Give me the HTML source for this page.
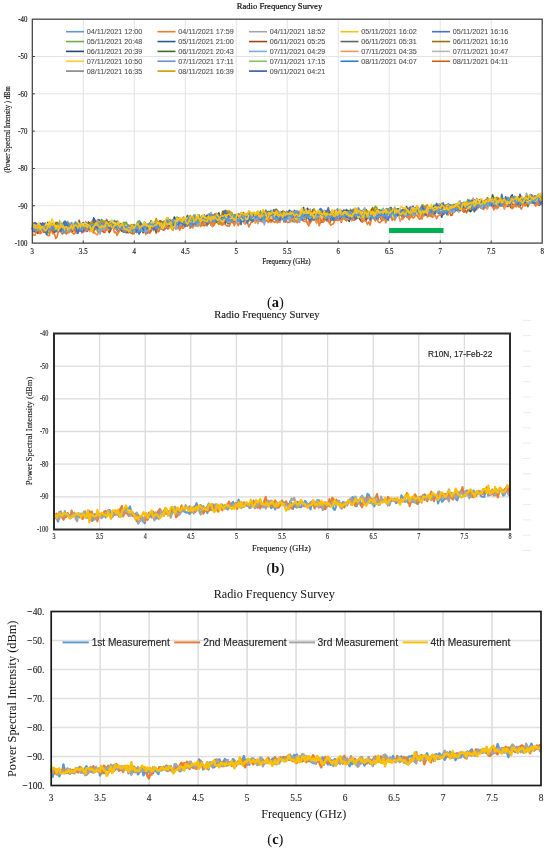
<!DOCTYPE html>
<html><head><meta charset="utf-8"><title>Radio Frequency Survey</title>
<style>html,body{margin:0;padding:0;background:#fff;}body{width:550px;height:852px;overflow:hidden;}</style>
</head><body>
<svg width="550" height="852" viewBox="0 0 550 852" style="display:block">
<rect width="550" height="852" fill="#fff"/>
<path d="M83.29 19.20V243.10M134.28 19.20V243.10M185.27 19.20V243.10M236.26 19.20V243.10M287.25 19.20V243.10M338.24 19.20V243.10M389.23 19.20V243.10M440.22 19.20V243.10M491.21 19.20V243.10M32.30 56.52H542.20M32.30 93.83H542.20M32.30 131.15H542.20M32.30 168.47H542.20M32.30 205.78H542.20" stroke="#E3E3E3" stroke-width="1" fill="none"/>

<polyline points="32.3,226.1 33.6,228.2 34.9,231.7 36.2,228.3 37.5,227.8 38.8,228.0 40.1,227.6 41.4,225.4 42.7,227.3 44.0,227.2 45.3,231.6 46.6,230.1 47.9,227.9 49.3,229.0 50.6,227.4 51.9,227.1 53.2,226.9 54.5,227.5 55.8,226.7 57.1,229.8 58.4,227.7 59.7,224.0 61.0,226.5 62.3,223.7 63.6,225.6 64.9,227.3 66.2,226.3 67.5,223.7 68.8,227.8 70.1,229.7 71.4,226.5 72.7,225.2 74.0,225.8 75.3,229.9 76.6,226.9 77.9,226.7 79.2,227.7 80.6,228.1 81.9,226.3 83.2,227.1 84.5,226.3 85.8,222.6 87.1,226.3 88.4,229.7 89.7,229.7 91.0,229.6 92.3,230.3 93.6,224.5 94.9,222.7 96.2,227.0 97.5,225.4 98.8,227.9 100.1,229.1 101.4,230.2 102.7,226.3 104.0,222.5 105.3,222.2 106.6,224.1 107.9,225.4 109.2,222.5 110.5,222.1 111.8,227.1 113.2,226.3 114.5,227.0 115.8,228.7 117.1,230.2 118.4,229.4 119.7,227.5 121.0,226.9 122.3,226.7 123.6,225.4 124.9,229.4 126.2,231.8 127.5,231.4 128.8,228.7 130.1,230.9 131.4,232.9 132.7,227.7 134.0,226.4 135.3,228.4 136.6,228.5 137.9,232.3 139.2,232.3 140.5,228.8 141.8,227.7 143.1,228.1 144.5,228.1 145.8,227.5 147.1,224.2 148.4,227.7 149.7,226.2 151.0,224.1 152.3,227.1 153.6,225.5 154.9,224.9 156.2,224.7 157.5,229.9 158.8,226.6 160.1,225.5 161.4,222.0 162.7,223.6 164.0,224.3 165.3,221.4 166.6,220.8 167.9,220.0 169.2,219.7 170.5,220.7 171.8,223.1 173.1,221.5 174.4,221.1 175.8,221.1 177.1,221.2 178.4,222.0 179.7,222.8 181.0,222.7 182.3,224.5 183.6,223.8 184.9,220.5 186.2,221.6 187.5,221.7 188.8,223.2 190.1,225.2 191.4,222.0 192.7,218.0 194.0,221.0 195.3,222.2 196.6,220.1 197.9,221.9 199.2,223.2 200.5,225.1 201.8,225.0 203.1,220.7 204.4,220.4 205.7,220.6 207.0,219.7 208.4,221.3 209.7,221.0 211.0,222.6 212.3,223.0 213.6,221.8 214.9,218.1 216.2,218.6 217.5,221.9 218.8,220.7 220.1,219.6 221.4,220.5 222.7,218.4 224.0,220.6 225.3,220.0 226.6,220.4 227.9,223.7 229.2,223.5 230.5,220.6 231.8,215.8 233.1,216.2 234.4,217.1 235.7,219.2 237.0,218.9 238.3,217.3 239.7,217.3 241.0,220.6 242.3,220.0 243.6,218.8 244.9,215.0 246.2,217.9 247.5,218.4 248.8,215.7 250.1,217.2 251.4,215.8 252.7,217.9 254.0,213.7 255.3,216.3 256.6,216.7 257.9,217.4 259.2,216.7 260.5,216.6 261.8,216.7 263.1,214.9 264.4,221.2 265.7,220.1 267.0,217.5 268.3,215.9 269.6,212.8 270.9,214.2 272.3,215.9 273.6,216.7 274.9,211.4 276.2,211.6 277.5,210.3 278.8,216.8 280.1,212.6 281.4,215.3 282.7,217.1 284.0,215.2 285.3,214.8 286.6,216.3 287.9,218.4 289.2,217.0 290.5,217.9 291.8,216.3 293.1,218.0 294.4,215.4 295.7,215.7 297.0,214.0 298.3,217.4 299.6,219.3 300.9,218.9 302.2,213.7 303.6,207.5 304.9,217.1 306.2,216.9 307.5,212.2 308.8,212.8 310.1,212.3 311.4,214.0 312.7,214.2 314.0,215.5 315.3,217.8 316.6,216.2 317.9,217.5 319.2,216.1 320.5,222.4 321.8,221.7 323.1,217.0 324.4,214.9 325.7,212.1 327.0,216.4 328.3,215.6 329.6,218.2 330.9,212.6 332.2,219.7 333.5,214.1 334.8,216.7 336.2,220.2 337.5,217.5 338.8,214.3 340.1,216.2 341.4,217.8 342.7,216.2 344.0,215.5 345.3,214.0 346.6,214.4 347.9,216.9 349.2,217.5 350.5,215.9 351.8,215.6 353.1,215.5 354.4,217.5 355.7,216.1 357.0,217.0 358.3,214.6 359.6,214.9 360.9,216.6 362.2,218.6 363.5,214.3 364.8,217.0 366.1,216.9 367.5,215.5 368.8,214.6 370.1,216.3 371.4,216.8 372.7,217.5 374.0,213.0 375.3,214.9 376.6,216.5 377.9,219.2 379.2,215.9 380.5,212.2 381.8,212.0 383.1,215.9 384.4,214.2 385.7,213.2 387.0,216.6 388.3,214.8 389.6,211.5 390.9,211.3 392.2,216.4 393.5,215.7 394.8,211.0 396.1,212.8 397.4,212.6 398.7,214.5 400.1,210.5 401.4,210.6 402.7,209.9 404.0,214.4 405.3,214.9 406.6,216.2 407.9,216.7 409.2,216.0 410.5,213.2 411.8,214.6 413.1,213.4 414.4,214.0 415.7,211.8 417.0,210.4 418.3,210.0 419.6,210.3 420.9,211.8 422.2,210.8 423.5,212.6 424.8,214.2 426.1,214.7 427.4,212.3 428.7,210.3 430.0,208.1 431.4,210.8 432.7,209.0 434.0,213.7 435.3,210.6 436.6,205.8 437.9,210.7 439.2,213.0 440.5,211.8 441.8,205.1 443.1,206.3 444.4,210.3 445.7,211.8 447.0,214.7 448.3,209.6 449.6,206.3 450.9,211.7 452.2,207.0 453.5,206.3 454.8,205.3 456.1,208.8 457.4,207.4 458.7,204.8 460.0,205.7 461.3,205.9 462.7,207.7 464.0,208.0 465.3,208.3 466.6,206.8 467.9,206.6 469.2,208.1 470.5,211.7 471.8,210.2 473.1,206.1 474.4,203.5 475.7,207.1 477.0,206.8 478.3,204.8 479.6,202.0 480.9,200.6 482.2,203.2 483.5,204.6 484.8,205.5 486.1,203.1 487.4,203.6 488.7,203.2 490.0,204.2 491.3,200.8 492.6,203.5 493.9,205.9 495.3,203.6 496.6,204.3 497.9,200.8 499.2,198.6 500.5,200.2 501.8,202.2 503.1,203.9 504.4,202.1 505.7,196.8 507.0,198.9 508.3,203.6 509.6,203.6 510.9,200.7 512.2,200.7 513.5,200.4 514.8,200.0 516.1,203.1 517.4,202.4 518.7,198.7 520.0,199.6 521.3,201.2 522.6,200.6 523.9,199.3 525.2,200.1 526.6,202.5 527.9,203.1 529.2,199.9 530.5,201.7 531.8,197.1 533.1,202.0 534.4,201.4 535.7,197.1 537.0,196.1 538.3,200.2 539.6,205.3 540.9,202.1 542.2,204.1" fill="none" stroke="#255E91" stroke-width="1.6" stroke-linejoin="round"/>
<polyline points="32.3,229.7 33.6,230.1 34.9,228.9 36.2,229.9 37.5,233.2 38.8,228.5 40.1,231.0 41.4,226.9 42.7,227.7 44.0,232.4 45.3,229.0 46.6,225.4 47.9,225.4 49.3,228.4 50.6,230.1 51.9,227.5 53.2,232.4 54.5,232.5 55.8,228.5 57.1,231.1 58.4,228.9 59.7,231.3 61.0,230.1 62.3,226.4 63.6,227.8 64.9,227.2 66.2,228.7 67.5,229.5 68.8,230.2 70.1,230.1 71.4,227.6 72.7,226.3 74.0,224.2 75.3,226.8 76.6,228.2 77.9,226.3 79.2,225.1 80.6,229.4 81.9,225.3 83.2,229.3 84.5,228.7 85.8,222.1 87.1,224.6 88.4,228.1 89.7,225.4 91.0,224.0 92.3,225.0 93.6,224.7 94.9,225.9 96.2,226.7 97.5,229.8 98.8,229.9 100.1,227.7 101.4,229.4 102.7,226.0 104.0,225.7 105.3,223.3 106.6,223.7 107.9,227.5 109.2,232.6 110.5,230.5 111.8,226.1 113.2,222.1 114.5,225.4 115.8,225.5 117.1,227.9 118.4,232.6 119.7,227.2 121.0,228.4 122.3,230.6 123.6,227.0 124.9,226.3 126.2,222.9 127.5,232.4 128.8,231.6 130.1,229.6 131.4,229.8 132.7,228.1 134.0,227.5 135.3,228.5 136.6,230.0 137.9,231.2 139.2,229.1 140.5,227.4 141.8,229.4 143.1,232.8 144.5,226.5 145.8,228.5 147.1,227.1 148.4,228.5 149.7,226.1 151.0,227.2 152.3,223.7 153.6,223.7 154.9,228.8 156.2,233.0 157.5,227.5 158.8,227.7 160.1,224.4 161.4,224.9 162.7,226.9 164.0,228.3 165.3,226.9 166.6,221.9 167.9,222.1 169.2,224.2 170.5,223.1 171.8,221.9 173.1,224.7 174.4,226.8 175.8,220.8 177.1,223.4 178.4,224.5 179.7,223.5 181.0,225.0 182.3,224.8 183.6,222.3 184.9,223.2 186.2,221.2 187.5,220.0 188.8,217.4 190.1,221.3 191.4,221.8 192.7,221.9 194.0,218.6 195.3,219.4 196.6,219.2 197.9,216.8 199.2,219.5 200.5,220.9 201.8,224.5 203.1,225.5 204.4,222.7 205.7,221.2 207.0,223.5 208.4,222.8 209.7,219.7 211.0,221.7 212.3,222.1 213.6,222.1 214.9,222.9 216.2,218.8 217.5,216.7 218.8,217.0 220.1,217.7 221.4,223.5 222.7,219.3 224.0,219.5 225.3,217.5 226.6,220.5 227.9,217.7 229.2,215.2 230.5,217.4 231.8,218.9 233.1,219.4 234.4,218.4 235.7,220.0 237.0,221.5 238.3,217.6 239.7,215.0 241.0,216.9 242.3,215.7 243.6,215.4 244.9,217.8 246.2,218.9 247.5,219.8 248.8,217.6 250.1,216.9 251.4,219.6 252.7,218.2 254.0,215.8 255.3,218.2 256.6,216.2 257.9,216.6 259.2,217.6 260.5,215.4 261.8,215.8 263.1,217.2 264.4,217.0 265.7,216.3 267.0,215.8 268.3,215.8 269.6,215.9 270.9,217.3 272.3,214.4 273.6,216.9 274.9,217.2 276.2,214.3 277.5,215.8 278.8,221.0 280.1,218.0 281.4,215.4 282.7,216.8 284.0,221.0 285.3,220.0 286.6,219.0 287.9,215.9 289.2,214.8 290.5,216.1 291.8,217.5 293.1,218.7 294.4,216.4 295.7,221.5 297.0,217.1 298.3,215.9 299.6,216.5 300.9,217.1 302.2,216.4 303.6,215.9 304.9,217.9 306.2,215.9 307.5,216.6 308.8,217.8 310.1,222.9 311.4,220.9 312.7,218.1 314.0,217.8 315.3,215.7 316.6,218.9 317.9,214.3 319.2,214.1 320.5,215.7 321.8,217.8 323.1,219.4 324.4,219.5 325.7,218.0 327.0,215.7 328.3,213.7 329.6,212.9 330.9,212.1 332.2,213.0 333.5,216.7 334.8,216.6 336.2,213.9 337.5,216.3 338.8,213.5 340.1,215.5 341.4,218.2 342.7,215.1 344.0,215.1 345.3,218.1 346.6,220.7 347.9,215.5 349.2,213.8 350.5,212.9 351.8,214.1 353.1,217.2 354.4,219.2 355.7,215.7 357.0,213.3 358.3,215.6 359.6,218.7 360.9,220.8 362.2,222.0 363.5,216.2 364.8,215.6 366.1,220.4 367.5,217.3 368.8,213.6 370.1,218.7 371.4,212.7 372.7,211.8 374.0,212.7 375.3,213.5 376.6,213.6 377.9,212.7 379.2,211.9 380.5,217.6 381.8,220.5 383.1,220.3 384.4,215.1 385.7,213.1 387.0,215.7 388.3,214.2 389.6,213.4 390.9,211.5 392.2,212.2 393.5,213.5 394.8,215.7 396.1,214.9 397.4,212.0 398.7,212.4 400.1,211.1 401.4,214.0 402.7,212.0 404.0,213.3 405.3,213.4 406.6,216.4 407.9,212.8 409.2,214.0 410.5,210.4 411.8,210.5 413.1,212.9 414.4,208.8 415.7,207.5 417.0,207.3 418.3,209.0 419.6,211.8 420.9,209.7 422.2,214.0 423.5,212.8 424.8,211.6 426.1,213.9 427.4,208.8 428.7,208.9 430.0,211.6 431.4,215.4 432.7,212.3 434.0,208.5 435.3,208.5 436.6,211.9 437.9,212.7 439.2,210.6 440.5,212.7 441.8,213.0 443.1,207.2 444.4,208.8 445.7,208.6 447.0,209.0 448.3,206.5 449.6,206.2 450.9,208.6 452.2,209.6 453.5,208.8 454.8,206.2 456.1,207.8 457.4,209.7 458.7,205.3 460.0,206.6 461.3,205.3 462.7,203.6 464.0,205.0 465.3,204.9 466.6,206.1 467.9,204.7 469.2,203.9 470.5,205.0 471.8,205.9 473.1,206.0 474.4,205.5 475.7,204.5 477.0,205.0 478.3,203.5 479.6,204.5 480.9,202.1 482.2,203.7 483.5,204.9 484.8,203.3 486.1,204.1 487.4,197.7 488.7,203.4 490.0,202.9 491.3,200.4 492.6,204.1 493.9,206.0 495.3,205.2 496.6,201.6 497.9,204.2 499.2,199.7 500.5,200.9 501.8,202.5 503.1,200.8 504.4,202.6 505.7,204.2 507.0,206.4 508.3,206.4 509.6,204.1 510.9,207.7 512.2,207.7 513.5,206.7 514.8,204.0 516.1,205.7 517.4,202.6 518.7,197.4 520.0,200.7 521.3,198.6 522.6,201.8 523.9,204.6 525.2,204.0 526.6,203.3 527.9,200.7 529.2,199.9 530.5,200.9 531.8,202.5 533.1,203.3 534.4,202.7 535.7,203.2 537.0,201.8 538.3,195.5 539.6,198.2 540.9,202.5 542.2,200.9" fill="none" stroke="#9E480E" stroke-width="1.6" stroke-linejoin="round"/>
<polyline points="32.3,230.2 33.6,231.6 34.9,229.2 36.2,231.6 37.5,231.1 38.8,228.3 40.1,227.6 41.4,229.3 42.7,227.2 44.0,224.4 45.3,223.5 46.6,225.0 47.9,227.0 49.3,224.9 50.6,227.5 51.9,227.8 53.2,225.3 54.5,225.8 55.8,226.4 57.1,228.7 58.4,227.6 59.7,226.0 61.0,225.1 62.3,226.2 63.6,229.2 64.9,222.5 66.2,224.4 67.5,227.7 68.8,224.5 70.1,226.7 71.4,226.8 72.7,224.0 74.0,229.0 75.3,230.0 76.6,229.3 77.9,226.8 79.2,220.2 80.6,226.8 81.9,229.1 83.2,226.5 84.5,224.2 85.8,223.8 87.1,226.5 88.4,221.9 89.7,224.9 91.0,227.9 92.3,227.5 93.6,225.0 94.9,225.5 96.2,226.3 97.5,224.0 98.8,219.5 100.1,221.3 101.4,226.0 102.7,226.3 104.0,223.7 105.3,227.5 106.6,229.4 107.9,228.0 109.2,228.5 110.5,228.8 111.8,226.6 113.2,227.1 114.5,226.4 115.8,225.4 117.1,227.7 118.4,230.1 119.7,228.9 121.0,226.1 122.3,229.7 123.6,230.2 124.9,227.8 126.2,230.3 127.5,230.5 128.8,228.4 130.1,229.2 131.4,230.4 132.7,229.7 134.0,227.1 135.3,228.5 136.6,230.5 137.9,229.1 139.2,225.5 140.5,227.9 141.8,227.5 143.1,227.5 144.5,228.7 145.8,228.1 147.1,229.4 148.4,227.7 149.7,224.8 151.0,225.9 152.3,223.3 153.6,224.8 154.9,224.5 156.2,225.5 157.5,226.6 158.8,222.5 160.1,221.3 161.4,223.5 162.7,224.5 164.0,224.7 165.3,222.8 166.6,220.9 167.9,221.0 169.2,222.6 170.5,223.2 171.8,223.0 173.1,223.9 174.4,224.4 175.8,219.3 177.1,223.7 178.4,224.2 179.7,219.8 181.0,220.3 182.3,220.9 183.6,222.8 184.9,221.8 186.2,218.9 187.5,215.3 188.8,219.3 190.1,220.9 191.4,220.2 192.7,221.5 194.0,224.0 195.3,225.5 196.6,221.9 197.9,223.6 199.2,219.6 200.5,222.0 201.8,222.8 203.1,224.2 204.4,224.0 205.7,222.6 207.0,220.5 208.4,221.6 209.7,221.5 211.0,221.5 212.3,219.2 213.6,218.7 214.9,219.2 216.2,222.3 217.5,222.6 218.8,222.7 220.1,220.0 221.4,224.4 222.7,217.7 224.0,219.8 225.3,220.9 226.6,219.4 227.9,219.8 229.2,219.7 230.5,218.1 231.8,217.7 233.1,219.1 234.4,216.3 235.7,220.5 237.0,217.3 238.3,217.9 239.7,220.1 241.0,216.3 242.3,215.6 243.6,220.6 244.9,217.3 246.2,217.6 247.5,218.1 248.8,220.9 250.1,216.5 251.4,214.6 252.7,216.7 254.0,219.0 255.3,218.4 256.6,216.9 257.9,218.3 259.2,220.9 260.5,221.1 261.8,220.9 263.1,216.9 264.4,212.3 265.7,213.2 267.0,216.8 268.3,216.7 269.6,214.5 270.9,214.3 272.3,213.4 273.6,215.2 274.9,216.8 276.2,214.4 277.5,212.3 278.8,214.1 280.1,212.0 281.4,217.2 282.7,217.0 284.0,215.6 285.3,215.7 286.6,213.8 287.9,214.4 289.2,213.7 290.5,213.0 291.8,217.9 293.1,216.3 294.4,212.4 295.7,216.5 297.0,219.2 298.3,219.1 299.6,219.3 300.9,217.1 302.2,215.5 303.6,214.9 304.9,214.3 306.2,215.7 307.5,213.9 308.8,214.1 310.1,218.9 311.4,218.5 312.7,216.1 314.0,217.9 315.3,214.7 316.6,217.3 317.9,217.7 319.2,215.1 320.5,211.5 321.8,217.1 323.1,216.5 324.4,216.9 325.7,214.7 327.0,215.4 328.3,215.6 329.6,214.7 330.9,215.8 332.2,215.0 333.5,214.1 334.8,215.2 336.2,216.3 337.5,217.3 338.8,214.9 340.1,215.0 341.4,216.0 342.7,217.1 344.0,217.3 345.3,216.8 346.6,211.7 347.9,211.9 349.2,211.2 350.5,218.4 351.8,218.7 353.1,214.8 354.4,215.2 355.7,216.3 357.0,216.5 358.3,216.7 359.6,219.0 360.9,210.5 362.2,214.0 363.5,214.5 364.8,212.6 366.1,214.4 367.5,213.7 368.8,212.5 370.1,212.2 371.4,212.4 372.7,211.2 374.0,211.1 375.3,212.8 376.6,212.9 377.9,214.3 379.2,212.9 380.5,217.1 381.8,217.9 383.1,215.7 384.4,213.4 385.7,215.0 387.0,214.2 388.3,210.4 389.6,208.5 390.9,207.5 392.2,209.8 393.5,211.2 394.8,212.3 396.1,215.0 397.4,213.2 398.7,212.5 400.1,210.2 401.4,211.2 402.7,214.2 404.0,213.2 405.3,211.3 406.6,212.1 407.9,213.3 409.2,211.5 410.5,215.6 411.8,212.0 413.1,214.0 414.4,215.5 415.7,212.8 417.0,210.2 418.3,214.7 419.6,212.7 420.9,211.9 422.2,212.8 423.5,212.7 424.8,211.6 426.1,210.0 427.4,208.8 428.7,215.9 430.0,210.9 431.4,209.2 432.7,213.3 434.0,209.3 435.3,207.9 436.6,210.0 437.9,209.4 439.2,211.1 440.5,212.3 441.8,211.4 443.1,210.4 444.4,207.6 445.7,209.5 447.0,207.2 448.3,205.7 449.6,205.2 450.9,207.2 452.2,207.2 453.5,209.6 454.8,209.3 456.1,203.8 457.4,204.6 458.7,209.1 460.0,208.5 461.3,203.4 462.7,204.6 464.0,203.0 465.3,202.5 466.6,205.2 467.9,204.5 469.2,207.9 470.5,206.0 471.8,203.2 473.1,202.1 474.4,204.0 475.7,203.8 477.0,205.5 478.3,203.2 479.6,206.5 480.9,205.3 482.2,204.6 483.5,205.8 484.8,205.1 486.1,203.6 487.4,200.6 488.7,200.7 490.0,201.4 491.3,201.4 492.6,201.8 493.9,204.3 495.3,203.4 496.6,202.2 497.9,200.3 499.2,200.6 500.5,200.9 501.8,203.1 503.1,199.1 504.4,202.6 505.7,203.7 507.0,201.7 508.3,201.1 509.6,201.2 510.9,198.7 512.2,202.2 513.5,203.4 514.8,203.9 516.1,199.2 517.4,201.5 518.7,203.0 520.0,205.5 521.3,203.7 522.6,202.1 523.9,199.4 525.2,197.7 526.6,197.7 527.9,201.2 529.2,199.5 530.5,196.5 531.8,197.6 533.1,197.4 534.4,196.5 535.7,197.8 537.0,197.9 538.3,194.7 539.6,201.0 540.9,198.9 542.2,197.4" fill="none" stroke="#636363" stroke-width="1.6" stroke-linejoin="round"/>
<polyline points="32.3,229.1 33.6,226.1 34.9,223.2 36.2,223.6 37.5,224.6 38.8,228.3 40.1,228.8 41.4,227.5 42.7,223.6 44.0,226.8 45.3,224.6 46.6,225.4 47.9,228.5 49.3,226.0 50.6,223.8 51.9,224.9 53.2,225.8 54.5,225.4 55.8,230.0 57.1,228.9 58.4,226.9 59.7,225.0 61.0,224.4 62.3,227.9 63.6,226.9 64.9,224.1 66.2,224.5 67.5,228.4 68.8,229.6 70.1,228.1 71.4,227.5 72.7,231.4 74.0,225.1 75.3,226.2 76.6,224.2 77.9,223.4 79.2,227.7 80.6,230.9 81.9,230.3 83.2,224.2 84.5,227.3 85.8,227.6 87.1,229.7 88.4,228.1 89.7,225.7 91.0,225.1 92.3,226.3 93.6,228.4 94.9,227.0 96.2,225.8 97.5,223.4 98.8,226.8 100.1,228.2 101.4,225.3 102.7,226.4 104.0,222.1 105.3,221.6 106.6,225.0 107.9,225.1 109.2,223.9 110.5,227.3 111.8,222.8 113.2,221.6 114.5,224.1 115.8,225.5 117.1,227.6 118.4,228.1 119.7,225.6 121.0,225.9 122.3,227.6 123.6,225.4 124.9,227.2 126.2,226.0 127.5,229.4 128.8,227.6 130.1,226.3 131.4,226.3 132.7,228.9 134.0,229.2 135.3,228.4 136.6,226.9 137.9,230.3 139.2,230.4 140.5,231.7 141.8,225.4 143.1,226.9 144.5,228.3 145.8,227.6 147.1,225.8 148.4,227.2 149.7,227.0 151.0,229.9 152.3,229.0 153.6,223.9 154.9,225.6 156.2,228.8 157.5,225.5 158.8,222.8 160.1,221.6 161.4,225.6 162.7,225.0 164.0,226.8 165.3,228.7 166.6,226.7 167.9,224.3 169.2,224.5 170.5,224.0 171.8,223.9 173.1,221.2 174.4,217.1 175.8,219.5 177.1,218.8 178.4,217.9 179.7,224.5 181.0,225.4 182.3,224.4 183.6,224.1 184.9,220.1 186.2,223.5 187.5,222.7 188.8,219.5 190.1,222.1 191.4,220.0 192.7,218.8 194.0,220.8 195.3,217.7 196.6,218.1 197.9,219.1 199.2,220.7 200.5,221.4 201.8,216.7 203.1,220.3 204.4,220.8 205.7,220.3 207.0,219.9 208.4,218.9 209.7,220.9 211.0,219.3 212.3,217.7 213.6,221.1 214.9,220.4 216.2,221.9 217.5,219.7 218.8,218.8 220.1,219.7 221.4,215.7 222.7,220.4 224.0,216.8 225.3,218.2 226.6,218.5 227.9,220.1 229.2,217.3 230.5,218.1 231.8,222.0 233.1,219.7 234.4,218.4 235.7,217.3 237.0,220.0 238.3,217.0 239.7,216.3 241.0,215.1 242.3,219.6 243.6,217.6 244.9,223.7 246.2,221.9 247.5,219.1 248.8,219.7 250.1,216.7 251.4,218.2 252.7,217.5 254.0,217.3 255.3,216.1 256.6,217.8 257.9,215.3 259.2,216.7 260.5,215.9 261.8,214.9 263.1,215.4 264.4,218.1 265.7,218.0 267.0,217.6 268.3,215.6 269.6,216.5 270.9,221.4 272.3,220.9 273.6,215.4 274.9,217.3 276.2,215.2 277.5,216.6 278.8,214.7 280.1,215.3 281.4,217.1 282.7,212.7 284.0,211.7 285.3,214.1 286.6,218.8 287.9,217.0 289.2,214.0 290.5,213.2 291.8,217.6 293.1,221.6 294.4,218.5 295.7,214.8 297.0,216.1 298.3,212.7 299.6,214.6 300.9,212.6 302.2,217.3 303.6,215.7 304.9,214.4 306.2,215.7 307.5,208.2 308.8,211.8 310.1,215.7 311.4,214.7 312.7,215.9 314.0,215.3 315.3,212.4 316.6,213.5 317.9,211.4 319.2,214.2 320.5,213.1 321.8,212.8 323.1,212.4 324.4,215.1 325.7,214.0 327.0,214.7 328.3,217.6 329.6,213.8 330.9,214.5 332.2,216.3 333.5,213.5 334.8,212.7 336.2,215.4 337.5,213.7 338.8,211.8 340.1,213.7 341.4,214.8 342.7,215.8 344.0,216.6 345.3,213.0 346.6,214.9 347.9,218.1 349.2,221.3 350.5,216.2 351.8,216.3 353.1,215.4 354.4,214.8 355.7,214.9 357.0,213.2 358.3,212.3 359.6,214.7 360.9,214.1 362.2,215.0 363.5,212.7 364.8,214.5 366.1,214.7 367.5,213.7 368.8,214.2 370.1,215.1 371.4,213.4 372.7,212.4 374.0,214.2 375.3,215.0 376.6,212.0 377.9,214.0 379.2,216.6 380.5,216.7 381.8,214.6 383.1,211.5 384.4,210.7 385.7,212.6 387.0,216.6 388.3,214.7 389.6,210.8 390.9,211.2 392.2,212.3 393.5,211.6 394.8,213.1 396.1,212.1 397.4,211.9 398.7,213.5 400.1,210.7 401.4,212.2 402.7,211.5 404.0,213.3 405.3,208.4 406.6,206.6 407.9,211.4 409.2,210.7 410.5,212.3 411.8,208.2 413.1,213.3 414.4,212.6 415.7,211.2 417.0,207.6 418.3,211.8 419.6,209.6 420.9,207.6 422.2,209.2 423.5,210.7 424.8,209.5 426.1,210.4 427.4,208.5 428.7,208.4 430.0,208.7 431.4,207.7 432.7,210.0 434.0,209.9 435.3,208.3 436.6,207.7 437.9,209.3 439.2,207.4 440.5,207.1 441.8,208.0 443.1,208.8 444.4,208.7 445.7,205.8 447.0,208.0 448.3,204.7 449.6,208.3 450.9,210.6 452.2,206.5 453.5,206.7 454.8,207.9 456.1,207.3 457.4,206.7 458.7,205.3 460.0,208.4 461.3,207.6 462.7,202.9 464.0,203.8 465.3,204.7 466.6,202.1 467.9,204.2 469.2,200.6 470.5,204.7 471.8,203.7 473.1,202.5 474.4,200.0 475.7,201.0 477.0,201.5 478.3,200.7 479.6,199.7 480.9,200.1 482.2,203.3 483.5,203.1 484.8,202.1 486.1,205.7 487.4,205.8 488.7,201.5 490.0,200.7 491.3,202.4 492.6,203.7 493.9,203.5 495.3,200.5 496.6,197.5 497.9,200.8 499.2,200.4 500.5,201.2 501.8,201.3 503.1,200.0 504.4,204.0 505.7,202.6 507.0,200.3 508.3,201.2 509.6,203.3 510.9,196.6 512.2,194.9 513.5,200.2 514.8,198.4 516.1,199.0 517.4,200.7 518.7,202.9 520.0,199.1 521.3,199.4 522.6,201.2 523.9,198.6 525.2,200.1 526.6,197.6 527.9,199.1 529.2,199.6 530.5,194.7 531.8,195.2 533.1,197.6 534.4,201.1 535.7,200.3 537.0,198.4 538.3,200.2 539.6,200.4 540.9,198.0 542.2,197.8" fill="none" stroke="#264478" stroke-width="1.6" stroke-linejoin="round"/>
<polyline points="32.3,226.9 33.6,227.4 34.9,228.5 36.2,230.1 37.5,228.0 38.8,227.3 40.1,226.2 41.4,227.4 42.7,228.6 44.0,223.8 45.3,223.3 46.6,228.0 47.9,229.5 49.3,222.5 50.6,222.7 51.9,226.1 53.2,230.1 54.5,224.3 55.8,224.8 57.1,229.8 58.4,232.4 59.7,225.9 61.0,228.3 62.3,227.5 63.6,225.8 64.9,225.1 66.2,227.4 67.5,226.1 68.8,226.8 70.1,227.5 71.4,226.4 72.7,227.7 74.0,228.0 75.3,228.3 76.6,230.7 77.9,229.8 79.2,229.4 80.6,226.6 81.9,228.8 83.2,223.1 84.5,225.3 85.8,227.1 87.1,229.3 88.4,227.2 89.7,222.7 91.0,225.9 92.3,229.1 93.6,224.0 94.9,221.8 96.2,225.6 97.5,224.8 98.8,222.8 100.1,228.9 101.4,223.6 102.7,225.6 104.0,223.6 105.3,221.5 106.6,222.1 107.9,222.6 109.2,221.8 110.5,225.4 111.8,225.0 113.2,226.4 114.5,225.3 115.8,227.2 117.1,228.9 118.4,228.2 119.7,225.6 121.0,230.5 122.3,231.4 123.6,232.1 124.9,231.6 126.2,232.7 127.5,232.0 128.8,230.6 130.1,225.6 131.4,228.1 132.7,231.3 134.0,233.7 135.3,230.7 136.6,226.1 137.9,228.1 139.2,226.3 140.5,226.7 141.8,227.7 143.1,228.2 144.5,227.9 145.8,228.1 147.1,228.3 148.4,226.0 149.7,223.4 151.0,224.6 152.3,228.2 153.6,224.4 154.9,224.1 156.2,225.6 157.5,222.8 158.8,221.7 160.1,220.8 161.4,227.3 162.7,223.7 164.0,225.7 165.3,223.6 166.6,221.4 167.9,219.4 169.2,222.1 170.5,223.9 171.8,220.8 173.1,220.5 174.4,220.9 175.8,227.3 177.1,224.4 178.4,228.1 179.7,222.4 181.0,221.9 182.3,223.1 183.6,220.9 184.9,220.3 186.2,218.2 187.5,217.6 188.8,220.4 190.1,221.9 191.4,222.5 192.7,219.1 194.0,221.1 195.3,221.6 196.6,220.3 197.9,222.4 199.2,222.0 200.5,220.8 201.8,219.5 203.1,223.3 204.4,224.0 205.7,222.5 207.0,222.3 208.4,221.7 209.7,218.9 211.0,219.8 212.3,215.4 213.6,216.4 214.9,218.8 216.2,219.0 217.5,216.2 218.8,212.8 220.1,216.8 221.4,220.1 222.7,217.1 224.0,211.0 225.3,218.7 226.6,219.0 227.9,218.1 229.2,218.3 230.5,215.2 231.8,218.4 233.1,217.6 234.4,215.9 235.7,215.6 237.0,217.2 238.3,216.8 239.7,218.8 241.0,224.4 242.3,217.2 243.6,216.5 244.9,217.1 246.2,216.3 247.5,220.2 248.8,215.7 250.1,218.7 251.4,220.4 252.7,220.0 254.0,217.3 255.3,218.1 256.6,216.6 257.9,219.3 259.2,215.3 260.5,216.1 261.8,212.9 263.1,215.4 264.4,217.7 265.7,218.6 267.0,220.9 268.3,218.8 269.6,219.8 270.9,217.8 272.3,212.9 273.6,217.7 274.9,215.6 276.2,215.4 277.5,216.8 278.8,217.0 280.1,216.8 281.4,212.0 282.7,213.0 284.0,213.7 285.3,218.7 286.6,217.2 287.9,217.5 289.2,213.8 290.5,215.8 291.8,216.9 293.1,215.1 294.4,214.8 295.7,214.6 297.0,211.5 298.3,212.5 299.6,214.5 300.9,214.3 302.2,216.7 303.6,218.6 304.9,217.2 306.2,220.0 307.5,214.7 308.8,216.7 310.1,219.9 311.4,215.0 312.7,209.9 314.0,216.0 315.3,216.2 316.6,215.4 317.9,217.6 319.2,213.0 320.5,215.5 321.8,214.6 323.1,213.6 324.4,215.2 325.7,214.9 327.0,219.3 328.3,219.3 329.6,216.0 330.9,216.9 332.2,216.9 333.5,215.3 334.8,213.2 336.2,211.1 337.5,209.9 338.8,211.0 340.1,212.8 341.4,216.8 342.7,217.7 344.0,218.1 345.3,216.1 346.6,213.4 347.9,210.5 349.2,215.2 350.5,213.9 351.8,215.7 353.1,216.0 354.4,217.5 355.7,209.9 357.0,212.9 358.3,214.3 359.6,214.9 360.9,216.9 362.2,212.7 363.5,212.5 364.8,211.2 366.1,209.7 367.5,211.9 368.8,215.1 370.1,215.6 371.4,216.1 372.7,210.1 374.0,215.3 375.3,212.2 376.6,214.8 377.9,213.4 379.2,213.7 380.5,215.1 381.8,211.3 383.1,211.2 384.4,212.2 385.7,210.4 387.0,209.3 388.3,215.2 389.6,215.3 390.9,216.6 392.2,215.4 393.5,214.0 394.8,213.6 396.1,212.0 397.4,208.8 398.7,210.2 400.1,212.8 401.4,211.7 402.7,212.8 404.0,210.5 405.3,212.5 406.6,213.1 407.9,215.3 409.2,212.8 410.5,208.9 411.8,216.4 413.1,213.3 414.4,213.2 415.7,212.4 417.0,209.3 418.3,213.1 419.6,215.1 420.9,212.3 422.2,211.1 423.5,208.8 424.8,206.9 426.1,207.7 427.4,208.2 428.7,211.3 430.0,211.7 431.4,209.0 432.7,207.2 434.0,206.6 435.3,207.7 436.6,210.2 437.9,210.3 439.2,206.4 440.5,207.4 441.8,212.2 443.1,208.2 444.4,208.0 445.7,210.7 447.0,211.2 448.3,206.8 449.6,207.3 450.9,210.8 452.2,208.1 453.5,205.1 454.8,206.9 456.1,204.5 457.4,208.9 458.7,205.2 460.0,207.5 461.3,209.3 462.7,207.4 464.0,205.5 465.3,208.7 466.6,204.4 467.9,205.5 469.2,211.1 470.5,206.2 471.8,203.6 473.1,208.1 474.4,211.6 475.7,204.6 477.0,201.9 478.3,201.6 479.6,206.6 480.9,207.6 482.2,205.5 483.5,202.1 484.8,205.6 486.1,205.0 487.4,206.8 488.7,201.1 490.0,202.7 491.3,201.3 492.6,194.8 493.9,198.9 495.3,201.4 496.6,202.8 497.9,203.9 499.2,205.6 500.5,201.3 501.8,202.4 503.1,203.1 504.4,204.8 505.7,199.5 507.0,200.3 508.3,201.1 509.6,202.0 510.9,199.8 512.2,198.4 513.5,199.6 514.8,203.8 516.1,205.1 517.4,201.3 518.7,200.7 520.0,206.2 521.3,203.9 522.6,201.8 523.9,199.6 525.2,197.8 526.6,199.9 527.9,198.1 529.2,199.4 530.5,197.9 531.8,200.5 533.1,199.3 534.4,197.3 535.7,199.9 537.0,204.6 538.3,200.6 539.6,198.0 540.9,199.1 542.2,201.1" fill="none" stroke="#43682B" stroke-width="1.6" stroke-linejoin="round"/>
<polyline points="32.3,229.2 33.6,228.2 34.9,227.9 36.2,232.0 37.5,226.4 38.8,223.7 40.1,226.6 41.4,227.0 42.7,225.0 44.0,229.4 45.3,230.5 46.6,230.3 47.9,227.4 49.3,225.8 50.6,226.5 51.9,225.2 53.2,224.4 54.5,225.6 55.8,228.1 57.1,226.7 58.4,224.3 59.7,228.4 61.0,227.8 62.3,227.7 63.6,227.6 64.9,229.6 66.2,228.7 67.5,221.2 68.8,223.6 70.1,227.6 71.4,226.5 72.7,225.2 74.0,226.6 75.3,225.5 76.6,227.7 77.9,227.6 79.2,227.1 80.6,228.6 81.9,232.0 83.2,227.5 84.5,225.4 85.8,225.3 87.1,227.5 88.4,225.4 89.7,225.9 91.0,230.0 92.3,230.4 93.6,225.3 94.9,226.1 96.2,221.9 97.5,219.7 98.8,224.9 100.1,226.1 101.4,224.3 102.7,223.3 104.0,225.6 105.3,221.2 106.6,220.7 107.9,222.0 109.2,223.9 110.5,221.4 111.8,221.8 113.2,225.2 114.5,220.2 115.8,223.8 117.1,224.4 118.4,225.8 119.7,224.4 121.0,223.4 122.3,228.0 123.6,230.7 124.9,229.1 126.2,230.6 127.5,229.7 128.8,228.2 130.1,227.4 131.4,225.8 132.7,229.6 134.0,228.1 135.3,228.1 136.6,223.7 137.9,221.4 139.2,224.8 140.5,223.6 141.8,228.0 143.1,231.1 144.5,230.9 145.8,230.8 147.1,229.0 148.4,226.3 149.7,222.8 151.0,223.1 152.3,223.9 153.6,225.7 154.9,226.2 156.2,224.5 157.5,223.7 158.8,223.2 160.1,223.0 161.4,224.7 162.7,228.4 164.0,227.3 165.3,225.0 166.6,220.5 167.9,223.4 169.2,221.4 170.5,219.3 171.8,221.6 173.1,223.5 174.4,223.7 175.8,224.4 177.1,221.3 178.4,219.1 179.7,219.8 181.0,219.5 182.3,218.6 183.6,216.9 184.9,221.4 186.2,220.6 187.5,218.6 188.8,218.8 190.1,225.6 191.4,222.7 192.7,221.4 194.0,222.0 195.3,218.4 196.6,219.0 197.9,221.1 199.2,223.6 200.5,223.2 201.8,221.6 203.1,219.1 204.4,222.4 205.7,224.8 207.0,223.5 208.4,220.3 209.7,214.3 211.0,212.5 212.3,217.7 213.6,215.7 214.9,214.0 216.2,214.7 217.5,218.4 218.8,221.2 220.1,220.7 221.4,222.2 222.7,217.8 224.0,216.8 225.3,221.3 226.6,218.2 227.9,216.0 229.2,213.8 230.5,213.4 231.8,215.4 233.1,218.8 234.4,218.0 235.7,215.2 237.0,218.1 238.3,216.9 239.7,213.8 241.0,216.8 242.3,220.3 243.6,218.4 244.9,216.3 246.2,217.1 247.5,214.6 248.8,214.5 250.1,218.4 251.4,218.7 252.7,218.2 254.0,219.6 255.3,217.0 256.6,217.2 257.9,216.0 259.2,218.6 260.5,218.5 261.8,214.0 263.1,218.4 264.4,219.0 265.7,218.7 267.0,218.1 268.3,218.8 269.6,217.2 270.9,218.0 272.3,217.2 273.6,215.1 274.9,213.9 276.2,214.7 277.5,216.8 278.8,214.9 280.1,215.5 281.4,216.3 282.7,218.6 284.0,214.4 285.3,214.1 286.6,211.1 287.9,213.3 289.2,217.7 290.5,218.0 291.8,213.8 293.1,216.1 294.4,214.1 295.7,214.3 297.0,210.5 298.3,213.3 299.6,211.1 300.9,211.6 302.2,215.7 303.6,215.3 304.9,212.0 306.2,214.6 307.5,216.5 308.8,211.9 310.1,209.1 311.4,213.4 312.7,212.1 314.0,214.1 315.3,212.4 316.6,214.5 317.9,212.2 319.2,213.4 320.5,214.9 321.8,214.7 323.1,216.5 324.4,217.9 325.7,217.7 327.0,215.9 328.3,216.8 329.6,214.0 330.9,212.9 332.2,213.4 333.5,215.3 334.8,214.8 336.2,214.0 337.5,212.1 338.8,216.0 340.1,216.0 341.4,215.3 342.7,215.6 344.0,216.9 345.3,216.1 346.6,213.3 347.9,215.4 349.2,212.2 350.5,209.2 351.8,211.6 353.1,217.4 354.4,213.2 355.7,212.4 357.0,213.5 358.3,217.0 359.6,213.9 360.9,215.6 362.2,211.1 363.5,209.6 364.8,207.8 366.1,214.1 367.5,216.7 368.8,211.7 370.1,211.4 371.4,213.5 372.7,210.4 374.0,212.0 375.3,215.8 376.6,214.7 377.9,214.2 379.2,213.1 380.5,212.4 381.8,213.9 383.1,213.1 384.4,211.6 385.7,212.7 387.0,213.5 388.3,213.6 389.6,214.1 390.9,216.8 392.2,213.5 393.5,214.5 394.8,213.4 396.1,215.2 397.4,211.2 398.7,212.1 400.1,215.0 401.4,212.6 402.7,212.8 404.0,208.2 405.3,210.4 406.6,213.1 407.9,211.5 409.2,211.0 410.5,208.9 411.8,210.1 413.1,210.9 414.4,213.3 415.7,209.1 417.0,205.8 418.3,208.4 419.6,210.3 420.9,210.6 422.2,212.1 423.5,210.8 424.8,212.3 426.1,210.8 427.4,211.3 428.7,211.8 430.0,209.7 431.4,212.5 432.7,210.8 434.0,211.6 435.3,205.0 436.6,203.4 437.9,205.1 439.2,203.8 440.5,206.0 441.8,206.8 443.1,208.8 444.4,209.6 445.7,207.6 447.0,208.3 448.3,207.6 449.6,205.5 450.9,207.3 452.2,210.0 453.5,207.7 454.8,207.8 456.1,207.1 457.4,207.4 458.7,202.1 460.0,200.7 461.3,205.8 462.7,203.2 464.0,203.4 465.3,206.4 466.6,203.6 467.9,200.4 469.2,200.6 470.5,200.3 471.8,205.7 473.1,205.4 474.4,202.9 475.7,202.4 477.0,203.2 478.3,204.1 479.6,204.4 480.9,204.3 482.2,203.4 483.5,207.7 484.8,200.5 486.1,203.4 487.4,205.3 488.7,202.4 490.0,204.6 491.3,201.8 492.6,202.2 493.9,200.1 495.3,198.8 496.6,198.3 497.9,201.5 499.2,201.8 500.5,201.6 501.8,203.5 503.1,199.9 504.4,200.6 505.7,202.6 507.0,197.6 508.3,197.3 509.6,202.1 510.9,198.9 512.2,196.7 513.5,198.0 514.8,202.2 516.1,203.3 517.4,201.1 518.7,201.1 520.0,200.2 521.3,199.6 522.6,198.9 523.9,200.7 525.2,198.9 526.6,193.3 527.9,198.1 529.2,197.7 530.5,198.3 531.8,199.0 533.1,200.8 534.4,198.4 535.7,198.6 537.0,196.4 538.3,194.1 539.6,197.3 540.9,197.5 542.2,200.5" fill="none" stroke="#A5A5A5" stroke-width="1.6" stroke-linejoin="round"/>
<polyline points="32.3,224.6 33.6,226.3 34.9,226.8 36.2,227.8 37.5,228.0 38.8,231.6 40.1,231.2 41.4,227.7 42.7,229.9 44.0,224.3 45.3,224.8 46.6,229.7 47.9,232.9 49.3,232.6 50.6,226.9 51.9,226.1 53.2,223.3 54.5,224.0 55.8,222.4 57.1,224.1 58.4,228.1 59.7,227.4 61.0,228.3 62.3,227.6 63.6,227.7 64.9,226.5 66.2,223.7 67.5,227.5 68.8,229.4 70.1,228.3 71.4,228.0 72.7,227.9 74.0,227.2 75.3,227.0 76.6,224.2 77.9,224.8 79.2,227.8 80.6,224.6 81.9,223.4 83.2,226.7 84.5,228.3 85.8,226.2 87.1,226.5 88.4,226.6 89.7,227.9 91.0,222.7 92.3,225.9 93.6,225.8 94.9,227.3 96.2,227.3 97.5,231.6 98.8,231.2 100.1,231.2 101.4,225.2 102.7,228.6 104.0,228.5 105.3,223.4 106.6,225.3 107.9,224.6 109.2,221.8 110.5,222.6 111.8,223.4 113.2,224.2 114.5,228.2 115.8,222.5 117.1,220.9 118.4,221.8 119.7,229.6 121.0,228.6 122.3,226.6 123.6,222.2 124.9,223.2 126.2,222.0 127.5,225.1 128.8,228.5 130.1,230.3 131.4,228.0 132.7,225.0 134.0,229.8 135.3,231.9 136.6,227.1 137.9,223.2 139.2,220.7 140.5,222.6 141.8,225.0 143.1,230.1 144.5,228.1 145.8,226.9 147.1,226.1 148.4,227.2 149.7,223.7 151.0,222.0 152.3,224.4 153.6,225.3 154.9,224.1 156.2,223.3 157.5,222.8 158.8,225.1 160.1,221.4 161.4,223.3 162.7,223.8 164.0,222.8 165.3,224.5 166.6,220.9 167.9,217.9 169.2,221.1 170.5,222.6 171.8,223.1 173.1,219.2 174.4,220.1 175.8,224.8 177.1,221.4 178.4,223.7 179.7,225.0 181.0,223.0 182.3,222.4 183.6,219.7 184.9,224.0 186.2,225.0 187.5,223.7 188.8,221.3 190.1,220.2 191.4,223.1 192.7,223.4 194.0,224.2 195.3,221.9 196.6,221.3 197.9,214.7 199.2,215.0 200.5,221.0 201.8,219.6 203.1,218.7 204.4,220.5 205.7,220.0 207.0,218.0 208.4,219.5 209.7,219.7 211.0,218.6 212.3,216.5 213.6,218.7 214.9,218.3 216.2,217.9 217.5,217.1 218.8,218.9 220.1,220.0 221.4,220.0 222.7,217.9 224.0,217.6 225.3,218.2 226.6,216.5 227.9,212.3 229.2,215.8 230.5,220.6 231.8,215.6 233.1,216.8 234.4,218.8 235.7,214.8 237.0,216.3 238.3,215.4 239.7,217.6 241.0,215.4 242.3,216.8 243.6,214.7 244.9,215.1 246.2,218.7 247.5,216.2 248.8,215.4 250.1,217.1 251.4,219.9 252.7,216.8 254.0,216.4 255.3,214.5 256.6,217.7 257.9,214.6 259.2,214.1 260.5,210.8 261.8,216.5 263.1,214.6 264.4,217.0 265.7,217.7 267.0,213.6 268.3,213.4 269.6,213.7 270.9,219.0 272.3,218.4 273.6,214.9 274.9,216.3 276.2,212.1 277.5,211.1 278.8,214.6 280.1,215.0 281.4,215.1 282.7,215.8 284.0,215.5 285.3,215.0 286.6,214.0 287.9,215.4 289.2,216.3 290.5,216.0 291.8,216.4 293.1,215.2 294.4,212.8 295.7,211.0 297.0,218.0 298.3,218.6 299.6,215.7 300.9,215.1 302.2,214.4 303.6,212.1 304.9,218.4 306.2,217.0 307.5,218.1 308.8,216.1 310.1,214.7 311.4,217.6 312.7,213.8 314.0,216.7 315.3,218.4 316.6,219.3 317.9,217.8 319.2,216.6 320.5,214.4 321.8,217.8 323.1,214.6 324.4,212.9 325.7,214.4 327.0,213.4 328.3,215.4 329.6,214.1 330.9,214.2 332.2,210.1 333.5,214.2 334.8,214.9 336.2,213.8 337.5,215.4 338.8,214.8 340.1,213.3 341.4,212.6 342.7,215.3 344.0,214.5 345.3,214.5 346.6,212.8 347.9,212.1 349.2,212.8 350.5,212.4 351.8,210.5 353.1,214.3 354.4,210.5 355.7,212.7 357.0,217.0 358.3,214.9 359.6,217.1 360.9,215.9 362.2,218.2 363.5,213.7 364.8,214.5 366.1,210.8 367.5,214.4 368.8,214.2 370.1,216.2 371.4,214.1 372.7,212.8 374.0,210.6 375.3,206.3 376.6,207.4 377.9,210.1 379.2,212.9 380.5,213.4 381.8,213.7 383.1,214.4 384.4,211.8 385.7,212.4 387.0,211.9 388.3,213.0 389.6,211.4 390.9,208.9 392.2,210.8 393.5,210.8 394.8,213.7 396.1,213.1 397.4,213.0 398.7,211.2 400.1,211.5 401.4,213.2 402.7,211.6 404.0,212.5 405.3,215.3 406.6,212.2 407.9,210.0 409.2,213.1 410.5,209.9 411.8,209.8 413.1,210.6 414.4,210.9 415.7,212.6 417.0,210.8 418.3,214.4 419.6,213.7 420.9,210.5 422.2,211.6 423.5,206.3 424.8,208.1 426.1,207.5 427.4,207.6 428.7,210.1 430.0,209.3 431.4,208.1 432.7,208.2 434.0,205.0 435.3,205.7 436.6,206.8 437.9,205.5 439.2,206.8 440.5,205.7 441.8,206.6 443.1,207.8 444.4,209.3 445.7,208.9 447.0,206.7 448.3,206.8 449.6,211.2 450.9,207.9 452.2,205.4 453.5,207.0 454.8,209.2 456.1,208.0 457.4,203.5 458.7,208.7 460.0,206.7 461.3,205.0 462.7,209.1 464.0,205.8 465.3,208.0 466.6,202.7 467.9,199.4 469.2,206.5 470.5,205.4 471.8,204.3 473.1,205.6 474.4,204.1 475.7,206.1 477.0,206.1 478.3,206.0 479.6,204.2 480.9,202.2 482.2,201.1 483.5,203.6 484.8,205.7 486.1,204.5 487.4,204.1 488.7,203.3 490.0,201.2 491.3,202.0 492.6,201.9 493.9,201.7 495.3,202.3 496.6,202.5 497.9,200.3 499.2,201.5 500.5,202.6 501.8,204.4 503.1,203.8 504.4,202.8 505.7,201.3 507.0,204.5 508.3,200.5 509.6,201.1 510.9,203.2 512.2,203.1 513.5,200.1 514.8,201.0 516.1,205.1 517.4,203.1 518.7,202.5 520.0,201.1 521.3,201.1 522.6,199.2 523.9,200.6 525.2,199.7 526.6,196.8 527.9,199.2 529.2,200.0 530.5,199.6 531.8,202.1 533.1,202.5 534.4,199.4 535.7,200.1 537.0,201.0 538.3,196.3 539.6,195.9 540.9,197.3 542.2,198.8" fill="none" stroke="#70AD47" stroke-width="1.6" stroke-linejoin="round"/>
<polyline points="32.3,227.9 33.6,226.2 34.9,228.1 36.2,228.1 37.5,224.7 38.8,226.6 40.1,226.6 41.4,223.8 42.7,227.6 44.0,227.4 45.3,229.4 46.6,226.6 47.9,230.0 49.3,231.0 50.6,227.6 51.9,225.9 53.2,222.9 54.5,226.1 55.8,228.3 57.1,228.5 58.4,228.1 59.7,226.4 61.0,228.2 62.3,228.6 63.6,227.5 64.9,225.4 66.2,227.1 67.5,227.5 68.8,231.0 70.1,227.3 71.4,226.0 72.7,229.6 74.0,230.2 75.3,224.3 76.6,225.5 77.9,229.9 79.2,228.0 80.6,226.1 81.9,223.7 83.2,223.3 84.5,223.4 85.8,222.8 87.1,225.8 88.4,225.8 89.7,226.4 91.0,223.2 92.3,220.2 93.6,224.2 94.9,227.2 96.2,228.7 97.5,222.9 98.8,221.8 100.1,222.1 101.4,227.4 102.7,224.8 104.0,228.6 105.3,230.0 106.6,226.6 107.9,225.7 109.2,225.7 110.5,225.1 111.8,223.8 113.2,221.9 114.5,226.5 115.8,228.6 117.1,228.7 118.4,227.4 119.7,229.7 121.0,225.8 122.3,228.6 123.6,229.1 124.9,229.4 126.2,227.9 127.5,229.8 128.8,228.5 130.1,226.3 131.4,225.0 132.7,225.5 134.0,229.3 135.3,228.9 136.6,230.7 137.9,228.0 139.2,228.0 140.5,228.1 141.8,225.1 143.1,225.0 144.5,229.8 145.8,227.4 147.1,227.7 148.4,226.5 149.7,227.5 151.0,225.7 152.3,222.4 153.6,224.2 154.9,227.5 156.2,223.4 157.5,229.1 158.8,228.7 160.1,226.7 161.4,224.7 162.7,223.2 164.0,223.4 165.3,223.9 166.6,224.1 167.9,224.3 169.2,223.2 170.5,224.1 171.8,220.5 173.1,225.4 174.4,224.1 175.8,219.3 177.1,221.6 178.4,224.1 179.7,220.5 181.0,219.6 182.3,221.0 183.6,220.8 184.9,218.5 186.2,222.4 187.5,220.9 188.8,221.8 190.1,225.0 191.4,222.2 192.7,222.6 194.0,219.9 195.3,218.3 196.6,217.1 197.9,221.0 199.2,218.8 200.5,224.2 201.8,222.8 203.1,217.1 204.4,219.8 205.7,219.6 207.0,221.8 208.4,223.2 209.7,218.4 211.0,219.4 212.3,217.4 213.6,218.6 214.9,216.2 216.2,213.1 217.5,216.7 218.8,218.4 220.1,221.1 221.4,218.3 222.7,221.5 224.0,221.0 225.3,220.0 226.6,218.8 227.9,220.4 229.2,217.8 230.5,219.6 231.8,214.8 233.1,216.6 234.4,217.9 235.7,217.6 237.0,217.8 238.3,217.4 239.7,219.5 241.0,216.4 242.3,215.3 243.6,223.0 244.9,221.3 246.2,213.4 247.5,215.1 248.8,218.9 250.1,219.6 251.4,219.3 252.7,218.9 254.0,216.0 255.3,218.2 256.6,220.2 257.9,220.7 259.2,217.7 260.5,215.3 261.8,213.8 263.1,220.2 264.4,218.1 265.7,219.6 267.0,215.5 268.3,220.1 269.6,216.7 270.9,215.0 272.3,217.3 273.6,218.1 274.9,215.7 276.2,213.1 277.5,213.7 278.8,214.1 280.1,211.5 281.4,214.6 282.7,215.7 284.0,217.9 285.3,216.3 286.6,214.6 287.9,217.2 289.2,216.5 290.5,215.1 291.8,217.2 293.1,219.7 294.4,215.6 295.7,213.5 297.0,215.2 298.3,215.1 299.6,217.8 300.9,214.2 302.2,215.9 303.6,216.1 304.9,216.7 306.2,212.4 307.5,213.2 308.8,210.8 310.1,215.1 311.4,214.3 312.7,214.9 314.0,219.0 315.3,217.2 316.6,215.5 317.9,211.6 319.2,214.1 320.5,216.6 321.8,215.5 323.1,218.9 324.4,215.7 325.7,214.4 327.0,212.4 328.3,215.5 329.6,218.9 330.9,214.0 332.2,211.1 333.5,216.1 334.8,216.0 336.2,217.0 337.5,216.5 338.8,218.3 340.1,212.5 341.4,210.4 342.7,216.6 344.0,215.6 345.3,216.6 346.6,215.1 347.9,212.7 349.2,212.7 350.5,211.4 351.8,213.4 353.1,213.1 354.4,208.2 355.7,210.9 357.0,213.6 358.3,215.3 359.6,213.1 360.9,211.6 362.2,212.5 363.5,214.1 364.8,214.2 366.1,214.4 367.5,216.5 368.8,217.2 370.1,217.8 371.4,215.1 372.7,211.1 374.0,213.5 375.3,216.4 376.6,216.8 377.9,218.0 379.2,213.7 380.5,212.0 381.8,215.7 383.1,216.2 384.4,214.4 385.7,212.5 387.0,212.6 388.3,213.1 389.6,212.3 390.9,213.4 392.2,212.3 393.5,210.2 394.8,213.5 396.1,213.7 397.4,211.2 398.7,213.2 400.1,213.7 401.4,216.4 402.7,214.7 404.0,212.7 405.3,211.5 406.6,210.2 407.9,209.8 409.2,210.7 410.5,211.1 411.8,210.2 413.1,209.4 414.4,208.2 415.7,210.8 417.0,210.2 418.3,207.3 419.6,209.0 420.9,213.0 422.2,211.6 423.5,210.7 424.8,210.6 426.1,213.1 427.4,213.7 428.7,208.7 430.0,209.2 431.4,209.3 432.7,210.3 434.0,207.9 435.3,209.4 436.6,205.2 437.9,207.6 439.2,204.8 440.5,207.2 441.8,207.3 443.1,205.6 444.4,207.7 445.7,207.1 447.0,206.8 448.3,210.6 449.6,208.0 450.9,207.7 452.2,205.9 453.5,207.4 454.8,205.8 456.1,208.1 457.4,209.3 458.7,207.3 460.0,203.8 461.3,208.8 462.7,208.5 464.0,206.0 465.3,208.1 466.6,204.9 467.9,206.7 469.2,207.5 470.5,208.9 471.8,206.1 473.1,202.7 474.4,204.5 475.7,203.5 477.0,202.4 478.3,202.2 479.6,204.5 480.9,201.9 482.2,200.1 483.5,202.7 484.8,204.8 486.1,204.0 487.4,205.2 488.7,202.4 490.0,205.0 491.3,203.3 492.6,200.9 493.9,203.9 495.3,202.2 496.6,200.2 497.9,203.8 499.2,202.8 500.5,202.1 501.8,203.9 503.1,200.4 504.4,198.4 505.7,199.2 507.0,202.0 508.3,198.9 509.6,198.9 510.9,200.3 512.2,199.6 513.5,201.0 514.8,199.8 516.1,197.7 517.4,198.3 518.7,197.7 520.0,200.4 521.3,200.9 522.6,201.7 523.9,199.8 525.2,200.1 526.6,205.4 527.9,203.7 529.2,200.0 530.5,200.9 531.8,203.5 533.1,200.5 534.4,196.3 535.7,198.5 537.0,202.2 538.3,201.1 539.6,203.2 540.9,200.2 542.2,199.8" fill="none" stroke="#B7B7B7" stroke-width="1.6" stroke-linejoin="round"/>
<polyline points="32.3,228.0 33.6,225.5 34.9,227.1 36.2,230.8 37.5,226.9 38.8,227.7 40.1,228.9 41.4,229.4 42.7,227.3 44.0,226.5 45.3,228.7 46.6,228.2 47.9,231.0 49.3,229.0 50.6,225.7 51.9,225.4 53.2,228.1 54.5,226.4 55.8,228.3 57.1,228.3 58.4,227.7 59.7,220.6 61.0,226.8 62.3,228.8 63.6,228.6 64.9,224.7 66.2,223.4 67.5,228.6 68.8,227.9 70.1,228.5 71.4,227.4 72.7,227.7 74.0,224.1 75.3,227.2 76.6,225.3 77.9,225.2 79.2,227.4 80.6,224.9 81.9,227.2 83.2,228.9 84.5,229.4 85.8,226.8 87.1,226.6 88.4,229.2 89.7,228.2 91.0,230.6 92.3,230.7 93.6,224.7 94.9,229.0 96.2,229.5 97.5,226.4 98.8,227.6 100.1,227.0 101.4,226.9 102.7,226.3 104.0,223.6 105.3,223.1 106.6,222.9 107.9,221.8 109.2,225.9 110.5,224.4 111.8,221.7 113.2,224.1 114.5,221.9 115.8,225.1 117.1,229.5 118.4,228.1 119.7,225.8 121.0,226.0 122.3,226.3 123.6,227.2 124.9,230.0 126.2,228.2 127.5,227.1 128.8,226.9 130.1,225.8 131.4,228.3 132.7,224.4 134.0,225.1 135.3,226.5 136.6,229.0 137.9,226.9 139.2,224.4 140.5,224.3 141.8,223.8 143.1,230.5 144.5,230.5 145.8,232.2 147.1,227.6 148.4,225.4 149.7,225.7 151.0,223.3 152.3,223.7 153.6,228.6 154.9,226.3 156.2,226.1 157.5,229.0 158.8,224.5 160.1,226.7 161.4,229.4 162.7,226.0 164.0,224.1 165.3,224.5 166.6,223.5 167.9,223.6 169.2,225.3 170.5,223.2 171.8,226.6 173.1,226.5 174.4,226.2 175.8,220.4 177.1,216.9 178.4,222.1 179.7,220.2 181.0,222.4 182.3,223.8 183.6,223.4 184.9,223.3 186.2,222.8 187.5,223.5 188.8,222.7 190.1,221.4 191.4,217.8 192.7,217.4 194.0,215.5 195.3,214.9 196.6,224.9 197.9,226.7 199.2,219.9 200.5,219.2 201.8,221.4 203.1,221.3 204.4,223.3 205.7,220.9 207.0,220.1 208.4,214.0 209.7,217.7 211.0,217.0 212.3,214.4 213.6,217.8 214.9,219.7 216.2,219.5 217.5,220.5 218.8,217.7 220.1,222.8 221.4,222.1 222.7,217.8 224.0,221.9 225.3,222.9 226.6,220.8 227.9,219.8 229.2,218.2 230.5,218.3 231.8,217.3 233.1,216.5 234.4,220.3 235.7,216.9 237.0,214.3 238.3,216.6 239.7,217.3 241.0,218.4 242.3,219.5 243.6,221.2 244.9,221.1 246.2,216.7 247.5,217.0 248.8,216.8 250.1,218.7 251.4,216.9 252.7,215.8 254.0,216.6 255.3,216.6 256.6,220.2 257.9,218.4 259.2,221.0 260.5,218.7 261.8,215.7 263.1,213.4 264.4,213.5 265.7,216.7 267.0,217.4 268.3,215.6 269.6,213.4 270.9,214.1 272.3,215.5 273.6,217.1 274.9,218.4 276.2,217.4 277.5,215.4 278.8,215.9 280.1,220.6 281.4,216.6 282.7,216.2 284.0,214.7 285.3,215.8 286.6,214.2 287.9,217.3 289.2,217.6 290.5,215.2 291.8,217.1 293.1,218.8 294.4,222.3 295.7,218.6 297.0,211.8 298.3,214.8 299.6,216.3 300.9,218.0 302.2,216.4 303.6,216.0 304.9,214.3 306.2,214.8 307.5,218.3 308.8,219.0 310.1,217.3 311.4,214.3 312.7,216.6 314.0,214.8 315.3,213.6 316.6,218.5 317.9,219.9 319.2,219.0 320.5,216.6 321.8,212.9 323.1,216.3 324.4,214.7 325.7,213.8 327.0,214.2 328.3,218.0 329.6,216.3 330.9,217.9 332.2,219.3 333.5,219.1 334.8,217.5 336.2,215.5 337.5,210.7 338.8,212.3 340.1,219.1 341.4,216.7 342.7,213.6 344.0,211.8 345.3,210.1 346.6,213.4 347.9,213.0 349.2,212.9 350.5,212.6 351.8,216.1 353.1,216.8 354.4,212.0 355.7,216.0 357.0,214.6 358.3,215.4 359.6,213.8 360.9,213.7 362.2,211.5 363.5,214.6 364.8,214.8 366.1,214.4 367.5,215.5 368.8,214.9 370.1,212.2 371.4,210.3 372.7,208.8 374.0,212.8 375.3,210.0 376.6,210.3 377.9,209.9 379.2,209.9 380.5,210.5 381.8,209.9 383.1,208.2 384.4,211.4 385.7,212.0 387.0,211.9 388.3,209.6 389.6,208.8 390.9,214.5 392.2,209.7 393.5,209.1 394.8,207.2 396.1,211.5 397.4,214.1 398.7,210.1 400.1,211.6 401.4,210.8 402.7,209.4 404.0,208.3 405.3,213.9 406.6,217.0 407.9,210.7 409.2,212.5 410.5,212.7 411.8,212.3 413.1,213.6 414.4,211.6 415.7,211.6 417.0,212.2 418.3,216.8 419.6,214.1 420.9,207.2 422.2,212.8 423.5,208.5 424.8,208.5 426.1,211.8 427.4,211.2 428.7,212.2 430.0,216.0 431.4,215.6 432.7,209.6 434.0,211.1 435.3,212.4 436.6,211.8 437.9,208.6 439.2,208.8 440.5,209.1 441.8,209.2 443.1,209.8 444.4,211.3 445.7,208.2 447.0,206.3 448.3,209.2 449.6,208.2 450.9,208.4 452.2,207.6 453.5,206.3 454.8,208.3 456.1,209.9 457.4,206.3 458.7,209.6 460.0,208.9 461.3,207.1 462.7,205.8 464.0,206.8 465.3,205.1 466.6,204.8 467.9,207.0 469.2,208.0 470.5,207.0 471.8,207.3 473.1,205.0 474.4,200.7 475.7,204.5 477.0,206.5 478.3,202.5 479.6,202.1 480.9,202.7 482.2,207.0 483.5,205.4 484.8,204.5 486.1,202.9 487.4,205.7 488.7,201.9 490.0,203.5 491.3,199.5 492.6,202.1 493.9,200.5 495.3,201.3 496.6,204.2 497.9,205.4 499.2,202.7 500.5,202.1 501.8,202.1 503.1,204.6 504.4,205.1 505.7,205.7 507.0,201.8 508.3,198.9 509.6,200.7 510.9,203.1 512.2,201.9 513.5,199.1 514.8,197.7 516.1,202.1 517.4,199.7 518.7,200.7 520.0,201.3 521.3,198.5 522.6,199.6 523.9,201.8 525.2,201.0 526.6,196.1 527.9,200.7 529.2,199.9 530.5,194.4 531.8,198.6 533.1,198.3 534.4,197.6 535.7,198.1 537.0,198.3 538.3,195.1 539.6,201.0 540.9,202.7 542.2,194.7" fill="none" stroke="#8CC168" stroke-width="1.6" stroke-linejoin="round"/>
<polyline points="32.3,225.8 33.6,228.4 34.9,227.4 36.2,227.4 37.5,224.6 38.8,230.4 40.1,230.4 41.4,228.6 42.7,229.1 44.0,228.0 45.3,225.3 46.6,226.6 47.9,225.8 49.3,223.7 50.6,227.9 51.9,223.5 53.2,228.7 54.5,228.2 55.8,224.9 57.1,223.9 58.4,225.0 59.7,223.6 61.0,231.5 62.3,225.9 63.6,222.9 64.9,221.0 66.2,222.5 67.5,223.1 68.8,223.0 70.1,227.3 71.4,228.1 72.7,226.6 74.0,227.6 75.3,230.5 76.6,227.0 77.9,224.4 79.2,223.3 80.6,223.9 81.9,226.3 83.2,227.0 84.5,228.2 85.8,227.6 87.1,231.0 88.4,225.9 89.7,226.9 91.0,225.9 92.3,225.1 93.6,224.3 94.9,224.5 96.2,222.2 97.5,227.7 98.8,228.4 100.1,227.0 101.4,226.1 102.7,226.3 104.0,225.9 105.3,226.0 106.6,219.3 107.9,222.0 109.2,226.3 110.5,225.9 111.8,225.7 113.2,227.3 114.5,225.5 115.8,228.7 117.1,224.5 118.4,225.8 119.7,226.1 121.0,224.3 122.3,227.8 123.6,225.2 124.9,226.4 126.2,225.1 127.5,226.0 128.8,226.4 130.1,226.4 131.4,225.7 132.7,229.6 134.0,229.0 135.3,226.1 136.6,226.6 137.9,227.7 139.2,229.2 140.5,229.4 141.8,230.7 143.1,227.2 144.5,225.0 145.8,226.3 147.1,225.7 148.4,225.8 149.7,225.0 151.0,224.8 152.3,228.9 153.6,228.0 154.9,225.1 156.2,227.0 157.5,224.1 158.8,226.5 160.1,223.8 161.4,223.2 162.7,225.9 164.0,226.1 165.3,228.3 166.6,223.3 167.9,225.7 169.2,226.5 170.5,222.0 171.8,223.7 173.1,221.8 174.4,223.5 175.8,223.6 177.1,224.1 178.4,228.1 179.7,224.1 181.0,221.8 182.3,225.7 183.6,222.9 184.9,222.7 186.2,225.8 187.5,226.1 188.8,221.8 190.1,221.6 191.4,219.6 192.7,221.7 194.0,221.9 195.3,220.6 196.6,219.1 197.9,219.1 199.2,217.1 200.5,218.4 201.8,218.0 203.1,219.7 204.4,221.6 205.7,220.6 207.0,219.5 208.4,224.0 209.7,218.7 211.0,221.9 212.3,221.6 213.6,224.2 214.9,219.9 216.2,218.2 217.5,219.9 218.8,221.5 220.1,220.5 221.4,221.0 222.7,220.1 224.0,218.1 225.3,217.9 226.6,216.0 227.9,218.0 229.2,218.9 230.5,220.4 231.8,219.1 233.1,218.5 234.4,221.4 235.7,217.1 237.0,218.3 238.3,215.9 239.7,216.2 241.0,215.7 242.3,218.9 243.6,216.4 244.9,218.1 246.2,222.9 247.5,221.4 248.8,218.1 250.1,219.2 251.4,218.9 252.7,221.1 254.0,215.3 255.3,215.3 256.6,215.3 257.9,218.0 259.2,217.7 260.5,216.8 261.8,215.2 263.1,216.2 264.4,217.3 265.7,210.0 267.0,212.1 268.3,212.0 269.6,215.1 270.9,216.0 272.3,218.8 273.6,219.3 274.9,217.7 276.2,218.2 277.5,213.4 278.8,213.7 280.1,214.9 281.4,213.2 282.7,216.4 284.0,219.2 285.3,213.5 286.6,212.0 287.9,215.0 289.2,217.0 290.5,217.1 291.8,212.3 293.1,216.2 294.4,213.8 295.7,218.5 297.0,218.5 298.3,216.6 299.6,213.7 300.9,212.5 302.2,214.4 303.6,218.5 304.9,219.2 306.2,214.7 307.5,213.1 308.8,216.1 310.1,217.6 311.4,216.3 312.7,219.9 314.0,219.7 315.3,218.8 316.6,220.1 317.9,218.5 319.2,215.0 320.5,213.7 321.8,214.9 323.1,216.5 324.4,215.5 325.7,217.1 327.0,215.3 328.3,213.6 329.6,212.2 330.9,214.8 332.2,216.6 333.5,214.3 334.8,214.2 336.2,213.5 337.5,216.0 338.8,217.9 340.1,216.4 341.4,215.2 342.7,215.8 344.0,218.2 345.3,213.0 346.6,215.3 347.9,216.8 349.2,217.8 350.5,216.5 351.8,212.0 353.1,209.3 354.4,214.3 355.7,212.7 357.0,215.5 358.3,214.0 359.6,214.1 360.9,211.3 362.2,217.2 363.5,218.9 364.8,214.2 366.1,211.9 367.5,214.3 368.8,216.2 370.1,214.4 371.4,213.4 372.7,216.1 374.0,213.6 375.3,212.5 376.6,210.1 377.9,211.9 379.2,211.3 380.5,215.3 381.8,213.3 383.1,211.3 384.4,211.8 385.7,209.2 387.0,208.6 388.3,213.2 389.6,211.4 390.9,214.1 392.2,212.7 393.5,210.5 394.8,209.9 396.1,211.2 397.4,212.1 398.7,215.2 400.1,214.1 401.4,211.0 402.7,211.6 404.0,212.8 405.3,214.8 406.6,211.5 407.9,213.7 409.2,207.7 410.5,206.8 411.8,212.6 413.1,212.1 414.4,211.4 415.7,214.0 417.0,210.8 418.3,215.2 419.6,212.3 420.9,211.8 422.2,210.2 423.5,212.8 424.8,211.2 426.1,206.3 427.4,210.0 428.7,210.1 430.0,213.1 431.4,212.1 432.7,211.9 434.0,211.2 435.3,209.2 436.6,209.4 437.9,209.0 439.2,206.9 440.5,207.6 441.8,208.6 443.1,208.0 444.4,206.3 445.7,209.6 447.0,210.6 448.3,207.3 449.6,206.0 450.9,206.4 452.2,206.8 453.5,206.1 454.8,205.1 456.1,209.8 457.4,209.7 458.7,207.4 460.0,205.5 461.3,204.2 462.7,206.0 464.0,206.4 465.3,206.0 466.6,203.9 467.9,203.2 469.2,203.2 470.5,202.1 471.8,202.0 473.1,204.4 474.4,203.4 475.7,208.6 477.0,206.2 478.3,202.9 479.6,200.6 480.9,202.1 482.2,202.1 483.5,203.1 484.8,200.5 486.1,204.1 487.4,205.3 488.7,205.3 490.0,205.0 491.3,199.6 492.6,197.5 493.9,199.1 495.3,201.9 496.6,203.5 497.9,200.9 499.2,201.3 500.5,205.4 501.8,200.8 503.1,202.6 504.4,203.4 505.7,203.4 507.0,198.5 508.3,198.5 509.6,201.4 510.9,201.4 512.2,197.9 513.5,203.0 514.8,202.5 516.1,203.4 517.4,200.0 518.7,203.6 520.0,200.0 521.3,198.9 522.6,204.1 523.9,200.5 525.2,198.9 526.6,198.7 527.9,199.5 529.2,199.1 530.5,200.7 531.8,196.2 533.1,198.5 534.4,200.3 535.7,200.4 537.0,198.9 538.3,198.7 539.6,196.7 540.9,200.1 542.2,200.3" fill="none" stroke="#848484" stroke-width="1.6" stroke-linejoin="round"/>
<polyline points="32.3,228.0 33.6,231.2 34.9,230.3 36.2,231.8 37.5,229.9 38.8,228.3 40.1,223.3 41.4,223.9 42.7,227.9 44.0,228.7 45.3,228.2 46.6,227.0 47.9,222.2 49.3,223.7 50.6,231.4 51.9,229.7 53.2,231.3 54.5,226.3 55.8,229.5 57.1,228.7 58.4,229.9 59.7,227.9 61.0,227.2 62.3,226.8 63.6,226.9 64.9,228.9 66.2,228.3 67.5,225.5 68.8,228.2 70.1,230.8 71.4,228.1 72.7,230.1 74.0,228.7 75.3,222.9 76.6,223.0 77.9,227.1 79.2,228.0 80.6,224.7 81.9,232.6 83.2,231.5 84.5,228.4 85.8,226.7 87.1,231.5 88.4,228.6 89.7,226.7 91.0,223.4 92.3,226.3 93.6,217.9 94.9,220.2 96.2,225.0 97.5,224.6 98.8,224.8 100.1,224.8 101.4,227.0 102.7,222.7 104.0,221.9 105.3,222.5 106.6,221.0 107.9,225.9 109.2,225.6 110.5,221.6 111.8,224.0 113.2,226.2 114.5,223.0 115.8,226.0 117.1,222.0 118.4,223.0 119.7,224.8 121.0,224.1 122.3,227.8 123.6,227.8 124.9,225.4 126.2,227.3 127.5,225.6 128.8,226.1 130.1,229.5 131.4,233.3 132.7,229.2 134.0,226.8 135.3,230.2 136.6,227.2 137.9,228.9 139.2,230.4 140.5,229.4 141.8,231.1 143.1,225.6 144.5,221.9 145.8,224.6 147.1,226.6 148.4,228.3 149.7,227.1 151.0,224.2 152.3,224.5 153.6,225.2 154.9,223.4 156.2,223.3 157.5,227.5 158.8,225.6 160.1,228.0 161.4,225.6 162.7,222.8 164.0,221.3 165.3,224.3 166.6,225.8 167.9,224.8 169.2,222.7 170.5,223.9 171.8,224.4 173.1,222.2 174.4,223.9 175.8,220.0 177.1,222.9 178.4,225.9 179.7,220.9 181.0,220.5 182.3,221.5 183.6,221.0 184.9,221.4 186.2,224.9 187.5,225.2 188.8,221.5 190.1,220.2 191.4,222.8 192.7,220.4 194.0,221.0 195.3,223.3 196.6,223.2 197.9,222.8 199.2,223.2 200.5,221.3 201.8,222.3 203.1,218.5 204.4,219.4 205.7,218.4 207.0,215.2 208.4,220.0 209.7,218.9 211.0,221.5 212.3,220.6 213.6,221.7 214.9,220.5 216.2,217.4 217.5,220.4 218.8,222.1 220.1,220.5 221.4,219.1 222.7,218.3 224.0,219.4 225.3,223.7 226.6,218.3 227.9,212.9 229.2,217.5 230.5,218.6 231.8,218.1 233.1,222.9 234.4,220.1 235.7,215.9 237.0,216.9 238.3,219.4 239.7,219.4 241.0,219.4 242.3,215.6 243.6,215.2 244.9,219.5 246.2,215.9 247.5,217.2 248.8,215.2 250.1,214.1 251.4,215.9 252.7,214.2 254.0,215.7 255.3,214.9 256.6,216.7 257.9,215.4 259.2,215.1 260.5,217.4 261.8,218.7 263.1,217.5 264.4,213.9 265.7,215.8 267.0,214.6 268.3,211.5 269.6,218.2 270.9,218.7 272.3,216.7 273.6,215.9 274.9,215.4 276.2,212.1 277.5,216.4 278.8,217.5 280.1,215.0 281.4,215.5 282.7,215.6 284.0,215.5 285.3,215.4 286.6,214.3 287.9,216.9 289.2,210.3 290.5,211.1 291.8,212.6 293.1,212.1 294.4,215.7 295.7,215.0 297.0,212.7 298.3,214.5 299.6,214.8 300.9,213.8 302.2,216.2 303.6,218.7 304.9,219.1 306.2,216.0 307.5,215.3 308.8,218.2 310.1,214.9 311.4,212.8 312.7,212.2 314.0,216.2 315.3,219.4 316.6,218.5 317.9,220.0 319.2,219.3 320.5,218.0 321.8,213.6 323.1,217.6 324.4,216.1 325.7,215.0 327.0,216.5 328.3,210.6 329.6,216.7 330.9,220.3 332.2,217.8 333.5,218.4 334.8,217.2 336.2,216.3 337.5,213.9 338.8,213.5 340.1,210.3 341.4,215.8 342.7,211.1 344.0,210.0 345.3,213.4 346.6,209.6 347.9,211.8 349.2,212.7 350.5,210.3 351.8,213.1 353.1,215.0 354.4,212.6 355.7,213.9 357.0,212.6 358.3,212.7 359.6,215.7 360.9,213.8 362.2,213.0 363.5,216.7 364.8,218.9 366.1,216.1 367.5,212.8 368.8,212.2 370.1,213.1 371.4,211.8 372.7,212.1 374.0,214.4 375.3,213.5 376.6,213.4 377.9,211.2 379.2,209.9 380.5,211.0 381.8,213.3 383.1,211.1 384.4,211.3 385.7,215.2 387.0,213.7 388.3,214.2 389.6,211.7 390.9,210.1 392.2,214.2 393.5,215.8 394.8,216.7 396.1,213.8 397.4,211.3 398.7,208.8 400.1,214.0 401.4,212.0 402.7,209.9 404.0,209.8 405.3,213.1 406.6,212.0 407.9,215.4 409.2,213.4 410.5,211.0 411.8,213.0 413.1,211.8 414.4,209.6 415.7,213.1 417.0,213.9 418.3,212.9 419.6,209.3 420.9,209.6 422.2,212.8 423.5,212.1 424.8,210.3 426.1,208.5 427.4,208.4 428.7,209.6 430.0,210.6 431.4,211.5 432.7,208.6 434.0,206.5 435.3,208.2 436.6,208.6 437.9,205.8 439.2,207.8 440.5,213.5 441.8,217.3 443.1,211.9 444.4,208.9 445.7,206.2 447.0,206.8 448.3,208.9 449.6,208.9 450.9,207.5 452.2,209.4 453.5,207.3 454.8,204.7 456.1,206.9 457.4,209.5 458.7,209.5 460.0,208.4 461.3,207.8 462.7,210.0 464.0,207.0 465.3,205.5 466.6,202.1 467.9,204.9 469.2,209.2 470.5,204.3 471.8,204.5 473.1,208.4 474.4,204.4 475.7,204.7 477.0,205.1 478.3,207.7 479.6,206.1 480.9,201.7 482.2,201.2 483.5,202.3 484.8,204.2 486.1,201.8 487.4,205.9 488.7,205.1 490.0,202.6 491.3,205.1 492.6,204.1 493.9,206.8 495.3,206.8 496.6,202.5 497.9,205.0 499.2,204.9 500.5,201.8 501.8,201.2 503.1,199.6 504.4,199.4 505.7,201.4 507.0,202.8 508.3,202.2 509.6,201.0 510.9,199.5 512.2,200.9 513.5,200.4 514.8,198.5 516.1,199.5 517.4,200.4 518.7,199.6 520.0,194.4 521.3,197.6 522.6,201.7 523.9,198.8 525.2,197.9 526.6,196.8 527.9,198.9 529.2,201.6 530.5,202.0 531.8,199.7 533.1,199.9 534.4,199.6 535.7,197.5 537.0,198.8 538.3,197.6 539.6,197.0 540.9,196.6 542.2,196.8" fill="none" stroke="#335AA1" stroke-width="1.6" stroke-linejoin="round"/>
<polyline points="32.3,229.3 33.6,225.4 34.9,223.1 36.2,226.7 37.5,229.3 38.8,230.2 40.1,225.6 41.4,227.8 42.7,226.6 44.0,225.8 45.3,228.6 46.6,226.5 47.9,224.5 49.3,228.0 50.6,227.5 51.9,227.4 53.2,229.9 54.5,227.6 55.8,223.7 57.1,222.3 58.4,227.6 59.7,226.6 61.0,225.9 62.3,227.1 63.6,227.8 64.9,227.3 66.2,227.9 67.5,228.5 68.8,227.5 70.1,228.2 71.4,231.5 72.7,227.5 74.0,227.0 75.3,227.4 76.6,230.0 77.9,223.5 79.2,226.8 80.6,229.8 81.9,225.0 83.2,225.4 84.5,227.1 85.8,224.1 87.1,225.3 88.4,228.6 89.7,227.9 91.0,224.6 92.3,222.4 93.6,225.3 94.9,222.8 96.2,224.9 97.5,226.4 98.8,223.3 100.1,226.7 101.4,227.1 102.7,229.7 104.0,226.2 105.3,223.8 106.6,227.5 107.9,227.6 109.2,221.6 110.5,222.8 111.8,225.9 113.2,224.6 114.5,221.9 115.8,226.8 117.1,224.2 118.4,224.7 119.7,225.9 121.0,226.7 122.3,226.0 123.6,229.2 124.9,227.3 126.2,225.2 127.5,228.1 128.8,227.9 130.1,227.5 131.4,233.1 132.7,233.7 134.0,226.8 135.3,227.3 136.6,227.7 137.9,229.1 139.2,228.0 140.5,226.2 141.8,227.6 143.1,229.0 144.5,229.9 145.8,231.6 147.1,232.5 148.4,228.3 149.7,225.8 151.0,220.7 152.3,225.9 153.6,226.8 154.9,222.0 156.2,225.6 157.5,225.5 158.8,222.2 160.1,221.4 161.4,221.4 162.7,222.6 164.0,225.9 165.3,225.8 166.6,224.9 167.9,222.7 169.2,223.2 170.5,220.8 171.8,221.7 173.1,223.0 174.4,227.1 175.8,223.4 177.1,223.8 178.4,220.3 179.7,221.1 181.0,219.6 182.3,219.6 183.6,222.1 184.9,222.1 186.2,218.0 187.5,217.5 188.8,222.2 190.1,223.4 191.4,219.5 192.7,222.4 194.0,221.2 195.3,223.4 196.6,217.7 197.9,218.0 199.2,220.3 200.5,222.9 201.8,225.5 203.1,219.9 204.4,217.3 205.7,218.5 207.0,221.1 208.4,217.8 209.7,218.5 211.0,223.0 212.3,224.0 213.6,221.3 214.9,217.0 216.2,218.7 217.5,214.3 218.8,215.7 220.1,221.4 221.4,218.0 222.7,211.2 224.0,216.5 225.3,216.5 226.6,217.2 227.9,218.8 229.2,219.4 230.5,217.3 231.8,216.5 233.1,215.9 234.4,216.0 235.7,220.0 237.0,219.5 238.3,216.2 239.7,217.6 241.0,221.8 242.3,219.1 243.6,212.5 244.9,216.5 246.2,217.2 247.5,215.9 248.8,216.4 250.1,220.1 251.4,218.2 252.7,214.2 254.0,218.0 255.3,216.3 256.6,213.3 257.9,216.1 259.2,217.2 260.5,218.9 261.8,218.0 263.1,214.0 264.4,214.4 265.7,215.5 267.0,216.2 268.3,211.9 269.6,211.4 270.9,215.0 272.3,217.8 273.6,217.2 274.9,209.8 276.2,209.1 277.5,215.5 278.8,216.3 280.1,219.9 281.4,216.9 282.7,211.0 284.0,212.0 285.3,212.9 286.6,215.5 287.9,217.1 289.2,215.4 290.5,212.2 291.8,212.9 293.1,212.7 294.4,213.6 295.7,216.1 297.0,215.2 298.3,217.4 299.6,217.7 300.9,215.0 302.2,217.1 303.6,212.2 304.9,214.4 306.2,218.1 307.5,217.4 308.8,217.1 310.1,213.2 311.4,213.4 312.7,213.9 314.0,211.4 315.3,214.4 316.6,216.0 317.9,217.7 319.2,218.0 320.5,214.5 321.8,213.2 323.1,214.8 324.4,214.4 325.7,214.0 327.0,211.2 328.3,213.4 329.6,212.8 330.9,215.5 332.2,217.8 333.5,219.4 334.8,217.8 336.2,215.1 337.5,216.7 338.8,213.3 340.1,216.2 341.4,219.1 342.7,215.6 344.0,215.0 345.3,210.7 346.6,213.0 347.9,216.7 349.2,215.7 350.5,218.6 351.8,218.9 353.1,215.4 354.4,213.7 355.7,214.6 357.0,212.9 358.3,217.6 359.6,213.7 360.9,213.9 362.2,216.9 363.5,213.7 364.8,213.6 366.1,212.0 367.5,216.4 368.8,213.2 370.1,213.3 371.4,209.5 372.7,207.7 374.0,213.5 375.3,214.3 376.6,213.6 377.9,213.0 379.2,211.4 380.5,214.4 381.8,215.2 383.1,213.7 384.4,212.5 385.7,210.4 387.0,213.9 388.3,214.5 389.6,211.8 390.9,212.1 392.2,215.4 393.5,215.0 394.8,215.8 396.1,212.4 397.4,214.6 398.7,214.9 400.1,214.1 401.4,214.6 402.7,212.4 404.0,210.2 405.3,210.3 406.6,207.5 407.9,211.9 409.2,215.8 410.5,213.4 411.8,212.9 413.1,209.9 414.4,211.4 415.7,211.5 417.0,214.6 418.3,213.2 419.6,211.2 420.9,211.7 422.2,210.5 423.5,208.1 424.8,213.3 426.1,213.4 427.4,208.3 428.7,209.7 430.0,211.7 431.4,209.2 432.7,208.4 434.0,210.9 435.3,208.5 436.6,209.3 437.9,207.9 439.2,213.0 440.5,206.4 441.8,208.3 443.1,207.1 444.4,209.7 445.7,207.7 447.0,206.2 448.3,208.2 449.6,209.9 450.9,210.7 452.2,210.0 453.5,207.1 454.8,209.0 456.1,206.2 457.4,206.8 458.7,207.5 460.0,208.4 461.3,208.6 462.7,210.5 464.0,205.9 465.3,206.0 466.6,203.8 467.9,207.1 469.2,207.5 470.5,205.8 471.8,206.4 473.1,208.5 474.4,209.9 475.7,207.4 477.0,205.6 478.3,202.6 479.6,202.6 480.9,205.2 482.2,202.5 483.5,205.1 484.8,205.0 486.1,204.4 487.4,204.5 488.7,200.5 490.0,198.9 491.3,203.4 492.6,201.5 493.9,201.4 495.3,200.8 496.6,201.9 497.9,198.7 499.2,199.0 500.5,198.7 501.8,196.6 503.1,201.6 504.4,201.1 505.7,199.0 507.0,198.2 508.3,199.8 509.6,198.6 510.9,197.2 512.2,200.1 513.5,200.7 514.8,201.3 516.1,205.1 517.4,199.7 518.7,197.5 520.0,195.9 521.3,201.6 522.6,199.5 523.9,198.2 525.2,198.4 526.6,203.2 527.9,206.8 529.2,200.7 530.5,198.7 531.8,198.8 533.1,200.8 534.4,201.2 535.7,199.8 537.0,201.2 538.3,200.9 539.6,198.0 540.9,197.4 542.2,200.2" fill="none" stroke="#997300" stroke-width="1.6" stroke-linejoin="round"/>
<polyline points="32.3,229.1 33.6,229.6 34.9,226.0 36.2,225.5 37.5,228.4 38.8,233.1 40.1,232.2 41.4,227.4 42.7,229.2 44.0,227.9 45.3,224.6 46.6,226.3 47.9,227.9 49.3,226.0 50.6,226.5 51.9,229.4 53.2,231.5 54.5,226.8 55.8,231.0 57.1,229.8 58.4,227.1 59.7,226.1 61.0,226.5 62.3,230.1 63.6,229.8 64.9,230.1 66.2,233.4 67.5,232.5 68.8,232.3 70.1,231.0 71.4,229.0 72.7,229.8 74.0,230.0 75.3,231.2 76.6,230.9 77.9,231.1 79.2,228.8 80.6,227.4 81.9,231.2 83.2,231.0 84.5,229.8 85.8,230.0 87.1,227.1 88.4,224.7 89.7,226.7 91.0,224.9 92.3,222.3 93.6,224.2 94.9,229.4 96.2,227.3 97.5,226.6 98.8,227.2 100.1,226.8 101.4,228.5 102.7,231.4 104.0,232.4 105.3,232.0 106.6,227.3 107.9,228.8 109.2,225.6 110.5,227.3 111.8,225.4 113.2,222.8 114.5,228.7 115.8,227.0 117.1,227.9 118.4,228.3 119.7,228.1 121.0,226.9 122.3,228.0 123.6,228.0 124.9,231.0 126.2,227.6 127.5,230.2 128.8,232.8 130.1,230.1 131.4,228.1 132.7,229.5 134.0,230.1 135.3,229.1 136.6,228.6 137.9,231.1 139.2,229.5 140.5,230.4 141.8,227.7 143.1,230.0 144.5,226.7 145.8,229.1 147.1,230.1 148.4,231.3 149.7,233.1 151.0,231.3 152.3,226.3 153.6,229.0 154.9,227.7 156.2,229.0 157.5,231.0 158.8,231.6 160.1,227.2 161.4,226.0 162.7,229.8 164.0,230.1 165.3,222.2 166.6,226.9 167.9,229.0 169.2,227.4 170.5,225.1 171.8,222.7 173.1,220.7 174.4,224.2 175.8,227.0 177.1,224.3 178.4,221.9 179.7,224.5 181.0,223.3 182.3,226.3 183.6,223.2 184.9,221.7 186.2,220.4 187.5,223.8 188.8,222.0 190.1,218.8 191.4,220.3 192.7,224.0 194.0,225.0 195.3,223.9 196.6,223.7 197.9,223.8 199.2,220.7 200.5,220.8 201.8,218.8 203.1,222.6 204.4,220.3 205.7,220.1 207.0,221.2 208.4,221.2 209.7,219.8 211.0,225.2 212.3,225.2 213.6,220.1 214.9,214.1 216.2,218.0 217.5,222.3 218.8,217.6 220.1,219.3 221.4,223.7 222.7,225.0 224.0,221.9 225.3,221.3 226.6,219.7 227.9,222.6 229.2,219.5 230.5,218.4 231.8,221.8 233.1,222.4 234.4,218.3 235.7,220.6 237.0,217.6 238.3,215.1 239.7,218.3 241.0,218.0 242.3,218.4 243.6,218.9 244.9,216.8 246.2,214.9 247.5,217.1 248.8,217.0 250.1,219.3 251.4,218.8 252.7,217.8 254.0,218.4 255.3,218.8 256.6,220.3 257.9,217.5 259.2,216.6 260.5,215.7 261.8,219.6 263.1,219.6 264.4,217.6 265.7,218.1 267.0,218.2 268.3,218.6 269.6,220.4 270.9,219.3 272.3,219.7 273.6,217.9 274.9,219.1 276.2,217.0 277.5,219.2 278.8,216.3 280.1,217.7 281.4,217.9 282.7,219.5 284.0,219.6 285.3,222.0 286.6,217.0 287.9,215.2 289.2,218.2 290.5,221.8 291.8,219.1 293.1,214.4 294.4,214.7 295.7,218.1 297.0,219.9 298.3,214.8 299.6,215.6 300.9,219.7 302.2,217.2 303.6,215.7 304.9,215.3 306.2,217.4 307.5,216.8 308.8,213.3 310.1,215.2 311.4,220.4 312.7,218.7 314.0,216.8 315.3,219.2 316.6,220.6 317.9,219.8 319.2,219.5 320.5,219.4 321.8,220.6 323.1,222.2 324.4,216.1 325.7,217.6 327.0,218.2 328.3,220.1 329.6,223.1 330.9,219.7 332.2,218.4 333.5,216.7 334.8,215.2 336.2,217.2 337.5,214.7 338.8,218.6 340.1,218.4 341.4,222.3 342.7,215.6 344.0,217.8 345.3,219.9 346.6,218.9 347.9,216.9 349.2,212.3 350.5,216.2 351.8,217.4 353.1,214.8 354.4,217.5 355.7,217.6 357.0,215.7 358.3,217.3 359.6,216.9 360.9,216.0 362.2,217.9 363.5,215.6 364.8,215.7 366.1,217.4 367.5,217.2 368.8,216.9 370.1,219.0 371.4,217.9 372.7,215.5 374.0,214.7 375.3,217.2 376.6,215.0 377.9,216.1 379.2,217.2 380.5,215.7 381.8,216.2 383.1,211.4 384.4,215.2 385.7,216.3 387.0,218.6 388.3,216.9 389.6,214.5 390.9,212.0 392.2,214.8 393.5,213.4 394.8,218.3 396.1,216.4 397.4,214.4 398.7,214.6 400.1,215.0 401.4,214.4 402.7,219.0 404.0,216.5 405.3,209.6 406.6,209.5 407.9,212.7 409.2,217.0 410.5,214.1 411.8,216.9 413.1,213.3 414.4,214.2 415.7,215.4 417.0,210.7 418.3,212.0 419.6,212.4 420.9,213.5 422.2,216.0 423.5,215.8 424.8,213.0 426.1,211.3 427.4,209.9 428.7,210.4 430.0,213.6 431.4,216.6 432.7,213.3 434.0,213.8 435.3,213.4 436.6,211.1 437.9,210.5 439.2,209.2 440.5,210.9 441.8,209.4 443.1,206.5 444.4,207.3 445.7,211.5 447.0,212.1 448.3,213.4 449.6,212.3 450.9,215.5 452.2,215.0 453.5,210.0 454.8,207.3 456.1,206.8 457.4,209.2 458.7,208.6 460.0,206.0 461.3,204.7 462.7,210.9 464.0,212.1 465.3,210.5 466.6,212.8 467.9,209.2 469.2,207.7 470.5,208.6 471.8,209.1 473.1,208.9 474.4,207.3 475.7,206.5 477.0,207.8 478.3,207.2 479.6,205.9 480.9,204.5 482.2,206.6 483.5,205.3 484.8,200.9 486.1,206.4 487.4,207.9 488.7,204.6 490.0,201.9 491.3,204.8 492.6,203.3 493.9,204.4 495.3,204.7 496.6,208.6 497.9,203.6 499.2,200.2 500.5,202.6 501.8,204.9 503.1,202.7 504.4,205.6 505.7,205.3 507.0,203.2 508.3,202.8 509.6,203.4 510.9,200.5 512.2,203.0 513.5,206.1 514.8,200.5 516.1,201.6 517.4,205.2 518.7,206.8 520.0,202.6 521.3,200.1 522.6,198.9 523.9,200.8 525.2,204.7 526.6,205.0 527.9,201.4 529.2,199.6 530.5,201.6 531.8,200.0 533.1,197.6 534.4,202.3 535.7,201.0 537.0,196.2 538.3,199.2 539.6,200.6 540.9,202.1 542.2,203.5" fill="none" stroke="#D26012" stroke-width="1.6" stroke-linejoin="round"/>
<polyline points="32.3,227.9 33.6,227.0 34.9,229.7 36.2,229.2 37.5,229.6 38.8,229.4 40.1,230.0 41.4,228.0 42.7,231.2 44.0,230.1 45.3,231.3 46.6,228.8 47.9,227.9 49.3,224.5 50.6,228.7 51.9,225.7 53.2,229.2 54.5,227.8 55.8,228.3 57.1,231.6 58.4,229.2 59.7,227.6 61.0,230.9 62.3,227.9 63.6,231.9 64.9,229.8 66.2,231.5 67.5,231.4 68.8,228.1 70.1,227.3 71.4,228.2 72.7,230.1 74.0,229.1 75.3,229.6 76.6,228.8 77.9,233.4 79.2,229.6 80.6,227.1 81.9,230.0 83.2,231.1 84.5,231.7 85.8,229.8 87.1,229.7 88.4,228.6 89.7,231.6 91.0,229.6 92.3,231.2 93.6,233.2 94.9,232.8 96.2,234.3 97.5,235.0 98.8,230.5 100.1,224.8 101.4,229.1 102.7,228.3 104.0,229.8 105.3,230.9 106.6,228.6 107.9,230.6 109.2,226.7 110.5,228.8 111.8,224.7 113.2,225.8 114.5,227.8 115.8,229.3 117.1,230.0 118.4,229.7 119.7,228.6 121.0,228.1 122.3,229.3 123.6,230.6 124.9,230.2 126.2,231.4 127.5,229.2 128.8,231.8 130.1,230.5 131.4,232.4 132.7,231.2 134.0,231.7 135.3,230.8 136.6,229.4 137.9,231.8 139.2,232.9 140.5,230.8 141.8,227.3 143.1,225.6 144.5,231.1 145.8,234.7 147.1,232.0 148.4,227.3 149.7,226.6 151.0,224.9 152.3,225.1 153.6,223.4 154.9,224.4 156.2,224.8 157.5,222.4 158.8,225.0 160.1,225.6 161.4,224.7 162.7,228.8 164.0,228.3 165.3,227.3 166.6,225.4 167.9,226.0 169.2,228.5 170.5,223.7 171.8,225.1 173.1,230.5 174.4,226.0 175.8,227.9 177.1,228.9 178.4,227.1 179.7,221.7 181.0,225.4 182.3,223.4 183.6,222.4 184.9,218.8 186.2,222.4 187.5,224.5 188.8,221.2 190.1,219.7 191.4,222.0 192.7,221.5 194.0,225.4 195.3,226.0 196.6,221.6 197.9,222.4 199.2,222.1 200.5,224.3 201.8,225.1 203.1,223.9 204.4,223.5 205.7,223.2 207.0,223.3 208.4,223.2 209.7,221.3 211.0,224.2 212.3,227.0 213.6,221.5 214.9,217.8 216.2,218.2 217.5,219.0 218.8,222.2 220.1,224.2 221.4,224.8 222.7,221.8 224.0,220.7 225.3,218.2 226.6,217.7 227.9,222.8 229.2,222.1 230.5,222.1 231.8,219.8 233.1,219.2 234.4,220.1 235.7,219.2 237.0,220.8 238.3,217.1 239.7,217.0 241.0,216.7 242.3,217.2 243.6,220.8 244.9,224.2 246.2,217.0 247.5,222.0 248.8,221.1 250.1,217.1 251.4,219.2 252.7,219.4 254.0,218.4 255.3,223.3 256.6,220.1 257.9,223.6 259.2,220.8 260.5,216.8 261.8,218.1 263.1,219.3 264.4,221.8 265.7,219.8 267.0,221.2 268.3,220.6 269.6,217.1 270.9,218.6 272.3,218.4 273.6,219.4 274.9,217.7 276.2,222.4 277.5,222.4 278.8,220.7 280.1,222.4 281.4,218.8 282.7,217.4 284.0,218.3 285.3,217.6 286.6,216.9 287.9,212.8 289.2,216.7 290.5,221.1 291.8,218.2 293.1,220.4 294.4,215.3 295.7,214.8 297.0,221.0 298.3,219.4 299.6,219.6 300.9,219.8 302.2,220.1 303.6,217.4 304.9,217.9 306.2,220.9 307.5,224.0 308.8,220.0 310.1,218.7 311.4,214.0 312.7,217.0 314.0,217.2 315.3,220.4 316.6,223.4 317.9,220.0 319.2,221.0 320.5,215.6 321.8,215.3 323.1,213.8 324.4,217.9 325.7,217.3 327.0,213.5 328.3,215.5 329.6,216.6 330.9,217.3 332.2,219.1 333.5,219.9 334.8,218.5 336.2,219.4 337.5,220.8 338.8,220.0 340.1,219.9 341.4,221.1 342.7,218.2 344.0,216.4 345.3,219.2 346.6,217.7 347.9,218.9 349.2,219.5 350.5,218.6 351.8,220.9 353.1,218.0 354.4,218.8 355.7,218.7 357.0,216.6 358.3,213.7 359.6,216.7 360.9,216.6 362.2,218.9 363.5,219.9 364.8,217.9 366.1,215.5 367.5,215.9 368.8,216.6 370.1,213.7 371.4,215.2 372.7,213.6 374.0,217.8 375.3,217.5 376.6,217.6 377.9,216.7 379.2,215.7 380.5,216.1 381.8,218.9 383.1,220.2 384.4,218.9 385.7,218.2 387.0,217.0 388.3,216.2 389.6,216.5 390.9,214.8 392.2,217.6 393.5,219.0 394.8,213.5 396.1,213.4 397.4,215.6 398.7,215.1 400.1,221.4 401.4,218.6 402.7,219.6 404.0,216.2 405.3,215.6 406.6,215.3 407.9,215.2 409.2,216.1 410.5,215.9 411.8,216.9 413.1,214.8 414.4,214.7 415.7,215.9 417.0,211.4 418.3,216.1 419.6,216.2 420.9,218.0 422.2,219.3 423.5,214.6 424.8,210.3 426.1,210.2 427.4,212.6 428.7,210.2 430.0,211.5 431.4,213.7 432.7,215.2 434.0,209.4 435.3,207.8 436.6,210.1 437.9,212.4 439.2,210.7 440.5,210.8 441.8,211.9 443.1,212.1 444.4,212.0 445.7,210.0 447.0,213.5 448.3,215.2 449.6,210.4 450.9,209.5 452.2,208.5 453.5,210.5 454.8,209.1 456.1,207.3 457.4,210.6 458.7,212.4 460.0,210.6 461.3,207.3 462.7,210.1 464.0,209.1 465.3,208.3 466.6,206.9 467.9,207.5 469.2,207.0 470.5,208.8 471.8,202.5 473.1,198.0 474.4,204.9 475.7,207.7 477.0,209.3 478.3,205.1 479.6,207.2 480.9,203.7 482.2,201.5 483.5,202.0 484.8,202.2 486.1,208.3 487.4,209.0 488.7,203.1 490.0,204.2 491.3,204.6 492.6,207.1 493.9,207.7 495.3,208.3 496.6,208.7 497.9,203.3 499.2,201.9 500.5,202.4 501.8,202.5 503.1,205.7 504.4,209.2 505.7,206.4 507.0,201.4 508.3,201.5 509.6,204.4 510.9,203.5 512.2,201.4 513.5,203.3 514.8,205.4 516.1,204.9 517.4,203.0 518.7,203.8 520.0,201.7 521.3,202.6 522.6,202.0 523.9,203.1 525.2,201.8 526.6,200.7 527.9,200.1 529.2,198.8 530.5,196.4 531.8,199.7 533.1,201.7 534.4,201.8 535.7,205.2 537.0,203.1 538.3,202.4 539.6,199.4 540.9,199.7 542.2,198.1" fill="none" stroke="#F1975A" stroke-width="1.6" stroke-linejoin="round"/>
<polyline points="32.3,233.9 33.6,235.0 34.9,235.3 36.2,230.6 37.5,231.0 38.8,229.1 40.1,233.8 41.4,232.8 42.7,231.2 44.0,228.1 45.3,227.8 46.6,233.1 47.9,235.6 49.3,235.6 50.6,229.9 51.9,231.9 53.2,233.7 54.5,234.0 55.8,238.6 57.1,236.8 58.4,230.7 59.7,230.8 61.0,232.0 62.3,234.1 63.6,230.6 64.9,228.6 66.2,234.0 67.5,232.8 68.8,232.8 70.1,231.3 71.4,231.8 72.7,232.8 74.0,234.1 75.3,232.6 76.6,233.1 77.9,232.1 79.2,231.4 80.6,230.4 81.9,232.6 83.2,231.9 84.5,229.1 85.8,230.8 87.1,230.8 88.4,228.6 89.7,229.2 91.0,229.9 92.3,230.3 93.6,232.4 94.9,228.8 96.2,226.5 97.5,228.5 98.8,232.4 100.1,230.0 101.4,231.2 102.7,230.2 104.0,229.5 105.3,230.9 106.6,226.6 107.9,228.0 109.2,227.0 110.5,227.1 111.8,226.1 113.2,227.5 114.5,232.8 115.8,232.0 117.1,235.4 118.4,232.7 119.7,229.6 121.0,228.4 122.3,228.5 123.6,231.5 124.9,230.9 126.2,230.7 127.5,228.4 128.8,228.3 130.1,230.9 131.4,224.7 132.7,231.2 134.0,233.6 135.3,231.4 136.6,230.5 137.9,231.1 139.2,232.6 140.5,229.0 141.8,230.1 143.1,227.2 144.5,227.5 145.8,233.1 147.1,233.4 148.4,232.5 149.7,229.7 151.0,229.2 152.3,228.9 153.6,230.6 154.9,228.0 156.2,226.5 157.5,231.5 158.8,230.2 160.1,228.6 161.4,228.9 162.7,228.0 164.0,223.9 165.3,224.1 166.6,225.9 167.9,228.0 169.2,222.8 170.5,225.8 171.8,228.5 173.1,228.3 174.4,227.0 175.8,222.0 177.1,225.0 178.4,226.9 179.7,230.3 181.0,225.8 182.3,228.2 183.6,228.1 184.9,225.1 186.2,226.3 187.5,223.1 188.8,223.0 190.1,228.3 191.4,226.3 192.7,227.8 194.0,224.6 195.3,222.8 196.6,225.8 197.9,220.7 199.2,224.0 200.5,226.5 201.8,224.1 203.1,222.7 204.4,226.0 205.7,224.6 207.0,225.9 208.4,221.7 209.7,223.0 211.0,223.9 212.3,222.0 213.6,225.9 214.9,223.9 216.2,219.4 217.5,221.9 218.8,220.0 220.1,222.3 221.4,224.5 222.7,223.8 224.0,223.3 225.3,224.5 226.6,225.6 227.9,225.9 229.2,226.4 230.5,223.1 231.8,221.5 233.1,221.8 234.4,225.8 235.7,221.6 237.0,222.7 238.3,225.6 239.7,222.4 241.0,220.1 242.3,220.1 243.6,219.8 244.9,219.3 246.2,219.7 247.5,222.6 248.8,226.9 250.1,224.3 251.4,221.7 252.7,222.2 254.0,219.8 255.3,219.2 256.6,219.5 257.9,216.9 259.2,221.3 260.5,219.3 261.8,221.5 263.1,222.3 264.4,219.9 265.7,221.2 267.0,219.5 268.3,222.5 269.6,221.1 270.9,222.2 272.3,221.3 273.6,221.6 274.9,222.4 276.2,219.5 277.5,222.6 278.8,222.1 280.1,218.0 281.4,217.1 282.7,217.9 284.0,217.8 285.3,215.3 286.6,221.8 287.9,222.6 289.2,222.2 290.5,218.6 291.8,218.6 293.1,217.2 294.4,217.5 295.7,220.6 297.0,222.7 298.3,221.9 299.6,215.6 300.9,217.1 302.2,219.2 303.6,221.2 304.9,221.4 306.2,221.5 307.5,222.6 308.8,226.0 310.1,222.0 311.4,221.0 312.7,219.8 314.0,219.1 315.3,218.3 316.6,219.6 317.9,219.7 319.2,225.6 320.5,222.6 321.8,217.4 323.1,222.0 324.4,221.0 325.7,219.1 327.0,221.4 328.3,219.6 329.6,223.6 330.9,225.2 332.2,224.2 333.5,223.8 334.8,220.5 336.2,220.0 337.5,219.4 338.8,220.5 340.1,214.5 341.4,218.5 342.7,219.3 344.0,218.5 345.3,219.8 346.6,220.6 347.9,218.8 349.2,216.7 350.5,216.7 351.8,217.3 353.1,220.3 354.4,220.1 355.7,215.3 357.0,218.6 358.3,218.0 359.6,216.8 360.9,216.5 362.2,221.8 363.5,221.2 364.8,220.5 366.1,221.2 367.5,224.5 368.8,221.8 370.1,225.2 371.4,219.5 372.7,217.3 374.0,217.9 375.3,220.9 376.6,218.0 377.9,221.0 379.2,222.8 380.5,222.2 381.8,221.0 383.1,218.3 384.4,217.5 385.7,222.8 387.0,219.9 388.3,216.4 389.6,216.9 390.9,217.3 392.2,220.3 393.5,216.9 394.8,220.3 396.1,217.0 397.4,213.4 398.7,212.3 400.1,214.7 401.4,215.0 402.7,217.9 404.0,217.6 405.3,214.7 406.6,216.4 407.9,217.6 409.2,219.7 410.5,216.7 411.8,215.4 413.1,218.2 414.4,217.3 415.7,213.3 417.0,215.6 418.3,217.6 419.6,219.4 420.9,218.2 422.2,216.2 423.5,213.4 424.8,215.7 426.1,212.6 427.4,216.9 428.7,216.2 430.0,213.9 431.4,216.0 432.7,217.3 434.0,215.9 435.3,215.1 436.6,218.7 437.9,216.1 439.2,215.1 440.5,214.8 441.8,212.7 443.1,214.4 444.4,213.9 445.7,212.4 447.0,211.1 448.3,211.9 449.6,209.3 450.9,212.5 452.2,209.5 453.5,212.7 454.8,211.8 456.1,209.3 457.4,205.7 458.7,207.7 460.0,209.8 461.3,207.4 462.7,209.8 464.0,210.7 465.3,208.2 466.6,207.7 467.9,206.6 469.2,208.8 470.5,207.2 471.8,206.3 473.1,207.0 474.4,208.3 475.7,209.3 477.0,206.5 478.3,207.0 479.6,206.8 480.9,208.2 482.2,208.2 483.5,209.5 484.8,207.3 486.1,205.4 487.4,206.1 488.7,204.7 490.0,204.9 491.3,203.5 492.6,206.9 493.9,209.8 495.3,206.1 496.6,207.0 497.9,208.1 499.2,205.1 500.5,205.0 501.8,205.0 503.1,206.3 504.4,205.4 505.7,204.2 507.0,201.8 508.3,205.7 509.6,205.0 510.9,204.9 512.2,208.8 513.5,207.5 514.8,201.3 516.1,206.9 517.4,204.0 518.7,206.0 520.0,207.0 521.3,209.2 522.6,206.2 523.9,203.0 525.2,206.1 526.6,202.9 527.9,201.8 529.2,199.2 530.5,203.0 531.8,200.4 533.1,200.9 534.4,204.2 535.7,206.1 537.0,201.1 538.3,205.4 539.6,204.1 540.9,200.7 542.2,200.1" fill="none" stroke="#ED7D31" stroke-width="1.6" stroke-linejoin="round"/>
<polyline points="32.3,228.8 33.6,227.2 34.9,228.6 36.2,224.5 37.5,229.7 38.8,228.8 40.1,228.0 41.4,229.1 42.7,229.3 44.0,225.9 45.3,231.5 46.6,234.7 47.9,227.1 49.3,228.3 50.6,226.4 51.9,225.1 53.2,225.8 54.5,229.6 55.8,231.7 57.1,228.6 58.4,225.5 59.7,225.4 61.0,231.3 62.3,226.2 63.6,222.4 64.9,221.5 66.2,222.7 67.5,228.5 68.8,230.3 70.1,227.9 71.4,227.2 72.7,228.6 74.0,228.5 75.3,226.5 76.6,227.1 77.9,226.2 79.2,223.5 80.6,225.6 81.9,227.9 83.2,222.5 84.5,224.5 85.8,223.9 87.1,227.4 88.4,228.8 89.7,224.9 91.0,227.4 92.3,227.5 93.6,227.0 94.9,224.5 96.2,224.8 97.5,227.1 98.8,228.1 100.1,226.4 101.4,219.6 102.7,222.4 104.0,225.8 105.3,224.8 106.6,225.0 107.9,224.6 109.2,224.0 110.5,225.7 111.8,228.1 113.2,225.0 114.5,220.9 115.8,222.4 117.1,223.6 118.4,225.2 119.7,226.2 121.0,226.1 122.3,224.8 123.6,226.0 124.9,227.9 126.2,228.6 127.5,228.6 128.8,228.3 130.1,227.9 131.4,229.9 132.7,226.4 134.0,225.7 135.3,227.2 136.6,224.9 137.9,230.8 139.2,234.1 140.5,230.7 141.8,229.1 143.1,230.7 144.5,225.9 145.8,230.1 147.1,232.0 148.4,224.9 149.7,228.1 151.0,226.7 152.3,225.9 153.6,229.4 154.9,228.1 156.2,230.3 157.5,226.6 158.8,225.2 160.1,226.1 161.4,225.3 162.7,227.5 164.0,227.9 165.3,223.5 166.6,222.4 167.9,223.5 169.2,225.7 170.5,225.5 171.8,223.3 173.1,223.4 174.4,225.8 175.8,226.5 177.1,222.0 178.4,218.9 179.7,218.6 181.0,222.2 182.3,224.3 183.6,223.7 184.9,226.5 186.2,223.3 187.5,223.9 188.8,223.9 190.1,223.7 191.4,220.6 192.7,224.7 194.0,222.6 195.3,223.7 196.6,223.0 197.9,220.1 199.2,220.6 200.5,222.0 201.8,219.7 203.1,221.0 204.4,220.3 205.7,220.2 207.0,221.1 208.4,220.2 209.7,219.9 211.0,219.8 212.3,220.7 213.6,217.2 214.9,217.7 216.2,219.4 217.5,217.5 218.8,219.9 220.1,220.8 221.4,219.3 222.7,219.7 224.0,220.5 225.3,219.3 226.6,219.9 227.9,221.7 229.2,219.9 230.5,215.2 231.8,218.2 233.1,218.9 234.4,220.5 235.7,216.7 237.0,219.1 238.3,220.8 239.7,219.9 241.0,217.4 242.3,220.4 243.6,221.5 244.9,217.0 246.2,219.8 247.5,222.8 248.8,218.4 250.1,218.9 251.4,220.2 252.7,221.2 254.0,217.3 255.3,216.5 256.6,218.6 257.9,216.6 259.2,214.1 260.5,214.4 261.8,216.4 263.1,219.6 264.4,217.8 265.7,218.1 267.0,215.2 268.3,214.2 269.6,216.2 270.9,213.4 272.3,211.7 273.6,215.2 274.9,215.7 276.2,216.1 277.5,214.1 278.8,217.2 280.1,218.3 281.4,213.3 282.7,215.6 284.0,212.8 285.3,213.9 286.6,213.9 287.9,212.2 289.2,214.7 290.5,211.9 291.8,211.4 293.1,215.6 294.4,210.4 295.7,212.4 297.0,213.0 298.3,218.1 299.6,217.8 300.9,215.7 302.2,219.7 303.6,218.4 304.9,215.5 306.2,209.2 307.5,215.2 308.8,218.7 310.1,220.8 311.4,218.7 312.7,218.4 314.0,219.8 315.3,214.6 316.6,214.1 317.9,216.6 319.2,214.7 320.5,210.3 321.8,216.5 323.1,212.6 324.4,216.3 325.7,218.8 327.0,220.0 328.3,215.5 329.6,217.6 330.9,216.3 332.2,216.3 333.5,218.3 334.8,218.5 336.2,218.4 337.5,211.9 338.8,215.6 340.1,214.1 341.4,214.3 342.7,213.0 344.0,211.0 345.3,216.7 346.6,217.3 347.9,216.9 349.2,212.2 350.5,216.6 351.8,215.4 353.1,212.0 354.4,215.4 355.7,214.7 357.0,215.6 358.3,218.0 359.6,213.6 360.9,214.3 362.2,216.9 363.5,215.5 364.8,216.0 366.1,212.6 367.5,213.0 368.8,217.1 370.1,220.2 371.4,214.4 372.7,211.6 374.0,212.7 375.3,212.3 376.6,214.0 377.9,216.0 379.2,215.7 380.5,213.5 381.8,210.9 383.1,212.1 384.4,212.4 385.7,211.0 387.0,212.9 388.3,211.8 389.6,210.6 390.9,214.6 392.2,214.8 393.5,211.8 394.8,214.2 396.1,216.0 397.4,212.8 398.7,209.6 400.1,214.5 401.4,215.0 402.7,212.3 404.0,211.8 405.3,212.9 406.6,212.8 407.9,213.5 409.2,208.5 410.5,211.5 411.8,213.8 413.1,208.0 414.4,208.5 415.7,210.7 417.0,209.7 418.3,209.5 419.6,212.2 420.9,211.4 422.2,209.9 423.5,213.1 424.8,213.8 426.1,213.4 427.4,211.5 428.7,212.5 430.0,211.1 431.4,210.2 432.7,209.5 434.0,214.0 435.3,207.1 436.6,205.2 437.9,208.6 439.2,213.6 440.5,209.8 441.8,210.0 443.1,214.6 444.4,212.2 445.7,210.1 447.0,214.1 448.3,208.2 449.6,208.1 450.9,204.8 452.2,206.9 453.5,209.2 454.8,207.4 456.1,210.1 457.4,209.6 458.7,204.6 460.0,205.5 461.3,207.4 462.7,207.3 464.0,204.5 465.3,207.7 466.6,205.8 467.9,204.1 469.2,200.6 470.5,204.5 471.8,200.2 473.1,200.8 474.4,206.0 475.7,205.9 477.0,204.9 478.3,205.4 479.6,204.8 480.9,204.1 482.2,208.5 483.5,207.7 484.8,201.4 486.1,199.6 487.4,205.2 488.7,204.9 490.0,204.5 491.3,205.2 492.6,200.0 493.9,197.8 495.3,202.8 496.6,202.4 497.9,203.0 499.2,203.0 500.5,205.8 501.8,199.8 503.1,200.9 504.4,201.4 505.7,201.1 507.0,198.6 508.3,203.7 509.6,205.0 510.9,203.9 512.2,199.7 513.5,197.0 514.8,196.6 516.1,198.6 517.4,204.5 518.7,198.5 520.0,197.6 521.3,200.1 522.6,203.2 523.9,203.4 525.2,200.1 526.6,201.0 527.9,203.2 529.2,199.7 530.5,198.4 531.8,202.6 533.1,201.9 534.4,202.4 535.7,199.7 537.0,200.5 538.3,200.2 539.6,200.1 540.9,197.9 542.2,197.4" fill="none" stroke="#327DC2" stroke-width="1.6" stroke-linejoin="round"/>
<polyline points="32.3,229.0 33.6,230.8 34.9,228.7 36.2,225.3 37.5,230.6 38.8,228.9 40.1,226.4 41.4,226.0 42.7,228.7 44.0,226.4 45.3,225.2 46.6,227.6 47.9,226.4 49.3,229.5 50.6,225.7 51.9,226.3 53.2,230.0 54.5,230.4 55.8,225.0 57.1,226.8 58.4,223.5 59.7,224.3 61.0,225.2 62.3,225.4 63.6,224.9 64.9,226.5 66.2,228.3 67.5,226.0 68.8,225.4 70.1,226.6 71.4,228.8 72.7,228.8 74.0,227.7 75.3,226.7 76.6,226.9 77.9,224.0 79.2,226.3 80.6,226.0 81.9,227.6 83.2,225.6 84.5,224.9 85.8,225.7 87.1,227.4 88.4,224.8 89.7,225.9 91.0,224.4 92.3,226.0 93.6,225.5 94.9,223.3 96.2,224.3 97.5,225.0 98.8,226.6 100.1,223.7 101.4,222.9 102.7,222.0 104.0,222.3 105.3,222.4 106.6,222.2 107.9,224.0 109.2,226.0 110.5,225.9 111.8,225.7 113.2,226.4 114.5,227.0 115.8,225.4 117.1,229.4 118.4,225.0 119.7,226.4 121.0,225.6 122.3,227.1 123.6,228.6 124.9,232.3 126.2,230.7 127.5,228.6 128.8,228.3 130.1,227.7 131.4,228.5 132.7,226.4 134.0,226.1 135.3,230.6 136.6,232.7 137.9,230.3 139.2,226.5 140.5,225.3 141.8,227.4 143.1,226.3 144.5,228.6 145.8,232.8 147.1,230.6 148.4,227.1 149.7,223.5 151.0,227.8 152.3,227.0 153.6,226.0 154.9,225.9 156.2,224.5 157.5,221.8 158.8,226.9 160.1,223.8 161.4,223.6 162.7,224.6 164.0,225.8 165.3,224.7 166.6,219.9 167.9,220.1 169.2,224.0 170.5,224.7 171.8,222.9 173.1,221.7 174.4,221.6 175.8,224.0 177.1,226.1 178.4,226.2 179.7,223.2 181.0,219.4 182.3,222.3 183.6,221.2 184.9,222.0 186.2,220.6 187.5,218.3 188.8,218.9 190.1,220.4 191.4,220.3 192.7,223.1 194.0,224.0 195.3,221.3 196.6,222.1 197.9,220.8 199.2,220.9 200.5,219.3 201.8,215.8 203.1,216.6 204.4,214.8 205.7,218.0 207.0,219.4 208.4,218.7 209.7,214.1 211.0,215.9 212.3,214.8 213.6,215.3 214.9,217.5 216.2,219.5 217.5,220.8 218.8,218.9 220.1,215.8 221.4,216.2 222.7,219.3 224.0,219.7 225.3,217.7 226.6,216.1 227.9,213.7 229.2,212.9 230.5,220.1 231.8,221.5 233.1,220.1 234.4,216.4 235.7,214.9 237.0,216.1 238.3,216.8 239.7,218.2 241.0,218.0 242.3,217.8 243.6,216.4 244.9,218.7 246.2,216.4 247.5,216.9 248.8,219.1 250.1,217.3 251.4,213.3 252.7,212.9 254.0,214.1 255.3,215.4 256.6,220.5 257.9,217.8 259.2,213.2 260.5,215.0 261.8,213.2 263.1,213.6 264.4,220.1 265.7,216.1 267.0,213.8 268.3,215.3 269.6,213.2 270.9,215.5 272.3,216.0 273.6,214.8 274.9,213.6 276.2,215.2 277.5,214.0 278.8,214.5 280.1,215.5 281.4,216.7 282.7,215.8 284.0,215.7 285.3,218.8 286.6,218.5 287.9,215.6 289.2,214.0 290.5,213.2 291.8,216.2 293.1,215.6 294.4,213.4 295.7,213.5 297.0,214.6 298.3,211.7 299.6,217.0 300.9,215.6 302.2,214.8 303.6,215.9 304.9,212.8 306.2,211.0 307.5,212.9 308.8,214.2 310.1,213.7 311.4,215.3 312.7,214.0 314.0,213.1 315.3,213.4 316.6,219.0 317.9,217.4 319.2,214.3 320.5,213.4 321.8,215.2 323.1,216.7 324.4,216.4 325.7,218.2 327.0,217.9 328.3,215.1 329.6,217.0 330.9,216.9 332.2,211.9 333.5,215.6 334.8,217.4 336.2,214.3 337.5,208.7 338.8,213.4 340.1,212.2 341.4,210.6 342.7,212.8 344.0,216.1 345.3,214.9 346.6,211.7 347.9,212.5 349.2,219.2 350.5,213.5 351.8,214.3 353.1,213.3 354.4,212.2 355.7,214.5 357.0,212.1 358.3,207.8 359.6,209.8 360.9,215.8 362.2,214.2 363.5,217.9 364.8,217.4 366.1,213.6 367.5,216.1 368.8,215.6 370.1,213.7 371.4,213.3 372.7,216.9 374.0,216.4 375.3,215.1 376.6,216.5 377.9,212.6 379.2,211.1 380.5,211.1 381.8,214.7 383.1,213.9 384.4,216.9 385.7,215.2 387.0,215.9 388.3,213.8 389.6,215.2 390.9,216.9 392.2,212.6 393.5,216.0 394.8,210.2 396.1,209.3 397.4,209.8 398.7,211.1 400.1,211.1 401.4,213.6 402.7,215.1 404.0,216.8 405.3,212.2 406.6,214.5 407.9,213.4 409.2,212.7 410.5,209.5 411.8,210.9 413.1,214.7 414.4,210.4 415.7,209.0 417.0,211.9 418.3,213.0 419.6,210.5 420.9,212.2 422.2,210.4 423.5,208.3 424.8,207.9 426.1,213.9 427.4,212.3 428.7,213.3 430.0,211.2 431.4,213.0 432.7,213.6 434.0,211.4 435.3,209.1 436.6,211.4 437.9,211.0 439.2,209.1 440.5,204.2 441.8,206.5 443.1,212.3 444.4,209.8 445.7,206.7 447.0,205.0 448.3,203.7 449.6,204.9 450.9,208.8 452.2,207.7 453.5,204.3 454.8,208.7 456.1,209.9 457.4,207.3 458.7,207.9 460.0,207.4 461.3,206.5 462.7,203.9 464.0,202.2 465.3,206.0 466.6,205.9 467.9,206.1 469.2,205.6 470.5,203.5 471.8,204.8 473.1,201.2 474.4,205.4 475.7,201.5 477.0,198.4 478.3,201.0 479.6,204.2 480.9,206.0 482.2,206.6 483.5,204.4 484.8,203.6 486.1,203.8 487.4,200.8 488.7,203.1 490.0,203.0 491.3,203.1 492.6,201.9 493.9,202.5 495.3,205.8 496.6,205.4 497.9,201.3 499.2,201.1 500.5,203.4 501.8,206.1 503.1,201.5 504.4,199.2 505.7,197.2 507.0,201.2 508.3,201.2 509.6,198.9 510.9,201.7 512.2,200.0 513.5,201.3 514.8,199.7 516.1,198.9 517.4,201.7 518.7,199.9 520.0,199.3 521.3,201.2 522.6,199.1 523.9,199.0 525.2,201.2 526.6,202.1 527.9,199.1 529.2,200.0 530.5,198.5 531.8,195.4 533.1,198.6 534.4,195.8 535.7,196.1 537.0,198.1 538.3,201.1 539.6,199.5 540.9,198.4 542.2,198.4" fill="none" stroke="#698ED0" stroke-width="1.6" stroke-linejoin="round"/>
<polyline points="32.3,224.6 33.6,222.8 34.9,227.9 36.2,226.8 37.5,226.9 38.8,226.1 40.1,225.9 41.4,227.1 42.7,226.7 44.0,225.5 45.3,224.4 46.6,224.1 47.9,225.0 49.3,224.4 50.6,222.8 51.9,224.5 53.2,227.8 54.5,228.7 55.8,226.9 57.1,224.1 58.4,224.8 59.7,226.4 61.0,226.8 62.3,227.1 63.6,228.6 64.9,229.6 66.2,229.1 67.5,231.0 68.8,228.4 70.1,227.4 71.4,225.9 72.7,225.6 74.0,224.2 75.3,224.3 76.6,227.7 77.9,227.9 79.2,226.6 80.6,227.1 81.9,224.5 83.2,224.1 84.5,227.7 85.8,225.4 87.1,228.5 88.4,226.9 89.7,224.2 91.0,222.1 92.3,222.7 93.6,227.8 94.9,226.7 96.2,223.1 97.5,223.1 98.8,223.0 100.1,224.3 101.4,220.8 102.7,220.1 104.0,222.5 105.3,220.6 106.6,223.2 107.9,225.1 109.2,223.5 110.5,222.7 111.8,222.1 113.2,223.8 114.5,224.4 115.8,223.2 117.1,225.0 118.4,225.1 119.7,226.1 121.0,226.8 122.3,226.3 123.6,228.9 124.9,226.8 126.2,223.9 127.5,226.5 128.8,226.5 130.1,229.1 131.4,226.3 132.7,224.8 134.0,226.4 135.3,231.0 136.6,229.8 137.9,226.7 139.2,226.7 140.5,225.7 141.8,227.4 143.1,224.3 144.5,226.7 145.8,228.6 147.1,225.0 148.4,228.0 149.7,226.0 151.0,227.4 152.3,224.7 153.6,224.8 154.9,222.9 156.2,218.2 157.5,221.9 158.8,224.1 160.1,223.5 161.4,225.9 162.7,224.7 164.0,221.8 165.3,221.0 166.6,222.9 167.9,218.3 169.2,222.4 170.5,221.2 171.8,221.9 173.1,220.8 174.4,221.2 175.8,220.6 177.1,220.0 178.4,220.4 179.7,220.1 181.0,220.9 182.3,220.9 183.6,220.5 184.9,219.6 186.2,219.3 187.5,218.7 188.8,219.0 190.1,215.4 191.4,218.7 192.7,220.5 194.0,222.0 195.3,221.7 196.6,219.3 197.9,215.4 199.2,218.5 200.5,218.9 201.8,216.0 203.1,216.9 204.4,215.5 205.7,220.2 207.0,216.9 208.4,216.5 209.7,219.3 211.0,217.8 212.3,219.1 213.6,216.7 214.9,215.7 216.2,218.9 217.5,222.1 218.8,224.6 220.1,222.2 221.4,219.0 222.7,218.1 224.0,220.8 225.3,216.2 226.6,210.6 227.9,211.7 229.2,210.8 230.5,212.5 231.8,212.3 233.1,215.9 234.4,214.6 235.7,218.0 237.0,220.7 238.3,217.5 239.7,217.0 241.0,216.3 242.3,215.8 243.6,216.8 244.9,217.2 246.2,219.9 247.5,218.0 248.8,218.0 250.1,216.8 251.4,214.8 252.7,217.3 254.0,213.5 255.3,214.1 256.6,218.8 257.9,216.1 259.2,213.1 260.5,214.5 261.8,216.0 263.1,217.1 264.4,216.8 265.7,214.0 267.0,214.2 268.3,214.2 269.6,215.2 270.9,216.1 272.3,211.9 273.6,214.7 274.9,212.9 276.2,213.9 277.5,211.5 278.8,214.3 280.1,217.3 281.4,214.9 282.7,213.7 284.0,211.7 285.3,217.2 286.6,218.1 287.9,217.0 289.2,213.1 290.5,215.8 291.8,213.2 293.1,214.7 294.4,218.2 295.7,213.9 297.0,213.5 298.3,218.8 299.6,217.8 300.9,214.7 302.2,214.8 303.6,215.3 304.9,214.4 306.2,213.9 307.5,217.2 308.8,216.6 310.1,212.1 311.4,213.4 312.7,215.7 314.0,208.5 315.3,212.0 316.6,217.8 317.9,217.7 319.2,212.9 320.5,211.2 321.8,214.7 323.1,215.1 324.4,215.9 325.7,218.3 327.0,212.9 328.3,211.1 329.6,211.1 330.9,214.6 332.2,215.8 333.5,212.7 334.8,210.2 336.2,212.9 337.5,213.2 338.8,214.3 340.1,217.4 341.4,212.7 342.7,211.4 344.0,215.8 345.3,218.7 346.6,214.9 347.9,212.1 349.2,211.5 350.5,211.4 351.8,214.8 353.1,212.4 354.4,214.1 355.7,215.3 357.0,215.6 358.3,210.8 359.6,213.4 360.9,214.3 362.2,216.2 363.5,211.8 364.8,212.1 366.1,212.6 367.5,210.9 368.8,213.4 370.1,213.3 371.4,214.4 372.7,213.8 374.0,212.4 375.3,213.0 376.6,207.9 377.9,212.8 379.2,216.2 380.5,212.8 381.8,214.0 383.1,213.3 384.4,212.4 385.7,214.8 387.0,213.4 388.3,216.3 389.6,209.6 390.9,210.6 392.2,212.6 393.5,214.4 394.8,214.4 396.1,211.3 397.4,213.2 398.7,214.9 400.1,215.2 401.4,214.3 402.7,212.6 404.0,210.0 405.3,211.5 406.6,213.0 407.9,213.2 409.2,214.9 410.5,215.7 411.8,216.4 413.1,213.6 414.4,211.2 415.7,210.2 417.0,209.3 418.3,208.5 419.6,211.2 420.9,207.6 422.2,204.8 423.5,205.5 424.8,207.0 426.1,205.5 427.4,204.9 428.7,208.8 430.0,209.0 431.4,209.8 432.7,212.6 434.0,211.0 435.3,206.7 436.6,207.4 437.9,208.5 439.2,210.0 440.5,209.1 441.8,203.3 443.1,206.0 444.4,207.4 445.7,204.8 447.0,204.8 448.3,208.8 449.6,210.3 450.9,207.1 452.2,205.5 453.5,205.0 454.8,206.3 456.1,207.9 457.4,204.9 458.7,204.3 460.0,204.4 461.3,206.0 462.7,203.6 464.0,205.3 465.3,203.0 466.6,204.0 467.9,203.8 469.2,204.8 470.5,202.4 471.8,201.5 473.1,205.4 474.4,203.1 475.7,204.9 477.0,202.4 478.3,203.8 479.6,204.9 480.9,203.7 482.2,202.0 483.5,201.1 484.8,204.7 486.1,203.0 487.4,198.2 488.7,200.3 490.0,200.3 491.3,202.9 492.6,198.1 493.9,202.4 495.3,202.1 496.6,198.4 497.9,197.4 499.2,200.2 500.5,199.1 501.8,201.2 503.1,199.6 504.4,199.8 505.7,201.4 507.0,201.3 508.3,200.5 509.6,202.9 510.9,202.8 512.2,198.0 513.5,196.8 514.8,198.6 516.1,199.1 517.4,198.8 518.7,198.8 520.0,202.3 521.3,201.5 522.6,198.5 523.9,198.9 525.2,197.5 526.6,196.8 527.9,203.5 529.2,202.4 530.5,203.1 531.8,199.3 533.1,196.7 534.4,199.1 535.7,199.1 537.0,198.3 538.3,200.8 539.6,197.7 540.9,200.9 542.2,202.4" fill="none" stroke="#CC9A00" stroke-width="1.6" stroke-linejoin="round"/>
<polyline points="32.3,229.8 33.6,226.0 34.9,228.4 36.2,229.8 37.5,230.2 38.8,226.9 40.1,226.4 41.4,230.3 42.7,226.8 44.0,229.6 45.3,229.7 46.6,229.4 47.9,225.3 49.3,223.8 50.6,228.1 51.9,226.1 53.2,227.3 54.5,224.4 55.8,226.9 57.1,228.4 58.4,224.8 59.7,226.7 61.0,226.7 62.3,226.1 63.6,228.5 64.9,227.5 66.2,226.9 67.5,227.9 68.8,231.6 70.1,228.2 71.4,225.3 72.7,225.4 74.0,227.8 75.3,227.6 76.6,228.8 77.9,229.6 79.2,230.4 80.6,227.2 81.9,225.4 83.2,226.1 84.5,225.3 85.8,225.9 87.1,225.7 88.4,225.9 89.7,226.3 91.0,228.4 92.3,227.6 93.6,228.9 94.9,228.0 96.2,222.4 97.5,226.9 98.8,229.9 100.1,234.0 101.4,227.3 102.7,226.5 104.0,230.1 105.3,226.5 106.6,224.7 107.9,226.9 109.2,223.6 110.5,224.6 111.8,224.7 113.2,227.0 114.5,225.5 115.8,224.2 117.1,224.3 118.4,227.5 119.7,227.6 121.0,225.0 122.3,228.1 123.6,229.0 124.9,228.4 126.2,229.6 127.5,226.8 128.8,231.3 130.1,230.3 131.4,227.8 132.7,229.4 134.0,231.3 135.3,227.8 136.6,227.3 137.9,228.3 139.2,229.8 140.5,228.5 141.8,231.2 143.1,226.0 144.5,226.0 145.8,231.3 147.1,231.6 148.4,229.6 149.7,226.3 151.0,222.9 152.3,225.2 153.6,222.7 154.9,223.8 156.2,225.7 157.5,227.0 158.8,223.2 160.1,224.1 161.4,227.9 162.7,226.3 164.0,222.4 165.3,224.8 166.6,222.0 167.9,222.3 169.2,222.8 170.5,223.8 171.8,222.6 173.1,219.9 174.4,222.3 175.8,229.4 177.1,225.7 178.4,221.3 179.7,224.9 181.0,224.2 182.3,223.5 183.6,219.9 184.9,223.0 186.2,220.3 187.5,219.0 188.8,216.8 190.1,218.8 191.4,220.0 192.7,219.8 194.0,220.6 195.3,220.5 196.6,219.6 197.9,225.1 199.2,223.8 200.5,219.4 201.8,216.8 203.1,219.7 204.4,221.3 205.7,221.7 207.0,223.2 208.4,219.5 209.7,216.9 211.0,217.2 212.3,217.4 213.6,216.7 214.9,219.0 216.2,218.2 217.5,219.1 218.8,221.4 220.1,220.2 221.4,218.6 222.7,215.5 224.0,217.3 225.3,217.6 226.6,216.1 227.9,221.6 229.2,222.3 230.5,218.7 231.8,216.9 233.1,216.9 234.4,216.6 235.7,218.2 237.0,222.8 238.3,219.6 239.7,219.4 241.0,215.8 242.3,216.1 243.6,219.8 244.9,219.6 246.2,219.3 247.5,214.1 248.8,215.0 250.1,213.4 251.4,214.3 252.7,216.9 254.0,217.3 255.3,219.9 256.6,218.0 257.9,218.0 259.2,219.9 260.5,220.8 261.8,217.3 263.1,220.2 264.4,224.8 265.7,218.6 267.0,213.9 268.3,213.5 269.6,215.8 270.9,217.7 272.3,216.7 273.6,216.0 274.9,218.7 276.2,219.1 277.5,218.5 278.8,217.2 280.1,217.3 281.4,217.9 282.7,215.9 284.0,215.4 285.3,214.9 286.6,218.4 287.9,215.2 289.2,220.7 290.5,217.1 291.8,214.6 293.1,213.6 294.4,213.3 295.7,211.6 297.0,216.3 298.3,220.6 299.6,222.3 300.9,218.2 302.2,217.3 303.6,218.8 304.9,214.4 306.2,213.3 307.5,214.7 308.8,215.9 310.1,218.2 311.4,214.5 312.7,213.1 314.0,216.1 315.3,216.9 316.6,217.7 317.9,215.2 319.2,216.9 320.5,215.4 321.8,217.6 323.1,216.3 324.4,214.6 325.7,215.6 327.0,215.5 328.3,216.8 329.6,218.2 330.9,215.2 332.2,219.5 333.5,216.9 334.8,214.4 336.2,215.7 337.5,215.5 338.8,217.6 340.1,214.7 341.4,212.5 342.7,215.0 344.0,218.5 345.3,216.8 346.6,211.7 347.9,213.0 349.2,216.0 350.5,216.2 351.8,214.6 353.1,214.3 354.4,213.0 355.7,213.5 357.0,212.8 358.3,211.1 359.6,215.3 360.9,218.0 362.2,215.6 363.5,212.1 364.8,213.8 366.1,215.2 367.5,216.0 368.8,218.6 370.1,215.6 371.4,215.9 372.7,211.6 374.0,216.0 375.3,217.2 376.6,215.9 377.9,213.7 379.2,216.6 380.5,215.2 381.8,215.4 383.1,209.3 384.4,211.5 385.7,214.4 387.0,215.0 388.3,214.5 389.6,217.1 390.9,213.6 392.2,211.3 393.5,217.1 394.8,218.0 396.1,217.2 397.4,214.0 398.7,214.5 400.1,212.7 401.4,210.3 402.7,212.0 404.0,213.2 405.3,211.3 406.6,215.6 407.9,214.1 409.2,210.8 410.5,211.2 411.8,208.5 413.1,215.2 414.4,215.1 415.7,212.5 417.0,211.1 418.3,209.1 419.6,209.7 420.9,209.2 422.2,210.1 423.5,213.6 424.8,212.7 426.1,211.5 427.4,207.0 428.7,209.3 430.0,208.6 431.4,210.7 432.7,210.1 434.0,209.8 435.3,212.2 436.6,212.0 437.9,209.5 439.2,208.5 440.5,207.7 441.8,210.1 443.1,207.6 444.4,207.1 445.7,209.8 447.0,211.0 448.3,210.5 449.6,209.2 450.9,212.3 452.2,207.1 453.5,212.5 454.8,211.0 456.1,209.3 457.4,208.4 458.7,209.8 460.0,211.0 461.3,208.0 462.7,203.6 464.0,205.8 465.3,204.7 466.6,207.5 467.9,204.5 469.2,201.8 470.5,204.7 471.8,207.0 473.1,202.5 474.4,201.0 475.7,202.0 477.0,205.0 478.3,205.1 479.6,205.3 480.9,206.2 482.2,208.8 483.5,203.3 484.8,203.9 486.1,206.4 487.4,203.1 488.7,205.6 490.0,201.6 491.3,199.6 492.6,199.1 493.9,204.5 495.3,202.9 496.6,201.4 497.9,203.2 499.2,200.5 500.5,201.7 501.8,198.9 503.1,199.7 504.4,198.3 505.7,199.6 507.0,202.0 508.3,200.4 509.6,199.4 510.9,199.2 512.2,198.1 513.5,198.7 514.8,198.8 516.1,201.1 517.4,197.9 518.7,199.0 520.0,201.1 521.3,200.7 522.6,202.5 523.9,201.7 525.2,198.1 526.6,197.5 527.9,200.8 529.2,204.6 530.5,202.4 531.8,198.4 533.1,198.2 534.4,199.1 535.7,202.1 537.0,200.8 538.3,198.7 539.6,198.2 540.9,199.9 542.2,199.6" fill="none" stroke="#7CAFDD" stroke-width="1.6" stroke-linejoin="round"/>
<polyline points="32.3,226.8 33.6,225.5 34.9,222.5 36.2,225.7 37.5,226.5 38.8,227.3 40.1,228.1 41.4,227.9 42.7,222.9 44.0,223.6 45.3,227.9 46.6,227.8 47.9,229.3 49.3,225.5 50.6,225.5 51.9,227.0 53.2,228.5 54.5,225.7 55.8,225.4 57.1,226.9 58.4,226.3 59.7,230.2 61.0,229.8 62.3,229.8 63.6,226.9 64.9,223.8 66.2,226.1 67.5,225.1 68.8,227.1 70.1,227.8 71.4,225.1 72.7,225.2 74.0,223.6 75.3,225.0 76.6,229.9 77.9,233.3 79.2,228.7 80.6,230.4 81.9,231.5 83.2,231.4 84.5,229.5 85.8,228.0 87.1,226.4 88.4,223.5 89.7,229.0 91.0,228.6 92.3,230.4 93.6,229.8 94.9,227.1 96.2,226.5 97.5,228.6 98.8,224.7 100.1,227.0 101.4,224.3 102.7,225.1 104.0,223.4 105.3,223.9 106.6,225.4 107.9,224.9 109.2,228.5 110.5,229.1 111.8,226.5 113.2,223.4 114.5,227.5 115.8,227.3 117.1,223.3 118.4,225.8 119.7,227.2 121.0,229.2 122.3,227.1 123.6,225.9 124.9,226.8 126.2,225.8 127.5,226.2 128.8,225.1 130.1,226.0 131.4,228.2 132.7,226.3 134.0,224.8 135.3,228.2 136.6,231.2 137.9,228.8 139.2,227.5 140.5,222.2 141.8,225.2 143.1,229.4 144.5,227.3 145.8,224.4 147.1,228.5 148.4,228.0 149.7,226.3 151.0,226.6 152.3,227.1 153.6,226.2 154.9,228.8 156.2,227.5 157.5,226.9 158.8,225.8 160.1,225.5 161.4,224.8 162.7,225.3 164.0,224.9 165.3,222.8 166.6,221.1 167.9,221.5 169.2,225.4 170.5,223.0 171.8,221.6 173.1,223.0 174.4,221.8 175.8,222.5 177.1,222.3 178.4,225.0 179.7,221.9 181.0,222.8 182.3,223.4 183.6,221.7 184.9,218.4 186.2,218.1 187.5,219.1 188.8,218.4 190.1,221.3 191.4,224.1 192.7,224.9 194.0,221.3 195.3,220.4 196.6,220.1 197.9,219.3 199.2,217.7 200.5,221.5 201.8,220.8 203.1,215.3 204.4,217.0 205.7,220.6 207.0,224.6 208.4,222.3 209.7,220.3 211.0,219.6 212.3,219.1 213.6,219.1 214.9,217.2 216.2,221.4 217.5,220.7 218.8,220.3 220.1,217.6 221.4,218.0 222.7,217.1 224.0,216.4 225.3,210.3 226.6,215.6 227.9,220.0 229.2,219.0 230.5,218.8 231.8,216.3 233.1,215.6 234.4,217.0 235.7,218.6 237.0,218.7 238.3,214.1 239.7,215.9 241.0,223.7 242.3,219.6 243.6,219.6 244.9,217.9 246.2,214.5 247.5,219.6 248.8,218.8 250.1,212.5 251.4,217.2 252.7,217.3 254.0,214.9 255.3,217.6 256.6,217.0 257.9,215.5 259.2,214.3 260.5,219.8 261.8,219.2 263.1,216.8 264.4,214.8 265.7,217.1 267.0,215.9 268.3,217.4 269.6,216.9 270.9,213.9 272.3,215.0 273.6,209.8 274.9,213.4 276.2,213.1 277.5,214.7 278.8,219.6 280.1,219.9 281.4,216.0 282.7,218.5 284.0,217.8 285.3,217.4 286.6,217.6 287.9,213.3 289.2,213.4 290.5,214.9 291.8,214.8 293.1,217.0 294.4,214.6 295.7,216.4 297.0,213.3 298.3,216.8 299.6,216.8 300.9,213.2 302.2,214.2 303.6,217.1 304.9,214.6 306.2,215.3 307.5,215.3 308.8,213.9 310.1,213.4 311.4,212.9 312.7,213.9 314.0,214.8 315.3,214.8 316.6,212.5 317.9,215.2 319.2,210.3 320.5,208.6 321.8,209.7 323.1,213.7 324.4,210.4 325.7,211.4 327.0,211.0 328.3,207.7 329.6,213.1 330.9,214.6 332.2,218.7 333.5,220.5 334.8,215.3 336.2,213.7 337.5,213.2 338.8,214.8 340.1,218.7 341.4,214.3 342.7,211.5 344.0,211.3 345.3,216.5 346.6,217.2 347.9,216.8 349.2,217.2 350.5,219.0 351.8,216.3 353.1,212.2 354.4,217.2 355.7,219.5 357.0,216.6 358.3,215.8 359.6,213.9 360.9,215.9 362.2,215.7 363.5,216.9 364.8,216.9 366.1,214.3 367.5,214.4 368.8,214.6 370.1,214.1 371.4,216.5 372.7,215.3 374.0,214.0 375.3,213.1 376.6,218.5 377.9,216.2 379.2,214.3 380.5,215.5 381.8,214.2 383.1,212.5 384.4,213.9 385.7,218.4 387.0,218.8 388.3,220.2 389.6,213.6 390.9,212.2 392.2,210.6 393.5,213.4 394.8,215.3 396.1,212.2 397.4,215.7 398.7,214.1 400.1,213.3 401.4,211.1 402.7,210.9 404.0,213.7 405.3,214.4 406.6,213.2 407.9,213.1 409.2,210.1 410.5,210.0 411.8,207.6 413.1,206.1 414.4,212.6 415.7,213.1 417.0,210.5 418.3,210.2 419.6,212.4 420.9,213.6 422.2,205.9 423.5,209.7 424.8,213.8 426.1,215.2 427.4,207.8 428.7,208.3 430.0,209.7 431.4,211.3 432.7,209.8 434.0,210.6 435.3,212.8 436.6,203.6 437.9,206.3 439.2,209.2 440.5,210.6 441.8,208.8 443.1,202.9 444.4,206.3 445.7,209.9 447.0,206.2 448.3,205.7 449.6,206.1 450.9,207.6 452.2,207.7 453.5,206.8 454.8,208.1 456.1,210.5 457.4,209.7 458.7,208.0 460.0,210.3 461.3,207.8 462.7,207.1 464.0,205.0 465.3,205.8 466.6,207.0 467.9,206.6 469.2,204.5 470.5,203.7 471.8,208.0 473.1,209.5 474.4,208.2 475.7,210.3 477.0,207.0 478.3,202.3 479.6,200.8 480.9,200.0 482.2,202.6 483.5,203.0 484.8,204.3 486.1,204.0 487.4,201.6 488.7,199.8 490.0,201.6 491.3,205.8 492.6,201.6 493.9,201.7 495.3,202.8 496.6,201.0 497.9,199.1 499.2,200.8 500.5,200.9 501.8,194.3 503.1,200.5 504.4,199.5 505.7,198.2 507.0,201.7 508.3,200.2 509.6,202.1 510.9,201.8 512.2,201.2 513.5,197.4 514.8,202.1 516.1,199.7 517.4,200.7 518.7,203.6 520.0,197.7 521.3,200.8 522.6,200.9 523.9,200.1 525.2,202.1 526.6,201.8 527.9,200.4 529.2,201.4 530.5,199.1 531.8,197.1 533.1,201.8 534.4,203.4 535.7,200.2 537.0,198.2 538.3,197.9 539.6,202.3 540.9,204.2 542.2,198.2" fill="none" stroke="#4472C4" stroke-width="1.6" stroke-linejoin="round"/>
<polyline points="32.3,227.9 33.6,224.7 34.9,225.0 36.2,226.7 37.5,224.7 38.8,223.0 40.1,225.3 41.4,227.8 42.7,227.1 44.0,227.2 45.3,225.7 46.6,223.1 47.9,225.8 49.3,221.5 50.6,225.6 51.9,218.8 53.2,221.1 54.5,225.0 55.8,226.6 57.1,225.8 58.4,230.4 59.7,227.8 61.0,222.0 62.3,224.9 63.6,226.3 64.9,230.7 66.2,228.2 67.5,229.3 68.8,228.1 70.1,227.9 71.4,227.2 72.7,222.9 74.0,226.5 75.3,225.1 76.6,223.0 77.9,222.1 79.2,224.9 80.6,228.4 81.9,223.8 83.2,224.5 84.5,223.2 85.8,223.6 87.1,224.3 88.4,225.4 89.7,226.6 91.0,229.6 92.3,229.1 93.6,225.6 94.9,224.8 96.2,224.4 97.5,224.2 98.8,225.3 100.1,227.0 101.4,227.1 102.7,225.0 104.0,226.1 105.3,226.5 106.6,225.0 107.9,224.1 109.2,225.7 110.5,222.2 111.8,219.8 113.2,223.4 114.5,222.5 115.8,223.7 117.1,225.5 118.4,221.2 119.7,224.7 121.0,225.8 122.3,225.8 123.6,225.6 124.9,225.2 126.2,225.4 127.5,226.8 128.8,227.3 130.1,224.5 131.4,227.3 132.7,230.6 134.0,228.7 135.3,226.8 136.6,226.8 137.9,228.3 139.2,228.5 140.5,229.5 141.8,226.5 143.1,224.3 144.5,222.2 145.8,226.8 147.1,225.6 148.4,226.1 149.7,229.3 151.0,222.7 152.3,221.5 153.6,222.7 154.9,223.3 156.2,224.0 157.5,222.9 158.8,222.9 160.1,223.4 161.4,226.1 162.7,228.6 164.0,227.0 165.3,220.5 166.6,217.6 167.9,219.0 169.2,222.0 170.5,224.3 171.8,222.1 173.1,222.6 174.4,220.7 175.8,221.1 177.1,223.0 178.4,219.0 179.7,218.1 181.0,217.9 182.3,219.5 183.6,220.3 184.9,217.4 186.2,218.8 187.5,218.1 188.8,219.8 190.1,222.1 191.4,221.4 192.7,222.5 194.0,222.1 195.3,220.8 196.6,219.7 197.9,214.8 199.2,220.1 200.5,220.0 201.8,217.6 203.1,214.5 204.4,217.6 205.7,217.9 207.0,219.8 208.4,221.6 209.7,220.8 211.0,217.8 212.3,219.1 213.6,219.1 214.9,218.4 216.2,215.4 217.5,214.8 218.8,218.0 220.1,219.7 221.4,220.4 222.7,222.1 224.0,219.7 225.3,217.1 226.6,217.1 227.9,219.4 229.2,218.7 230.5,218.9 231.8,217.6 233.1,215.6 234.4,216.9 235.7,219.3 237.0,219.2 238.3,219.1 239.7,217.4 241.0,218.3 242.3,220.1 243.6,218.3 244.9,216.0 246.2,219.2 247.5,219.3 248.8,215.6 250.1,211.9 251.4,215.2 252.7,218.1 254.0,217.1 255.3,214.6 256.6,211.9 257.9,212.6 259.2,217.8 260.5,217.5 261.8,216.7 263.1,215.9 264.4,214.7 265.7,215.2 267.0,215.6 268.3,213.0 269.6,215.6 270.9,218.4 272.3,216.6 273.6,216.5 274.9,215.1 276.2,211.1 277.5,213.6 278.8,217.3 280.1,214.8 281.4,213.6 282.7,215.0 284.0,213.2 285.3,214.8 286.6,213.1 287.9,215.3 289.2,215.7 290.5,213.2 291.8,215.8 293.1,210.4 294.4,214.2 295.7,218.9 297.0,217.6 298.3,217.0 299.6,217.9 300.9,209.9 302.2,207.6 303.6,214.0 304.9,212.1 306.2,209.5 307.5,213.6 308.8,212.4 310.1,212.5 311.4,217.1 312.7,213.7 314.0,211.6 315.3,213.2 316.6,213.0 317.9,210.6 319.2,210.8 320.5,214.6 321.8,218.5 323.1,215.8 324.4,214.4 325.7,213.8 327.0,213.7 328.3,215.2 329.6,214.7 330.9,215.8 332.2,209.6 333.5,213.5 334.8,214.0 336.2,210.8 337.5,213.1 338.8,212.1 340.1,209.0 341.4,214.1 342.7,213.3 344.0,212.0 345.3,211.5 346.6,214.6 347.9,215.4 349.2,216.6 350.5,212.3 351.8,213.8 353.1,214.2 354.4,212.1 355.7,210.6 357.0,214.8 358.3,217.9 359.6,215.7 360.9,211.8 362.2,212.3 363.5,214.3 364.8,212.7 366.1,213.5 367.5,213.3 368.8,215.1 370.1,216.0 371.4,212.5 372.7,211.5 374.0,212.9 375.3,215.5 376.6,211.1 377.9,210.0 379.2,213.0 380.5,212.6 381.8,212.4 383.1,212.8 384.4,211.5 385.7,209.5 387.0,210.9 388.3,215.4 389.6,213.3 390.9,212.8 392.2,215.4 393.5,217.6 394.8,210.9 396.1,210.1 397.4,210.6 398.7,211.3 400.1,208.0 401.4,206.6 402.7,207.6 404.0,208.5 405.3,207.3 406.6,209.7 407.9,210.2 409.2,213.4 410.5,211.7 411.8,208.1 413.1,207.9 414.4,208.5 415.7,210.7 417.0,214.2 418.3,211.8 419.6,209.3 420.9,213.1 422.2,210.4 423.5,211.5 424.8,211.5 426.1,211.5 427.4,207.1 428.7,208.4 430.0,208.0 431.4,204.2 432.7,209.4 434.0,208.1 435.3,206.8 436.6,207.5 437.9,208.6 439.2,211.5 440.5,210.6 441.8,210.6 443.1,210.4 444.4,208.4 445.7,210.2 447.0,205.8 448.3,205.1 449.6,207.2 450.9,206.6 452.2,206.4 453.5,208.9 454.8,206.7 456.1,203.8 457.4,205.1 458.7,202.4 460.0,203.3 461.3,205.5 462.7,205.4 464.0,203.0 465.3,203.9 466.6,203.5 467.9,208.6 469.2,206.6 470.5,207.1 471.8,203.3 473.1,202.7 474.4,200.6 475.7,203.3 477.0,199.3 478.3,199.6 479.6,202.4 480.9,198.5 482.2,199.2 483.5,203.0 484.8,201.2 486.1,200.8 487.4,200.4 488.7,200.5 490.0,198.6 491.3,200.3 492.6,200.2 493.9,201.2 495.3,202.5 496.6,204.5 497.9,200.4 499.2,200.4 500.5,200.0 501.8,200.6 503.1,202.1 504.4,202.9 505.7,201.7 507.0,204.1 508.3,202.9 509.6,200.7 510.9,200.7 512.2,200.7 513.5,203.2 514.8,202.4 516.1,202.2 517.4,198.0 518.7,199.1 520.0,199.4 521.3,197.6 522.6,197.0 523.9,201.1 525.2,199.5 526.6,201.5 527.9,201.7 529.2,200.8 530.5,200.4 531.8,197.4 533.1,198.4 534.4,201.3 535.7,200.8 537.0,199.5 538.3,195.6 539.6,194.0 540.9,193.4 542.2,200.5" fill="none" stroke="#FFCD33" stroke-width="1.6" stroke-linejoin="round"/>
<polyline points="32.3,226.7 33.6,225.6 34.9,227.1 36.2,229.8 37.5,225.9 38.8,226.4 40.1,228.4 41.4,226.4 42.7,226.5 44.0,226.9 45.3,227.4 46.6,226.9 47.9,229.0 49.3,228.6 50.6,228.4 51.9,226.4 53.2,227.1 54.5,228.3 55.8,229.3 57.1,228.1 58.4,227.5 59.7,227.1 61.0,223.8 62.3,225.4 63.6,233.3 64.9,232.3 66.2,228.2 67.5,227.8 68.8,226.4 70.1,225.3 71.4,222.6 72.7,228.1 74.0,226.9 75.3,221.9 76.6,223.8 77.9,224.9 79.2,228.1 80.6,230.4 81.9,226.8 83.2,226.7 84.5,229.1 85.8,228.1 87.1,226.9 88.4,228.0 89.7,226.3 91.0,225.3 92.3,225.3 93.6,226.0 94.9,223.6 96.2,222.7 97.5,224.3 98.8,226.3 100.1,223.9 101.4,225.1 102.7,223.5 104.0,225.8 105.3,222.6 106.6,224.2 107.9,226.6 109.2,224.8 110.5,223.6 111.8,223.7 113.2,226.5 114.5,227.1 115.8,225.1 117.1,225.9 118.4,224.6 119.7,224.6 121.0,228.9 122.3,225.9 123.6,224.0 124.9,227.3 126.2,228.6 127.5,225.9 128.8,226.1 130.1,225.7 131.4,228.9 132.7,231.5 134.0,229.5 135.3,228.8 136.6,226.3 137.9,227.7 139.2,231.4 140.5,230.2 141.8,225.4 143.1,225.3 144.5,227.8 145.8,226.6 147.1,225.0 148.4,224.3 149.7,223.4 151.0,224.6 152.3,225.3 153.6,225.2 154.9,223.5 156.2,228.9 157.5,225.8 158.8,224.8 160.1,227.0 161.4,224.4 162.7,224.8 164.0,222.2 165.3,223.2 166.6,221.5 167.9,220.2 169.2,222.3 170.5,225.7 171.8,226.1 173.1,220.0 174.4,222.7 175.8,224.2 177.1,222.6 178.4,222.2 179.7,220.4 181.0,221.5 182.3,222.2 183.6,222.9 184.9,221.2 186.2,223.0 187.5,219.4 188.8,217.9 190.1,224.4 191.4,226.5 192.7,219.0 194.0,215.0 195.3,221.9 196.6,223.4 197.9,220.1 199.2,222.2 200.5,221.9 201.8,220.9 203.1,219.3 204.4,220.4 205.7,219.5 207.0,220.2 208.4,221.3 209.7,220.7 211.0,221.3 212.3,220.0 213.6,221.9 214.9,221.0 216.2,216.1 217.5,218.1 218.8,218.4 220.1,217.7 221.4,219.3 222.7,219.0 224.0,217.5 225.3,218.3 226.6,220.5 227.9,217.2 229.2,219.2 230.5,220.6 231.8,220.1 233.1,217.9 234.4,214.6 235.7,218.9 237.0,218.3 238.3,221.7 239.7,217.7 241.0,215.4 242.3,217.5 243.6,218.5 244.9,216.3 246.2,214.9 247.5,214.3 248.8,212.3 250.1,215.7 251.4,217.8 252.7,217.0 254.0,216.7 255.3,216.3 256.6,216.5 257.9,217.0 259.2,219.5 260.5,215.6 261.8,217.8 263.1,218.9 264.4,214.9 265.7,212.9 267.0,214.5 268.3,215.9 269.6,216.8 270.9,210.3 272.3,213.9 273.6,218.9 274.9,218.9 276.2,217.6 277.5,220.0 278.8,217.5 280.1,217.1 281.4,213.9 282.7,215.6 284.0,222.2 285.3,218.8 286.6,219.9 287.9,215.1 289.2,215.4 290.5,215.5 291.8,217.4 293.1,211.8 294.4,211.4 295.7,217.3 297.0,216.2 298.3,217.5 299.6,217.2 300.9,218.0 302.2,213.1 303.6,217.2 304.9,216.8 306.2,215.2 307.5,216.8 308.8,216.6 310.1,216.8 311.4,216.3 312.7,217.8 314.0,216.4 315.3,215.5 316.6,215.6 317.9,215.1 319.2,215.1 320.5,213.4 321.8,215.2 323.1,215.4 324.4,216.3 325.7,216.6 327.0,217.5 328.3,214.6 329.6,217.3 330.9,216.6 332.2,213.9 333.5,213.9 334.8,216.3 336.2,219.1 337.5,214.4 338.8,214.4 340.1,217.1 341.4,213.7 342.7,216.1 344.0,217.0 345.3,214.7 346.6,214.8 347.9,215.2 349.2,217.4 350.5,211.9 351.8,215.7 353.1,217.9 354.4,214.1 355.7,215.1 357.0,214.6 358.3,215.6 359.6,215.1 360.9,215.0 362.2,216.2 363.5,213.9 364.8,216.1 366.1,217.0 367.5,215.1 368.8,214.0 370.1,215.7 371.4,216.8 372.7,215.0 374.0,219.0 375.3,217.9 376.6,215.9 377.9,217.7 379.2,215.4 380.5,214.2 381.8,212.9 383.1,216.3 384.4,216.0 385.7,215.0 387.0,218.0 388.3,208.8 389.6,214.4 390.9,215.3 392.2,212.3 393.5,214.1 394.8,217.1 396.1,212.5 397.4,211.2 398.7,213.6 400.1,213.3 401.4,212.2 402.7,214.0 404.0,211.8 405.3,212.1 406.6,214.4 407.9,215.7 409.2,213.8 410.5,213.7 411.8,210.1 413.1,210.8 414.4,210.1 415.7,211.1 417.0,211.6 418.3,213.1 419.6,209.9 420.9,208.1 422.2,212.2 423.5,213.5 424.8,212.6 426.1,213.1 427.4,213.2 428.7,211.9 430.0,211.3 431.4,208.6 432.7,210.3 434.0,209.7 435.3,208.7 436.6,209.9 437.9,207.5 439.2,211.3 440.5,212.3 441.8,211.2 443.1,210.8 444.4,212.6 445.7,210.6 447.0,211.8 448.3,206.2 449.6,208.1 450.9,209.9 452.2,210.3 453.5,208.9 454.8,208.2 456.1,209.5 457.4,209.0 458.7,207.3 460.0,206.7 461.3,203.3 462.7,202.8 464.0,204.6 465.3,204.9 466.6,207.8 467.9,204.5 469.2,204.7 470.5,203.2 471.8,202.1 473.1,208.7 474.4,205.5 475.7,206.3 477.0,204.0 478.3,206.8 479.6,205.4 480.9,203.4 482.2,202.2 483.5,203.4 484.8,205.1 486.1,204.0 487.4,201.0 488.7,203.0 490.0,205.9 491.3,201.2 492.6,200.8 493.9,200.4 495.3,202.1 496.6,201.0 497.9,203.8 499.2,201.4 500.5,202.4 501.8,200.1 503.1,199.5 504.4,202.6 505.7,201.6 507.0,200.5 508.3,198.3 509.6,199.6 510.9,203.2 512.2,200.3 513.5,198.2 514.8,196.7 516.1,203.7 517.4,202.2 518.7,199.1 520.0,203.9 521.3,204.1 522.6,200.0 523.9,198.7 525.2,201.3 526.6,199.5 527.9,199.2 529.2,196.9 530.5,199.0 531.8,198.3 533.1,201.5 534.4,200.6 535.7,199.5 537.0,197.0 538.3,198.3 539.6,200.6 540.9,197.8 542.2,197.3" fill="none" stroke="#5B9BD5" stroke-width="1.6" stroke-linejoin="round"/>
<polyline points="32.3,226.1 33.6,225.8 34.9,227.3 36.2,228.2 37.5,228.1 38.8,224.7 40.1,229.6 41.4,226.8 42.7,226.7 44.0,228.0 45.3,230.8 46.6,229.6 47.9,225.4 49.3,227.3 50.6,224.8 51.9,224.4 53.2,224.7 54.5,225.0 55.8,229.1 57.1,227.7 58.4,226.0 59.7,228.3 61.0,223.9 62.3,227.1 63.6,227.4 64.9,228.5 66.2,226.6 67.5,228.1 68.8,228.0 70.1,228.5 71.4,225.0 72.7,229.1 74.0,226.1 75.3,225.3 76.6,225.6 77.9,227.8 79.2,224.3 80.6,223.9 81.9,225.6 83.2,225.6 84.5,226.3 85.8,225.3 87.1,227.5 88.4,225.0 89.7,225.4 91.0,229.7 92.3,231.7 93.6,227.0 94.9,225.2 96.2,222.6 97.5,224.7 98.8,226.7 100.1,227.9 101.4,225.7 102.7,226.3 104.0,227.1 105.3,224.5 106.6,221.9 107.9,224.1 109.2,226.3 110.5,224.7 111.8,227.4 113.2,228.3 114.5,224.8 115.8,225.6 117.1,223.0 118.4,224.7 119.7,227.1 121.0,225.1 122.3,223.4 123.6,226.8 124.9,229.4 126.2,229.1 127.5,229.8 128.8,230.9 130.1,230.6 131.4,226.7 132.7,225.4 134.0,228.1 135.3,226.1 136.6,224.6 137.9,223.5 139.2,226.8 140.5,227.3 141.8,225.7 143.1,225.7 144.5,224.7 145.8,223.2 147.1,225.9 148.4,225.6 149.7,227.1 151.0,226.0 152.3,226.6 153.6,226.5 154.9,225.0 156.2,224.8 157.5,222.7 158.8,222.4 160.1,225.9 161.4,223.1 162.7,227.6 164.0,223.5 165.3,221.8 166.6,224.2 167.9,223.9 169.2,224.2 170.5,222.5 171.8,229.5 173.1,226.9 174.4,226.8 175.8,221.8 177.1,218.6 178.4,218.4 179.7,219.4 181.0,220.9 182.3,222.1 183.6,218.4 184.9,219.3 186.2,222.8 187.5,224.1 188.8,221.9 190.1,217.9 191.4,216.5 192.7,216.4 194.0,221.0 195.3,220.4 196.6,217.1 197.9,218.3 199.2,218.3 200.5,222.2 201.8,220.6 203.1,219.8 204.4,220.4 205.7,221.1 207.0,221.9 208.4,216.1 209.7,218.2 211.0,221.0 212.3,216.6 213.6,217.3 214.9,216.7 216.2,218.6 217.5,220.2 218.8,219.9 220.1,217.2 221.4,216.0 222.7,216.2 224.0,215.7 225.3,214.6 226.6,215.9 227.9,214.6 229.2,214.1 230.5,215.8 231.8,217.2 233.1,218.4 234.4,220.3 235.7,219.7 237.0,214.0 238.3,215.8 239.7,216.7 241.0,212.4 242.3,213.0 243.6,214.7 244.9,213.7 246.2,215.4 247.5,214.0 248.8,210.8 250.1,212.2 251.4,214.9 252.7,213.0 254.0,212.1 255.3,214.7 256.6,214.8 257.9,211.1 259.2,215.1 260.5,217.6 261.8,214.0 263.1,209.6 264.4,212.1 265.7,213.5 267.0,219.4 268.3,216.6 269.6,212.6 270.9,214.4 272.3,211.7 273.6,212.9 274.9,212.9 276.2,211.3 277.5,215.2 278.8,215.9 280.1,214.4 281.4,214.8 282.7,217.6 284.0,212.6 285.3,213.7 286.6,214.5 287.9,213.3 289.2,214.3 290.5,211.8 291.8,213.4 293.1,213.0 294.4,215.9 295.7,215.0 297.0,213.9 298.3,216.3 299.6,216.0 300.9,214.0 302.2,211.6 303.6,211.8 304.9,212.0 306.2,212.8 307.5,211.5 308.8,210.6 310.1,213.0 311.4,213.0 312.7,213.9 314.0,218.5 315.3,215.4 316.6,213.2 317.9,212.3 319.2,213.8 320.5,212.4 321.8,215.0 323.1,213.8 324.4,210.9 325.7,216.0 327.0,214.8 328.3,214.3 329.6,214.3 330.9,214.6 332.2,212.7 333.5,216.0 334.8,216.4 336.2,213.4 337.5,215.3 338.8,212.9 340.1,213.3 341.4,214.7 342.7,214.2 344.0,213.2 345.3,212.4 346.6,214.2 347.9,214.1 349.2,216.0 350.5,215.0 351.8,217.2 353.1,214.0 354.4,212.8 355.7,208.0 357.0,209.4 358.3,212.2 359.6,210.7 360.9,212.2 362.2,216.2 363.5,218.1 364.8,211.5 366.1,212.4 367.5,216.7 368.8,212.1 370.1,211.0 371.4,213.6 372.7,212.2 374.0,216.1 375.3,214.0 376.6,212.5 377.9,211.0 379.2,211.5 380.5,211.9 381.8,211.9 383.1,213.5 384.4,210.4 385.7,212.9 387.0,211.5 388.3,212.7 389.6,213.0 390.9,211.5 392.2,210.9 393.5,209.1 394.8,209.7 396.1,212.8 397.4,211.4 398.7,212.1 400.1,214.1 401.4,214.4 402.7,212.0 404.0,213.4 405.3,214.9 406.6,212.2 407.9,210.9 409.2,211.5 410.5,213.9 411.8,212.2 413.1,209.0 414.4,212.2 415.7,210.9 417.0,205.8 418.3,209.1 419.6,212.3 420.9,214.7 422.2,211.2 423.5,213.0 424.8,211.1 426.1,212.6 427.4,213.3 428.7,207.1 430.0,208.6 431.4,207.3 432.7,207.8 434.0,210.5 435.3,209.5 436.6,209.3 437.9,207.0 439.2,207.6 440.5,208.5 441.8,204.8 443.1,206.2 444.4,207.3 445.7,209.1 447.0,207.8 448.3,210.1 449.6,207.2 450.9,208.4 452.2,206.8 453.5,206.7 454.8,205.5 456.1,205.1 457.4,205.8 458.7,206.4 460.0,209.3 461.3,209.3 462.7,203.1 464.0,203.8 465.3,206.9 466.6,201.7 467.9,205.0 469.2,203.5 470.5,202.9 471.8,203.2 473.1,203.0 474.4,206.2 475.7,204.1 477.0,203.5 478.3,202.9 479.6,203.7 480.9,204.5 482.2,204.0 483.5,201.4 484.8,203.8 486.1,201.8 487.4,201.3 488.7,201.7 490.0,200.6 491.3,200.7 492.6,202.5 493.9,200.4 495.3,197.7 496.6,202.8 497.9,202.6 499.2,201.9 500.5,197.8 501.8,202.9 503.1,200.8 504.4,198.8 505.7,201.8 507.0,201.4 508.3,202.5 509.6,203.5 510.9,200.6 512.2,198.8 513.5,200.3 514.8,199.0 516.1,197.5 517.4,197.0 518.7,201.1 520.0,198.8 521.3,201.2 522.6,203.6 523.9,201.1 525.2,197.4 526.6,198.0 527.9,199.9 529.2,195.3 530.5,196.7 531.8,198.4 533.1,199.0 534.4,197.6 535.7,198.2 537.0,195.8 538.3,196.6 539.6,196.6 540.9,198.9 542.2,201.1" fill="none" stroke="#FFC000" stroke-width="1.6" stroke-linejoin="round"/>
<path d="M83.29 243.10v-2.6M134.28 243.10v-2.6M185.27 243.10v-2.6M236.26 243.10v-2.6M287.25 243.10v-2.6M338.24 243.10v-2.6M389.23 243.10v-2.6M440.22 243.10v-2.6M491.21 243.10v-2.6M32.30 56.52h2.6M32.30 93.83h2.6M32.30 131.15h2.6M32.30 168.47h2.6M32.30 205.78h2.6" stroke="#404040" stroke-width="1" fill="none"/>
<rect x="32.3" y="19.2" width="509.90000000000003" height="223.9" fill="none" stroke="#404040" stroke-width="1.25"/>
<text x="27.3" y="22.00" text-anchor="end" font-family="'Liberation Serif', 'Times New Roman', serif" font-size="8" fill="#222" stroke="#222" stroke-width="0.2" textLength="9.06" lengthAdjust="spacingAndGlyphs">-40</text>
<text x="27.3" y="59.32" text-anchor="end" font-family="'Liberation Serif', 'Times New Roman', serif" font-size="8" fill="#222" stroke="#222" stroke-width="0.2" textLength="9.06" lengthAdjust="spacingAndGlyphs">-50</text>
<text x="27.3" y="96.63" text-anchor="end" font-family="'Liberation Serif', 'Times New Roman', serif" font-size="8" fill="#222" stroke="#222" stroke-width="0.2" textLength="9.06" lengthAdjust="spacingAndGlyphs">-60</text>
<text x="27.3" y="133.95" text-anchor="end" font-family="'Liberation Serif', 'Times New Roman', serif" font-size="8" fill="#222" stroke="#222" stroke-width="0.2" textLength="9.06" lengthAdjust="spacingAndGlyphs">-70</text>
<text x="27.3" y="171.27" text-anchor="end" font-family="'Liberation Serif', 'Times New Roman', serif" font-size="8" fill="#222" stroke="#222" stroke-width="0.2" textLength="9.06" lengthAdjust="spacingAndGlyphs">-80</text>
<text x="27.3" y="208.58" text-anchor="end" font-family="'Liberation Serif', 'Times New Roman', serif" font-size="8" fill="#222" stroke="#222" stroke-width="0.2" textLength="9.06" lengthAdjust="spacingAndGlyphs">-90</text>
<text x="27.3" y="245.90" text-anchor="end" font-family="'Liberation Serif', 'Times New Roman', serif" font-size="8" fill="#222" stroke="#222" stroke-width="0.2" textLength="12.46" lengthAdjust="spacingAndGlyphs">-100</text>
<text x="32.30" y="253.6" text-anchor="middle" font-family="'Liberation Serif', 'Times New Roman', serif" font-size="8.6" fill="#222" stroke="#222" stroke-width="0.2" textLength="3.44" lengthAdjust="spacingAndGlyphs">3</text>
<text x="83.29" y="253.6" text-anchor="middle" font-family="'Liberation Serif', 'Times New Roman', serif" font-size="8.6" fill="#222" stroke="#222" stroke-width="0.2" textLength="8.60" lengthAdjust="spacingAndGlyphs">3.5</text>
<text x="134.28" y="253.6" text-anchor="middle" font-family="'Liberation Serif', 'Times New Roman', serif" font-size="8.6" fill="#222" stroke="#222" stroke-width="0.2" textLength="3.44" lengthAdjust="spacingAndGlyphs">4</text>
<text x="185.27" y="253.6" text-anchor="middle" font-family="'Liberation Serif', 'Times New Roman', serif" font-size="8.6" fill="#222" stroke="#222" stroke-width="0.2" textLength="8.60" lengthAdjust="spacingAndGlyphs">4.5</text>
<text x="236.26" y="253.6" text-anchor="middle" font-family="'Liberation Serif', 'Times New Roman', serif" font-size="8.6" fill="#222" stroke="#222" stroke-width="0.2" textLength="3.44" lengthAdjust="spacingAndGlyphs">5</text>
<text x="287.25" y="253.6" text-anchor="middle" font-family="'Liberation Serif', 'Times New Roman', serif" font-size="8.6" fill="#222" stroke="#222" stroke-width="0.2" textLength="8.60" lengthAdjust="spacingAndGlyphs">5.5</text>
<text x="338.24" y="253.6" text-anchor="middle" font-family="'Liberation Serif', 'Times New Roman', serif" font-size="8.6" fill="#222" stroke="#222" stroke-width="0.2" textLength="3.44" lengthAdjust="spacingAndGlyphs">6</text>
<text x="389.23" y="253.6" text-anchor="middle" font-family="'Liberation Serif', 'Times New Roman', serif" font-size="8.6" fill="#222" stroke="#222" stroke-width="0.2" textLength="8.60" lengthAdjust="spacingAndGlyphs">6.5</text>
<text x="440.22" y="253.6" text-anchor="middle" font-family="'Liberation Serif', 'Times New Roman', serif" font-size="8.6" fill="#222" stroke="#222" stroke-width="0.2" textLength="3.44" lengthAdjust="spacingAndGlyphs">7</text>
<text x="491.21" y="253.6" text-anchor="middle" font-family="'Liberation Serif', 'Times New Roman', serif" font-size="8.6" fill="#222" stroke="#222" stroke-width="0.2" textLength="8.60" lengthAdjust="spacingAndGlyphs">7.5</text>
<text x="542.20" y="253.6" text-anchor="middle" font-family="'Liberation Serif', 'Times New Roman', serif" font-size="8.6" fill="#222" stroke="#222" stroke-width="0.2" textLength="3.44" lengthAdjust="spacingAndGlyphs">8</text>
<rect x="389" y="228" width="54.5" height="5" fill="#00B050"/>
<path d="M66.0 31.70h18" stroke="#5B9BD5" stroke-width="1.6"/>
<text x="86.7" y="34.20" font-family="'Liberation Sans', Arial, sans-serif" font-size="7.6" fill="#555" stroke="#555" stroke-width="0.12" textLength="55.6" lengthAdjust="spacingAndGlyphs">04/11/2021 12:00</text>
<path d="M157.5 31.70h18" stroke="#ED7D31" stroke-width="1.6"/>
<text x="178.2" y="34.20" font-family="'Liberation Sans', Arial, sans-serif" font-size="7.6" fill="#555" stroke="#555" stroke-width="0.12" textLength="55.6" lengthAdjust="spacingAndGlyphs">04/11/2021 17:59</text>
<path d="M249.0 31.70h18" stroke="#A5A5A5" stroke-width="1.6"/>
<text x="269.7" y="34.20" font-family="'Liberation Sans', Arial, sans-serif" font-size="7.6" fill="#555" stroke="#555" stroke-width="0.12" textLength="55.6" lengthAdjust="spacingAndGlyphs">04/11/2021 18:52</text>
<path d="M340.5 31.70h18" stroke="#FFC000" stroke-width="1.6"/>
<text x="361.2" y="34.20" font-family="'Liberation Sans', Arial, sans-serif" font-size="7.6" fill="#555" stroke="#555" stroke-width="0.12" textLength="55.6" lengthAdjust="spacingAndGlyphs">05/11/2021 16:02</text>
<path d="M432.0 31.70h18" stroke="#4472C4" stroke-width="1.6"/>
<text x="452.7" y="34.20" font-family="'Liberation Sans', Arial, sans-serif" font-size="7.6" fill="#555" stroke="#555" stroke-width="0.12" textLength="55.6" lengthAdjust="spacingAndGlyphs">05/11/2021 16:16</text>
<path d="M66.0 41.55h18" stroke="#70AD47" stroke-width="1.6"/>
<text x="86.7" y="44.05" font-family="'Liberation Sans', Arial, sans-serif" font-size="7.6" fill="#555" stroke="#555" stroke-width="0.12" textLength="55.6" lengthAdjust="spacingAndGlyphs">05/11/2021 20:48</text>
<path d="M157.5 41.55h18" stroke="#255E91" stroke-width="1.6"/>
<text x="178.2" y="44.05" font-family="'Liberation Sans', Arial, sans-serif" font-size="7.6" fill="#555" stroke="#555" stroke-width="0.12" textLength="55.6" lengthAdjust="spacingAndGlyphs">05/11/2021 21:00</text>
<path d="M249.0 41.55h18" stroke="#9E480E" stroke-width="1.6"/>
<text x="269.7" y="44.05" font-family="'Liberation Sans', Arial, sans-serif" font-size="7.6" fill="#555" stroke="#555" stroke-width="0.12" textLength="55.6" lengthAdjust="spacingAndGlyphs">06/11/2021 05:25</text>
<path d="M340.5 41.55h18" stroke="#636363" stroke-width="1.6"/>
<text x="361.2" y="44.05" font-family="'Liberation Sans', Arial, sans-serif" font-size="7.6" fill="#555" stroke="#555" stroke-width="0.12" textLength="55.6" lengthAdjust="spacingAndGlyphs">06/11/2021 05:31</text>
<path d="M432.0 41.55h18" stroke="#997300" stroke-width="1.6"/>
<text x="452.7" y="44.05" font-family="'Liberation Sans', Arial, sans-serif" font-size="7.6" fill="#555" stroke="#555" stroke-width="0.12" textLength="55.6" lengthAdjust="spacingAndGlyphs">06/11/2021 16:16</text>
<path d="M66.0 51.40h18" stroke="#264478" stroke-width="1.6"/>
<text x="86.7" y="53.90" font-family="'Liberation Sans', Arial, sans-serif" font-size="7.6" fill="#555" stroke="#555" stroke-width="0.12" textLength="55.6" lengthAdjust="spacingAndGlyphs">06/11/2021 20:39</text>
<path d="M157.5 51.40h18" stroke="#43682B" stroke-width="1.6"/>
<text x="178.2" y="53.90" font-family="'Liberation Sans', Arial, sans-serif" font-size="7.6" fill="#555" stroke="#555" stroke-width="0.12" textLength="55.6" lengthAdjust="spacingAndGlyphs">06/11/2021 20:43</text>
<path d="M249.0 51.40h18" stroke="#7CAFDD" stroke-width="1.6"/>
<text x="269.7" y="53.90" font-family="'Liberation Sans', Arial, sans-serif" font-size="7.6" fill="#555" stroke="#555" stroke-width="0.12" textLength="55.6" lengthAdjust="spacingAndGlyphs">07/11/2021 04:29</text>
<path d="M340.5 51.40h18" stroke="#F1975A" stroke-width="1.6"/>
<text x="361.2" y="53.90" font-family="'Liberation Sans', Arial, sans-serif" font-size="7.6" fill="#555" stroke="#555" stroke-width="0.12" textLength="55.6" lengthAdjust="spacingAndGlyphs">07/11/2021 04:35</text>
<path d="M432.0 51.40h18" stroke="#B7B7B7" stroke-width="1.6"/>
<text x="452.7" y="53.90" font-family="'Liberation Sans', Arial, sans-serif" font-size="7.6" fill="#555" stroke="#555" stroke-width="0.12" textLength="55.6" lengthAdjust="spacingAndGlyphs">07/11/2021 10:47</text>
<path d="M66.0 61.25h18" stroke="#FFCD33" stroke-width="1.6"/>
<text x="86.7" y="63.75" font-family="'Liberation Sans', Arial, sans-serif" font-size="7.6" fill="#555" stroke="#555" stroke-width="0.12" textLength="55.6" lengthAdjust="spacingAndGlyphs">07/11/2021 10:50</text>
<path d="M157.5 61.25h18" stroke="#698ED0" stroke-width="1.6"/>
<text x="178.2" y="63.75" font-family="'Liberation Sans', Arial, sans-serif" font-size="7.6" fill="#555" stroke="#555" stroke-width="0.12" textLength="55.6" lengthAdjust="spacingAndGlyphs">07/11/2021 17:11</text>
<path d="M249.0 61.25h18" stroke="#8CC168" stroke-width="1.6"/>
<text x="269.7" y="63.75" font-family="'Liberation Sans', Arial, sans-serif" font-size="7.6" fill="#555" stroke="#555" stroke-width="0.12" textLength="55.6" lengthAdjust="spacingAndGlyphs">07/11/2021 17:15</text>
<path d="M340.5 61.25h18" stroke="#327DC2" stroke-width="1.6"/>
<text x="361.2" y="63.75" font-family="'Liberation Sans', Arial, sans-serif" font-size="7.6" fill="#555" stroke="#555" stroke-width="0.12" textLength="55.6" lengthAdjust="spacingAndGlyphs">08/11/2021 04:07</text>
<path d="M432.0 61.25h18" stroke="#D26012" stroke-width="1.6"/>
<text x="452.7" y="63.75" font-family="'Liberation Sans', Arial, sans-serif" font-size="7.6" fill="#555" stroke="#555" stroke-width="0.12" textLength="55.6" lengthAdjust="spacingAndGlyphs">08/11/2021 04:11</text>
<path d="M66.0 71.10h18" stroke="#848484" stroke-width="1.6"/>
<text x="86.7" y="73.60" font-family="'Liberation Sans', Arial, sans-serif" font-size="7.6" fill="#555" stroke="#555" stroke-width="0.12" textLength="55.6" lengthAdjust="spacingAndGlyphs">08/11/2021 16:35</text>
<path d="M157.5 71.10h18" stroke="#CC9A00" stroke-width="1.6"/>
<text x="178.2" y="73.60" font-family="'Liberation Sans', Arial, sans-serif" font-size="7.6" fill="#555" stroke="#555" stroke-width="0.12" textLength="55.6" lengthAdjust="spacingAndGlyphs">08/11/2021 16:39</text>
<path d="M249.0 71.10h18" stroke="#335AA1" stroke-width="1.6"/>
<text x="269.7" y="73.60" font-family="'Liberation Sans', Arial, sans-serif" font-size="7.6" fill="#555" stroke="#555" stroke-width="0.12" textLength="55.6" lengthAdjust="spacingAndGlyphs">09/11/2021 04:21</text>
<text x="279.5" y="9.4" text-anchor="middle" font-family="'Liberation Serif', 'Times New Roman', serif" font-size="8.6" fill="#111" stroke="#111" stroke-width="0.22">Radio Frequency Survey</text>
<text x="286.5" y="264.3" text-anchor="middle" font-family="'Liberation Serif', 'Times New Roman', serif" font-size="8" fill="#111" stroke="#111" stroke-width="0.15" textLength="48.3" lengthAdjust="spacingAndGlyphs">Frequency (GHz)</text>
<text transform="translate(9.9 129.6) rotate(-90)" text-anchor="middle" font-family="'Liberation Serif', 'Times New Roman', serif" font-size="7.5" fill="#111" stroke="#111" stroke-width="0.15" textLength="86.5" lengthAdjust="spacingAndGlyphs">(Power Spectral Intensity ) dBm</text>
<text x="275.4" y="306.5" text-anchor="middle" font-family="'Liberation Serif', 'Times New Roman', serif" font-size="14.5" fill="#111">(<tspan font-weight="bold">a</tspan>)</text>
<path d="M99.60 333.50V529.50M145.20 333.50V529.50M190.80 333.50V529.50M236.40 333.50V529.50M282.00 333.50V529.50M327.60 333.50V529.50M373.20 333.50V529.50M418.80 333.50V529.50M464.40 333.50V529.50M54.00 366.17H510.00M54.00 398.83H510.00M54.00 431.50H510.00M54.00 464.17H510.00M54.00 496.83H510.00" stroke="#DCDCDC" stroke-width="1.3" fill="none"/>
<polyline points="54.0,515.8 55.4,517.4 56.7,517.9 58.1,521.5 59.4,512.0 60.8,512.6 62.1,516.0 63.5,513.8 64.9,514.9 66.2,516.6 67.6,513.5 68.9,516.2 70.3,516.8 71.6,517.5 73.0,514.8 74.4,515.5 75.7,514.5 77.1,516.9 78.4,515.6 79.8,517.4 81.1,513.8 82.5,514.8 83.9,514.7 85.2,514.9 86.6,518.0 87.9,513.7 89.3,511.1 90.6,519.7 92.0,521.0 93.4,519.6 94.7,514.1 96.1,514.9 97.4,513.0 98.8,513.7 100.1,515.0 101.5,514.9 102.9,515.4 104.2,513.3 105.6,517.4 106.9,515.9 108.3,513.4 109.6,510.0 111.0,515.5 112.4,516.7 113.7,514.7 115.1,510.9 116.4,512.7 117.8,510.1 119.1,516.5 120.5,509.8 121.9,509.6 123.2,515.0 124.6,511.4 125.9,508.4 127.3,510.7 128.6,508.8 130.0,506.4 131.4,511.9 132.7,514.8 134.1,516.3 135.4,513.7 136.8,516.1 138.1,517.0 139.5,517.1 140.9,516.3 142.2,520.2 143.6,522.0 144.9,523.1 146.3,514.7 147.6,515.6 149.0,512.7 150.4,515.9 151.7,517.5 153.1,514.7 154.4,515.9 155.8,518.7 157.1,517.1 158.5,510.8 159.9,513.1 161.2,513.4 162.6,514.7 163.9,515.2 165.3,511.5 166.6,513.3 168.0,514.7 169.4,513.4 170.7,514.5 172.1,511.5 173.4,509.3 174.8,513.0 176.1,508.4 177.5,512.5 178.9,511.0 180.2,512.8 181.6,511.5 182.9,510.6 184.3,511.7 185.6,512.4 187.0,512.3 188.4,512.8 189.7,514.0 191.1,510.6 192.4,508.2 193.8,506.9 195.1,506.6 196.5,503.1 197.9,507.9 199.2,509.7 200.6,505.0 201.9,510.6 203.3,507.2 204.6,510.7 206.0,508.7 207.4,513.1 208.7,506.9 210.1,508.7 211.4,510.1 212.8,504.2 214.1,505.6 215.5,507.7 216.9,509.5 218.2,507.7 219.6,507.4 220.9,504.8 222.3,504.6 223.6,507.9 225.0,507.9 226.4,508.1 227.7,509.5 229.1,507.6 230.4,505.8 231.8,503.2 233.1,501.9 234.5,506.3 235.9,503.7 237.2,504.8 238.6,499.5 239.9,503.8 241.3,503.6 242.6,506.9 244.0,506.8 245.4,504.3 246.7,505.2 248.1,504.2 249.4,507.9 250.8,503.5 252.1,505.9 253.5,500.6 254.9,504.4 256.2,502.5 257.6,507.7 258.9,504.3 260.3,506.8 261.6,506.2 263.0,504.9 264.4,505.2 265.7,503.8 267.1,502.3 268.4,502.6 269.8,504.9 271.1,508.1 272.5,506.9 273.9,505.8 275.2,509.4 276.6,503.1 277.9,504.6 279.3,504.6 280.6,501.8 282.0,502.0 283.4,503.6 284.7,506.4 286.1,503.5 287.4,503.6 288.8,506.0 290.1,501.7 291.5,503.3 292.9,508.9 294.2,504.9 295.6,507.0 296.9,501.7 298.3,502.5 299.6,507.2 301.0,507.1 302.4,504.9 303.7,504.8 305.1,500.9 306.4,502.5 307.8,504.9 309.1,503.9 310.5,509.4 311.9,504.3 313.2,502.5 314.6,505.0 315.9,506.5 317.3,503.2 318.6,500.0 320.0,504.3 321.4,507.4 322.7,502.6 324.1,509.3 325.4,504.9 326.8,506.4 328.1,503.6 329.5,506.5 330.9,501.8 332.2,504.1 333.6,509.3 334.9,509.9 336.3,505.1 337.6,501.0 339.0,503.2 340.4,503.8 341.7,504.2 343.1,501.9 344.4,502.4 345.8,503.0 347.1,505.3 348.5,500.1 349.9,499.7 351.2,504.8 352.6,497.0 353.9,499.8 355.3,503.4 356.6,506.4 358.0,500.4 359.4,500.0 360.7,503.2 362.1,505.6 363.4,499.5 364.8,502.8 366.1,501.9 367.5,493.9 368.9,495.0 370.2,498.5 371.6,501.9 372.9,500.4 374.3,506.4 375.6,501.6 377.0,503.1 378.4,504.5 379.7,504.6 381.1,499.7 382.4,500.0 383.8,499.7 385.1,498.6 386.5,502.7 387.9,504.2 389.2,505.3 390.6,501.6 391.9,498.6 393.3,500.4 394.6,499.2 396.0,503.1 397.4,501.9 398.7,502.4 400.1,502.4 401.4,495.3 402.8,497.2 404.1,501.4 405.5,501.7 406.9,500.4 408.2,502.8 409.6,499.1 410.9,502.4 412.3,500.9 413.6,502.1 415.0,501.1 416.4,503.2 417.7,503.7 419.1,502.0 420.4,500.8 421.8,499.6 423.1,498.1 424.5,494.3 425.9,495.9 427.2,498.0 428.6,496.1 429.9,498.6 431.3,494.0 432.6,495.9 434.0,500.3 435.4,495.5 436.7,495.7 438.1,503.4 439.4,499.5 440.8,498.6 442.1,501.8 443.5,500.1 444.9,498.8 446.2,495.1 447.6,494.4 448.9,489.6 450.3,495.6 451.6,492.9 453.0,494.8 454.4,495.0 455.7,498.7 457.1,500.3 458.4,497.2 459.8,492.8 461.1,490.6 462.5,492.8 463.9,493.6 465.2,496.0 466.6,490.6 467.9,490.8 469.3,495.1 470.6,494.7 472.0,496.1 473.4,490.5 474.7,492.2 476.1,493.5 477.4,492.3 478.8,492.1 480.1,494.2 481.5,496.4 482.9,496.8 484.2,497.0 485.6,491.0 486.9,487.2 488.3,495.5 489.6,492.0 491.0,491.1 492.4,494.0 493.7,491.9 495.1,493.9 496.4,489.1 497.8,492.4 499.1,491.0 500.5,489.6 501.9,492.4 503.2,495.5 504.6,492.3 505.9,488.9 507.3,490.4 508.6,490.1 510.0,492.7" fill="none" stroke="#5B9BD5" stroke-width="2.1" stroke-linejoin="round"/>
<polyline points="54.0,518.2 55.4,514.4 56.7,513.5 58.1,517.3 59.4,515.4 60.8,512.6 62.1,517.3 63.5,519.7 64.9,517.0 66.2,516.9 67.6,513.1 68.9,515.6 70.3,517.3 71.6,510.6 73.0,516.5 74.4,514.9 75.7,514.1 77.1,513.9 78.4,515.0 79.8,514.3 81.1,516.0 82.5,519.1 83.9,516.4 85.2,516.0 86.6,515.8 87.9,515.2 89.3,516.3 90.6,511.7 92.0,511.6 93.4,520.0 94.7,515.8 96.1,517.3 97.4,521.3 98.8,514.8 100.1,516.2 101.5,516.0 102.9,516.1 104.2,511.6 105.6,510.8 106.9,512.7 108.3,512.2 109.6,513.7 111.0,513.5 112.4,515.3 113.7,513.7 115.1,514.8 116.4,512.0 117.8,510.5 119.1,511.3 120.5,508.6 121.9,505.9 123.2,516.4 124.6,512.7 125.9,513.2 127.3,513.4 128.6,515.8 130.0,513.5 131.4,514.6 132.7,516.1 134.1,515.9 135.4,517.6 136.8,521.4 138.1,514.5 139.5,517.6 140.9,519.6 142.2,516.8 143.6,519.0 144.9,521.7 146.3,515.2 147.6,519.9 149.0,516.7 150.4,514.8 151.7,511.5 153.1,511.5 154.4,514.3 155.8,516.5 157.1,515.3 158.5,511.0 159.9,508.9 161.2,511.9 162.6,514.3 163.9,510.6 165.3,513.4 166.6,513.6 168.0,512.9 169.4,510.7 170.7,510.8 172.1,508.9 173.4,507.9 174.8,510.5 176.1,517.3 177.5,515.8 178.9,511.0 180.2,510.2 181.6,505.4 182.9,509.9 184.3,510.5 185.6,507.7 187.0,507.3 188.4,510.1 189.7,509.1 191.1,512.4 192.4,511.7 193.8,507.2 195.1,512.1 196.5,507.2 197.9,506.9 199.2,506.4 200.6,506.0 201.9,507.4 203.3,513.7 204.6,511.5 206.0,509.7 207.4,506.5 208.7,510.7 210.1,510.0 211.4,508.4 212.8,505.0 214.1,510.9 215.5,510.7 216.9,506.7 218.2,511.8 219.6,506.7 220.9,508.0 222.3,510.3 223.6,507.9 225.0,508.4 226.4,505.5 227.7,504.1 229.1,501.6 230.4,504.7 231.8,505.1 233.1,506.5 234.5,504.9 235.9,502.9 237.2,508.9 238.6,503.8 239.9,505.6 241.3,504.4 242.6,503.4 244.0,502.3 245.4,503.8 246.7,505.3 248.1,503.7 249.4,504.3 250.8,504.6 252.1,503.5 253.5,501.9 254.9,503.6 256.2,504.3 257.6,507.6 258.9,505.6 260.3,508.6 261.6,503.3 263.0,506.0 264.4,500.6 265.7,496.8 267.1,504.0 268.4,500.9 269.8,503.0 271.1,505.8 272.5,506.3 273.9,502.7 275.2,500.4 276.6,503.3 277.9,507.9 279.3,507.0 280.6,504.4 282.0,500.6 283.4,502.9 284.7,502.9 286.1,501.3 287.4,504.5 288.8,504.7 290.1,505.4 291.5,508.5 292.9,503.8 294.2,503.3 295.6,502.6 296.9,507.6 298.3,506.8 299.6,502.5 301.0,503.2 302.4,501.5 303.7,506.3 305.1,504.6 306.4,506.1 307.8,504.1 309.1,505.6 310.5,503.1 311.9,501.5 313.2,503.2 314.6,508.4 315.9,502.7 317.3,503.6 318.6,507.4 320.0,507.2 321.4,504.8 322.7,503.5 324.1,506.3 325.4,509.1 326.8,504.8 328.1,503.6 329.5,499.1 330.9,506.1 332.2,497.9 333.6,499.0 334.9,502.1 336.3,499.6 337.6,502.5 339.0,501.2 340.4,504.8 341.7,503.6 343.1,506.1 344.4,507.4 345.8,504.4 347.1,504.4 348.5,501.2 349.9,499.3 351.2,502.3 352.6,502.0 353.9,502.1 355.3,505.9 356.6,501.8 358.0,501.8 359.4,502.3 360.7,505.1 362.1,507.1 363.4,502.8 364.8,500.6 366.1,497.9 367.5,497.8 368.9,497.5 370.2,499.8 371.6,498.6 372.9,501.5 374.3,499.6 375.6,498.0 377.0,494.1 378.4,500.0 379.7,503.6 381.1,498.1 382.4,502.2 383.8,501.1 385.1,501.6 386.5,502.2 387.9,496.9 389.2,498.4 390.6,501.2 391.9,500.0 393.3,500.7 394.6,498.5 396.0,500.7 397.4,502.0 398.7,501.5 400.1,500.6 401.4,499.2 402.8,501.5 404.1,499.7 405.5,497.5 406.9,493.1 408.2,497.2 409.6,506.2 410.9,501.2 412.3,499.7 413.6,497.4 415.0,494.3 416.4,496.8 417.7,503.9 419.1,498.4 420.4,497.9 421.8,496.9 423.1,495.1 424.5,499.9 425.9,495.9 427.2,501.2 428.6,497.7 429.9,495.5 431.3,491.5 432.6,498.5 434.0,501.2 435.4,495.8 436.7,497.8 438.1,493.1 439.4,498.0 440.8,498.3 442.1,493.4 443.5,495.3 444.9,494.0 446.2,498.7 447.6,492.4 448.9,496.6 450.3,494.2 451.6,498.3 453.0,499.6 454.4,496.4 455.7,494.4 457.1,491.1 458.4,493.6 459.8,492.8 461.1,492.0 462.5,487.1 463.9,495.3 465.2,491.9 466.6,494.3 467.9,493.6 469.3,494.8 470.6,491.3 472.0,496.8 473.4,497.2 474.7,494.6 476.1,496.0 477.4,491.5 478.8,490.9 480.1,494.3 481.5,491.4 482.9,494.0 484.2,492.7 485.6,491.6 486.9,487.5 488.3,491.8 489.6,494.6 491.0,494.1 492.4,489.5 493.7,495.5 495.1,493.4 496.4,493.2 497.8,497.4 499.1,492.5 500.5,488.5 501.9,490.3 503.2,492.7 504.6,489.1 505.9,488.4 507.3,485.4 508.6,491.5 510.0,491.2" fill="none" stroke="#ED7D31" stroke-width="2.1" stroke-linejoin="round"/>
<polyline points="54.0,515.2 55.4,517.3 56.7,519.3 58.1,517.7 59.4,518.9 60.8,511.3 62.1,514.7 63.5,516.0 64.9,511.1 66.2,515.9 67.6,514.6 68.9,516.1 70.3,515.2 71.6,516.7 73.0,514.4 74.4,512.6 75.7,519.2 77.1,521.2 78.4,513.0 79.8,514.7 81.1,513.7 82.5,515.8 83.9,511.6 85.2,511.4 86.6,517.9 87.9,514.6 89.3,517.7 90.6,520.1 92.0,517.0 93.4,515.0 94.7,519.5 96.1,519.1 97.4,513.2 98.8,515.1 100.1,515.0 101.5,518.3 102.9,517.0 104.2,514.6 105.6,513.9 106.9,513.4 108.3,510.2 109.6,513.7 111.0,518.2 112.4,516.6 113.7,513.7 115.1,510.5 116.4,514.8 117.8,514.4 119.1,513.4 120.5,515.1 121.9,515.2 123.2,513.1 124.6,509.8 125.9,510.7 127.3,512.4 128.6,512.2 130.0,516.0 131.4,511.6 132.7,512.2 134.1,514.5 135.4,518.8 136.8,512.5 138.1,523.7 139.5,521.2 140.9,520.5 142.2,517.0 143.6,521.0 144.9,517.1 146.3,517.2 147.6,517.1 149.0,514.0 150.4,512.1 151.7,514.5 153.1,516.9 154.4,520.5 155.8,512.2 157.1,515.6 158.5,519.2 159.9,514.0 161.2,510.6 162.6,514.2 163.9,516.0 165.3,508.0 166.6,510.8 168.0,511.5 169.4,510.9 170.7,517.8 172.1,513.3 173.4,511.8 174.8,506.5 176.1,512.5 177.5,513.4 178.9,515.1 180.2,513.7 181.6,511.5 182.9,510.1 184.3,510.2 185.6,505.1 187.0,508.1 188.4,507.9 189.7,506.2 191.1,508.1 192.4,511.2 193.8,513.5 195.1,509.2 196.5,510.8 197.9,506.3 199.2,511.1 200.6,514.6 201.9,509.0 203.3,505.9 204.6,508.5 206.0,507.7 207.4,507.0 208.7,503.4 210.1,506.5 211.4,507.9 212.8,509.7 214.1,511.4 215.5,504.2 216.9,504.4 218.2,509.2 219.6,505.9 220.9,506.1 222.3,507.7 223.6,507.1 225.0,504.8 226.4,509.0 227.7,507.6 229.1,506.2 230.4,505.7 231.8,506.0 233.1,504.7 234.5,504.1 235.9,507.0 237.2,505.2 238.6,505.7 239.9,501.9 241.3,508.1 242.6,505.9 244.0,503.4 245.4,505.5 246.7,506.0 248.1,506.2 249.4,504.7 250.8,507.8 252.1,505.5 253.5,505.6 254.9,508.4 256.2,504.7 257.6,505.7 258.9,503.9 260.3,502.5 261.6,504.0 263.0,507.4 264.4,504.8 265.7,508.6 267.1,506.3 268.4,500.5 269.8,503.4 271.1,500.5 272.5,504.2 273.9,504.6 275.2,506.6 276.6,502.0 277.9,504.0 279.3,502.3 280.6,502.4 282.0,502.1 283.4,502.8 284.7,503.7 286.1,504.1 287.4,506.3 288.8,509.4 290.1,502.9 291.5,498.4 292.9,500.1 294.2,497.8 295.6,502.6 296.9,506.7 298.3,506.7 299.6,502.7 301.0,503.4 302.4,504.6 303.7,503.1 305.1,506.5 306.4,503.7 307.8,505.2 309.1,504.3 310.5,502.1 311.9,504.5 313.2,501.3 314.6,501.5 315.9,505.9 317.3,500.0 318.6,507.4 320.0,505.5 321.4,504.0 322.7,510.1 324.1,502.8 325.4,502.0 326.8,505.0 328.1,504.4 329.5,504.4 330.9,504.9 332.2,502.1 333.6,504.9 334.9,504.3 336.3,502.8 337.6,501.1 339.0,500.9 340.4,507.4 341.7,508.8 343.1,503.8 344.4,503.3 345.8,505.4 347.1,502.0 348.5,500.7 349.9,500.5 351.2,498.0 352.6,503.9 353.9,501.3 355.3,496.5 356.6,499.5 358.0,503.9 359.4,500.9 360.7,497.6 362.1,495.5 363.4,498.6 364.8,498.4 366.1,503.6 367.5,501.7 368.9,498.4 370.2,503.1 371.6,502.1 372.9,505.2 374.3,497.7 375.6,500.5 377.0,500.1 378.4,504.8 379.7,503.8 381.1,496.6 382.4,501.0 383.8,501.9 385.1,499.3 386.5,499.5 387.9,505.5 389.2,503.5 390.6,500.7 391.9,500.3 393.3,499.6 394.6,501.4 396.0,501.1 397.4,499.9 398.7,502.0 400.1,502.6 401.4,501.6 402.8,500.1 404.1,500.4 405.5,501.1 406.9,500.5 408.2,499.8 409.6,498.6 410.9,498.8 412.3,502.1 413.6,497.7 415.0,502.6 416.4,498.3 417.7,500.3 419.1,497.2 420.4,496.6 421.8,502.7 423.1,497.5 424.5,497.7 425.9,499.2 427.2,497.5 428.6,499.1 429.9,497.9 431.3,500.1 432.6,496.0 434.0,495.6 435.4,495.7 436.7,498.2 438.1,492.1 439.4,491.5 440.8,496.7 442.1,498.0 443.5,497.6 444.9,494.8 446.2,493.9 447.6,498.6 448.9,501.5 450.3,495.8 451.6,496.0 453.0,495.3 454.4,494.6 455.7,498.1 457.1,495.6 458.4,495.7 459.8,493.8 461.1,491.6 462.5,494.5 463.9,496.2 465.2,491.2 466.6,491.8 467.9,494.6 469.3,498.3 470.6,496.1 472.0,493.0 473.4,491.9 474.7,493.7 476.1,492.0 477.4,494.2 478.8,493.4 480.1,491.2 481.5,492.5 482.9,491.4 484.2,489.2 485.6,488.8 486.9,492.9 488.3,492.8 489.6,495.1 491.0,494.8 492.4,490.8 493.7,492.7 495.1,495.4 496.4,490.3 497.8,492.7 499.1,491.6 500.5,489.6 501.9,489.5 503.2,491.2 504.6,495.1 505.9,489.7 507.3,492.0 508.6,494.7 510.0,496.0" fill="none" stroke="#A5A5A5" stroke-width="2.1" stroke-linejoin="round"/>
<polyline points="54.0,516.9 55.4,514.6 56.7,518.1 58.1,514.9 59.4,513.4 60.8,515.0 62.1,515.8 63.5,513.3 64.9,514.0 66.2,513.5 67.6,514.2 68.9,517.4 70.3,518.6 71.6,517.0 73.0,515.4 74.4,515.9 75.7,513.6 77.1,514.6 78.4,513.5 79.8,515.4 81.1,517.1 82.5,513.7 83.9,514.4 85.2,517.5 86.6,515.9 87.9,510.0 89.3,522.5 90.6,513.7 92.0,515.0 93.4,515.8 94.7,516.3 96.1,516.0 97.4,509.8 98.8,515.6 100.1,515.6 101.5,512.8 102.9,513.4 104.2,514.7 105.6,515.2 106.9,516.8 108.3,511.6 109.6,516.0 111.0,518.8 112.4,510.7 113.7,510.3 115.1,511.6 116.4,513.2 117.8,509.7 119.1,514.8 120.5,517.2 121.9,511.4 123.2,509.0 124.6,508.7 125.9,505.4 127.3,508.3 128.6,511.8 130.0,512.3 131.4,510.6 132.7,513.5 134.1,515.0 135.4,519.2 136.8,517.1 138.1,519.1 139.5,516.4 140.9,516.4 142.2,514.5 143.6,512.1 144.9,515.7 146.3,512.9 147.6,518.1 149.0,515.2 150.4,512.3 151.7,510.3 153.1,516.9 154.4,515.5 155.8,514.2 157.1,514.5 158.5,516.7 159.9,518.1 161.2,516.7 162.6,513.8 163.9,515.3 165.3,507.9 166.6,508.8 168.0,515.9 169.4,512.8 170.7,507.7 172.1,506.7 173.4,508.0 174.8,513.8 176.1,511.5 177.5,507.4 178.9,509.8 180.2,511.1 181.6,508.5 182.9,507.0 184.3,508.7 185.6,508.3 187.0,506.6 188.4,510.2 189.7,510.9 191.1,507.4 192.4,511.0 193.8,507.8 195.1,509.6 196.5,506.6 197.9,510.3 199.2,505.3 200.6,506.8 201.9,508.5 203.3,509.6 204.6,508.2 206.0,509.9 207.4,510.1 208.7,504.7 210.1,504.8 211.4,504.0 212.8,510.2 214.1,512.2 215.5,510.7 216.9,505.0 218.2,504.7 219.6,510.1 220.9,504.3 222.3,507.2 223.6,509.0 225.0,506.2 226.4,504.4 227.7,506.0 229.1,506.4 230.4,508.0 231.8,509.2 233.1,507.1 234.5,508.9 235.9,504.2 237.2,506.3 238.6,502.3 239.9,507.7 241.3,501.8 242.6,506.5 244.0,506.8 245.4,503.8 246.7,502.2 248.1,504.4 249.4,504.8 250.8,499.5 252.1,502.8 253.5,507.1 254.9,504.6 256.2,499.9 257.6,502.5 258.9,501.2 260.3,498.9 261.6,504.3 263.0,503.0 264.4,505.0 265.7,503.5 267.1,502.5 268.4,506.7 269.8,503.6 271.1,502.8 272.5,501.1 273.9,505.1 275.2,506.7 276.6,503.0 277.9,505.9 279.3,502.9 280.6,501.9 282.0,505.0 283.4,503.9 284.7,506.4 286.1,510.8 287.4,508.4 288.8,508.8 290.1,504.2 291.5,505.9 292.9,504.0 294.2,503.3 295.6,501.3 296.9,504.4 298.3,504.8 299.6,502.3 301.0,499.8 302.4,503.4 303.7,503.2 305.1,504.5 306.4,506.3 307.8,508.1 309.1,505.1 310.5,505.3 311.9,504.5 313.2,499.9 314.6,504.8 315.9,504.2 317.3,505.1 318.6,502.2 320.0,504.8 321.4,500.5 322.7,504.7 324.1,502.9 325.4,502.6 326.8,505.2 328.1,502.9 329.5,504.7 330.9,506.7 332.2,506.4 333.6,503.3 334.9,500.0 336.3,504.7 337.6,502.9 339.0,505.5 340.4,503.7 341.7,506.8 343.1,505.5 344.4,503.3 345.8,504.7 347.1,503.0 348.5,500.0 349.9,502.4 351.2,504.1 352.6,505.0 353.9,502.8 355.3,498.7 356.6,501.5 358.0,501.6 359.4,499.5 360.7,499.0 362.1,499.0 363.4,502.3 364.8,504.3 366.1,505.9 367.5,503.5 368.9,502.0 370.2,499.4 371.6,500.2 372.9,502.0 374.3,499.2 375.6,503.9 377.0,504.0 378.4,504.2 379.7,503.6 381.1,501.8 382.4,502.7 383.8,501.9 385.1,497.7 386.5,503.7 387.9,503.2 389.2,500.8 390.6,498.5 391.9,498.3 393.3,499.8 394.6,500.1 396.0,499.5 397.4,497.5 398.7,501.6 400.1,504.7 401.4,499.3 402.8,501.5 404.1,498.5 405.5,495.1 406.9,497.1 408.2,494.3 409.6,501.4 410.9,498.0 412.3,496.8 413.6,496.2 415.0,499.6 416.4,497.9 417.7,497.6 419.1,498.0 420.4,501.7 421.8,502.2 423.1,496.6 424.5,496.6 425.9,497.2 427.2,495.7 428.6,495.0 429.9,499.5 431.3,495.3 432.6,492.9 434.0,493.9 435.4,494.8 436.7,495.2 438.1,500.0 439.4,497.8 440.8,493.6 442.1,492.3 443.5,494.7 444.9,497.0 446.2,496.1 447.6,493.1 448.9,490.1 450.3,493.1 451.6,496.2 453.0,493.7 454.4,493.1 455.7,488.6 457.1,492.6 458.4,494.4 459.8,495.1 461.1,497.5 462.5,497.0 463.9,495.5 465.2,495.6 466.6,493.1 467.9,492.7 469.3,490.5 470.6,489.3 472.0,492.2 473.4,493.8 474.7,497.0 476.1,491.8 477.4,490.8 478.8,494.1 480.1,493.5 481.5,493.4 482.9,489.1 484.2,489.3 485.6,488.7 486.9,493.3 488.3,485.5 489.6,492.9 491.0,493.9 492.4,491.0 493.7,491.8 495.1,486.9 496.4,491.6 497.8,492.5 499.1,488.3 500.5,487.8 501.9,492.4 503.2,492.0 504.6,491.3 505.9,490.1 507.3,485.5 508.6,486.1 510.0,486.9" fill="none" stroke="#FFC000" stroke-width="2.1" stroke-linejoin="round"/>
<rect x="54" y="333.5" width="456" height="196.0" fill="none" stroke="#2a2a2a" stroke-width="2"/>
<text x="48.3" y="336.00" text-anchor="end" font-family="'Liberation Serif', 'Times New Roman', serif" font-size="7.3" fill="#222" stroke="#222" stroke-width="0.15" textLength="8.27" lengthAdjust="spacingAndGlyphs">-40</text>
<text x="48.3" y="368.67" text-anchor="end" font-family="'Liberation Serif', 'Times New Roman', serif" font-size="7.3" fill="#222" stroke="#222" stroke-width="0.15" textLength="8.27" lengthAdjust="spacingAndGlyphs">-50</text>
<text x="48.3" y="401.33" text-anchor="end" font-family="'Liberation Serif', 'Times New Roman', serif" font-size="7.3" fill="#222" stroke="#222" stroke-width="0.15" textLength="8.27" lengthAdjust="spacingAndGlyphs">-60</text>
<text x="48.3" y="434.00" text-anchor="end" font-family="'Liberation Serif', 'Times New Roman', serif" font-size="7.3" fill="#222" stroke="#222" stroke-width="0.15" textLength="8.27" lengthAdjust="spacingAndGlyphs">-70</text>
<text x="48.3" y="466.67" text-anchor="end" font-family="'Liberation Serif', 'Times New Roman', serif" font-size="7.3" fill="#222" stroke="#222" stroke-width="0.15" textLength="8.27" lengthAdjust="spacingAndGlyphs">-80</text>
<text x="48.3" y="499.33" text-anchor="end" font-family="'Liberation Serif', 'Times New Roman', serif" font-size="7.3" fill="#222" stroke="#222" stroke-width="0.15" textLength="8.27" lengthAdjust="spacingAndGlyphs">-90</text>
<text x="48.3" y="532.00" text-anchor="end" font-family="'Liberation Serif', 'Times New Roman', serif" font-size="7.3" fill="#222" stroke="#222" stroke-width="0.15" textLength="11.37" lengthAdjust="spacingAndGlyphs">-100</text>
<text x="54.00" y="539.2" text-anchor="middle" font-family="'Liberation Serif', 'Times New Roman', serif" font-size="8" fill="#222" stroke="#222" stroke-width="0.15" textLength="3.04" lengthAdjust="spacingAndGlyphs">3</text>
<text x="99.60" y="539.2" text-anchor="middle" font-family="'Liberation Serif', 'Times New Roman', serif" font-size="8" fill="#222" stroke="#222" stroke-width="0.15" textLength="7.60" lengthAdjust="spacingAndGlyphs">3.5</text>
<text x="145.20" y="539.2" text-anchor="middle" font-family="'Liberation Serif', 'Times New Roman', serif" font-size="8" fill="#222" stroke="#222" stroke-width="0.15" textLength="3.04" lengthAdjust="spacingAndGlyphs">4</text>
<text x="190.80" y="539.2" text-anchor="middle" font-family="'Liberation Serif', 'Times New Roman', serif" font-size="8" fill="#222" stroke="#222" stroke-width="0.15" textLength="7.60" lengthAdjust="spacingAndGlyphs">4.5</text>
<text x="236.40" y="539.2" text-anchor="middle" font-family="'Liberation Serif', 'Times New Roman', serif" font-size="8" fill="#222" stroke="#222" stroke-width="0.15" textLength="3.04" lengthAdjust="spacingAndGlyphs">5</text>
<text x="282.00" y="539.2" text-anchor="middle" font-family="'Liberation Serif', 'Times New Roman', serif" font-size="8" fill="#222" stroke="#222" stroke-width="0.15" textLength="7.60" lengthAdjust="spacingAndGlyphs">5.5</text>
<text x="327.60" y="539.2" text-anchor="middle" font-family="'Liberation Serif', 'Times New Roman', serif" font-size="8" fill="#222" stroke="#222" stroke-width="0.15" textLength="3.04" lengthAdjust="spacingAndGlyphs">6</text>
<text x="373.20" y="539.2" text-anchor="middle" font-family="'Liberation Serif', 'Times New Roman', serif" font-size="8" fill="#222" stroke="#222" stroke-width="0.15" textLength="7.60" lengthAdjust="spacingAndGlyphs">6.5</text>
<text x="418.80" y="539.2" text-anchor="middle" font-family="'Liberation Serif', 'Times New Roman', serif" font-size="8" fill="#222" stroke="#222" stroke-width="0.15" textLength="3.04" lengthAdjust="spacingAndGlyphs">7</text>
<text x="464.40" y="539.2" text-anchor="middle" font-family="'Liberation Serif', 'Times New Roman', serif" font-size="8" fill="#222" stroke="#222" stroke-width="0.15" textLength="7.60" lengthAdjust="spacingAndGlyphs">7.5</text>
<text x="510.00" y="539.2" text-anchor="middle" font-family="'Liberation Serif', 'Times New Roman', serif" font-size="8" fill="#222" stroke="#222" stroke-width="0.15" textLength="3.04" lengthAdjust="spacingAndGlyphs">8</text>
<path d="M523 320.3h8" stroke="#ECECEC" stroke-width="1"/>
<path d="M523 335.7h8" stroke="#ECECEC" stroke-width="1"/>
<path d="M523 351.0h8" stroke="#ECECEC" stroke-width="1"/>
<path d="M523 366.4h8" stroke="#ECECEC" stroke-width="1"/>
<path d="M523 381.7h8" stroke="#ECECEC" stroke-width="1"/>
<path d="M523 397.1h8" stroke="#ECECEC" stroke-width="1"/>
<path d="M523 412.4h8" stroke="#ECECEC" stroke-width="1"/>
<path d="M523 427.8h8" stroke="#ECECEC" stroke-width="1"/>
<path d="M523 443.1h8" stroke="#ECECEC" stroke-width="1"/>
<path d="M523 458.5h8" stroke="#ECECEC" stroke-width="1"/>
<path d="M523 473.8h8" stroke="#ECECEC" stroke-width="1"/>
<path d="M523 489.1h8" stroke="#ECECEC" stroke-width="1"/>
<path d="M523 504.5h8" stroke="#ECECEC" stroke-width="1"/>
<path d="M523 519.9h8" stroke="#ECECEC" stroke-width="1"/>
<path d="M523 535.2h8" stroke="#ECECEC" stroke-width="1"/>
<path d="M523 550.5h8" stroke="#ECECEC" stroke-width="1"/>
<text x="214.2" y="318.2" font-family="'Liberation Serif', 'Times New Roman', serif" font-size="10.6" fill="#111" stroke="#111" stroke-width="0.12">Radio Frequency Survey</text>
<text x="428" y="356.7" font-family="'Liberation Sans', Arial, sans-serif" font-size="8.4" fill="#222" stroke="#222" stroke-width="0.15" textLength="64.3" lengthAdjust="spacingAndGlyphs">R10N, 17-Feb-22</text>
<text x="281.5" y="551.3" text-anchor="middle" font-family="'Liberation Serif', 'Times New Roman', serif" font-size="8.4" fill="#111" stroke="#111" stroke-width="0.12">Frequency (GHz)</text>
<text transform="translate(32.1 431) rotate(-90)" text-anchor="middle" font-family="'Liberation Serif', 'Times New Roman', serif" font-size="9.1" fill="#111" stroke="#111" stroke-width="0.1" textLength="108.5" lengthAdjust="spacingAndGlyphs">Power Spectral Intensity (dBm)</text>
<text x="275.4" y="572.8" text-anchor="middle" font-family="'Liberation Serif', 'Times New Roman', serif" font-size="14.5" fill="#111">(<tspan font-weight="bold">b</tspan>)</text>
<path d="M100.18 611.50V785.50M149.16 611.50V785.50M198.14 611.50V785.50M247.12 611.50V785.50M296.10 611.50V785.50M345.08 611.50V785.50M394.06 611.50V785.50M443.04 611.50V785.50M492.02 611.50V785.50M51.20 640.50H541.00M51.20 669.50H541.00M51.20 698.50H541.00M51.20 727.50H541.00M51.20 756.50H541.00" stroke="#E0E0E0" stroke-width="1.7" fill="none"/>
<polyline points="51.2,768.4 52.6,776.9 53.9,772.0 55.3,773.1 56.6,773.0 58.0,772.9 59.3,776.3 60.7,773.0 62.1,772.7 63.4,764.5 64.8,770.2 66.1,772.2 67.5,772.2 68.8,773.0 70.2,773.7 71.6,772.0 72.9,770.0 74.3,771.0 75.6,768.8 77.0,770.8 78.3,770.2 79.7,767.1 81.0,769.1 82.4,771.4 83.8,770.8 85.1,768.7 86.5,766.2 87.8,770.5 89.2,770.7 90.5,768.4 91.9,772.0 93.3,770.8 94.6,768.0 96.0,768.4 97.3,769.3 98.7,769.0 100.0,775.4 101.4,768.4 102.8,771.9 104.1,773.2 105.5,768.8 106.8,767.5 108.2,770.1 109.5,771.3 110.9,769.0 112.3,768.3 113.6,765.2 115.0,766.2 116.3,767.3 117.7,765.7 119.0,768.4 120.4,769.6 121.8,766.4 123.1,766.1 124.5,767.9 125.8,769.2 127.2,768.1 128.5,773.2 129.9,767.4 131.3,767.8 132.6,772.3 134.0,769.8 135.3,771.3 136.7,768.7 138.0,774.4 139.4,772.4 140.7,768.9 142.1,768.4 143.5,775.3 144.8,772.7 146.2,770.9 147.5,772.3 148.9,768.8 150.2,773.8 151.6,771.3 153.0,773.1 154.3,768.4 155.7,770.7 157.0,772.1 158.4,774.0 159.7,767.1 161.1,768.0 162.5,767.8 163.8,766.8 165.2,768.5 166.5,770.7 167.9,771.0 169.2,770.3 170.6,766.2 172.0,771.3 173.3,770.0 174.7,768.8 176.0,767.3 177.4,766.6 178.7,770.2 180.1,771.2 181.5,767.0 182.8,764.0 184.2,764.6 185.5,765.9 186.9,767.0 188.2,765.8 189.6,766.5 190.9,764.6 192.3,767.4 193.7,765.7 195.0,765.7 196.4,764.3 197.7,764.2 199.1,759.5 200.4,761.0 201.8,762.2 203.2,769.4 204.5,766.7 205.9,766.4 207.2,764.7 208.6,769.4 209.9,762.5 211.3,762.4 212.7,767.4 214.0,767.2 215.4,766.3 216.7,764.0 218.1,761.9 219.4,759.3 220.8,763.3 222.2,762.0 223.5,762.3 224.9,759.1 226.2,760.6 227.6,760.0 228.9,764.8 230.3,763.7 231.7,764.0 233.0,759.1 234.4,760.6 235.7,762.8 237.1,763.0 238.4,761.2 239.8,763.4 241.2,763.7 242.5,760.1 243.9,756.1 245.2,761.5 246.6,763.1 247.9,764.6 249.3,764.6 250.6,760.5 252.0,759.5 253.4,761.1 254.7,760.7 256.1,761.0 257.4,761.4 258.8,764.6 260.1,762.5 261.5,761.2 262.9,763.0 264.2,762.6 265.6,763.1 266.9,761.7 268.3,759.3 269.6,761.6 271.0,761.0 272.4,758.8 273.7,758.6 275.1,757.3 276.4,764.4 277.8,759.3 279.1,761.3 280.5,759.9 281.9,758.0 283.2,757.2 284.6,757.4 285.9,758.9 287.3,756.4 288.6,759.9 290.0,759.9 291.4,758.2 292.7,760.1 294.1,755.0 295.4,756.3 296.8,754.6 298.1,759.2 299.5,760.4 300.8,759.3 302.2,758.3 303.6,760.7 304.9,759.1 306.3,759.6 307.6,757.0 309.0,761.2 310.3,758.6 311.7,762.0 313.1,763.1 314.4,762.9 315.8,763.6 317.1,760.7 318.5,758.6 319.8,760.2 321.2,759.2 322.6,757.4 323.9,760.1 325.3,760.8 326.6,762.2 328.0,764.4 329.3,760.4 330.7,764.8 332.1,760.6 333.4,761.2 334.8,759.1 336.1,761.6 337.5,763.5 338.8,761.5 340.2,763.0 341.6,762.3 342.9,761.7 344.3,762.1 345.6,762.4 347.0,763.6 348.3,762.8 349.7,766.2 351.0,762.8 352.4,763.9 353.8,759.1 355.1,759.0 356.5,765.2 357.8,761.6 359.2,761.9 360.5,763.6 361.9,760.8 363.3,762.8 364.6,765.4 366.0,762.3 367.3,761.6 368.7,761.4 370.0,763.8 371.4,760.1 372.8,759.7 374.1,763.8 375.5,762.9 376.8,761.6 378.2,761.8 379.5,757.3 380.9,760.2 382.3,763.1 383.6,762.9 385.0,760.5 386.3,755.8 387.7,760.5 389.0,760.5 390.4,759.7 391.8,760.2 393.1,756.0 394.5,761.0 395.8,758.9 397.2,759.6 398.5,759.2 399.9,762.0 401.3,756.4 402.6,759.6 404.0,759.7 405.3,761.6 406.7,761.0 408.0,757.6 409.4,756.4 410.7,756.6 412.1,755.7 413.5,756.7 414.8,758.2 416.2,756.7 417.5,756.9 418.9,758.2 420.2,756.3 421.6,755.0 423.0,757.0 424.3,758.3 425.7,755.7 427.0,753.3 428.4,757.5 429.7,757.8 431.1,757.3 432.5,755.1 433.8,760.7 435.2,756.4 436.5,754.3 437.9,757.7 439.2,753.4 440.6,755.0 442.0,757.5 443.3,756.5 444.7,759.8 446.0,757.4 447.4,752.5 448.7,756.8 450.1,751.8 451.5,754.9 452.8,753.2 454.2,755.5 455.5,760.1 456.9,756.8 458.2,754.8 459.6,757.2 460.9,757.3 462.3,753.6 463.7,755.4 465.0,757.6 466.4,755.0 467.7,751.5 469.1,753.6 470.4,750.7 471.8,749.4 473.2,752.7 474.5,755.4 475.9,755.6 477.2,752.5 478.6,750.1 479.9,751.0 481.3,750.7 482.7,752.5 484.0,751.2 485.4,752.5 486.7,752.5 488.1,754.5 489.4,754.9 490.8,752.6 492.2,753.7 493.5,753.2 494.9,749.8 496.2,750.2 497.6,744.2 498.9,748.0 500.3,751.6 501.7,749.1 503.0,749.8 504.4,751.6 505.7,748.4 507.1,752.6 508.4,757.0 509.8,749.5 511.2,750.8 512.5,747.1 513.9,751.1 515.2,752.2 516.6,747.1 517.9,751.5 519.3,749.0 520.6,746.3 522.0,748.9 523.4,749.4 524.7,748.9 526.1,747.5 527.4,750.4 528.8,747.6 530.1,746.8 531.5,743.7 532.9,749.1 534.2,750.4 535.6,747.2 536.9,748.9 538.3,747.7 539.6,747.4 541.0,745.3" fill="none" stroke="#5B9BD5" stroke-width="2.4" stroke-linejoin="round"/>
<polyline points="51.2,770.8 52.6,771.2 53.9,773.3 55.3,770.1 56.6,774.3 58.0,773.1 59.3,771.6 60.7,772.0 62.1,770.1 63.4,769.2 64.8,771.7 66.1,772.5 67.5,772.4 68.8,771.8 70.2,769.4 71.6,771.0 72.9,770.1 74.3,771.1 75.6,772.2 77.0,769.2 78.3,772.5 79.7,770.4 81.0,767.6 82.4,772.5 83.8,771.2 85.1,773.9 86.5,772.2 87.8,773.5 89.2,771.3 90.5,771.3 91.9,769.4 93.3,766.3 94.6,768.5 96.0,768.2 97.3,769.7 98.7,770.5 100.0,772.0 101.4,773.8 102.8,769.4 104.1,765.7 105.5,768.0 106.8,769.7 108.2,765.8 109.5,769.9 110.9,770.9 112.3,772.0 113.6,771.1 115.0,768.7 116.3,764.1 117.7,768.5 119.0,770.8 120.4,770.0 121.8,769.3 123.1,771.9 124.5,767.8 125.8,766.4 127.2,767.3 128.5,767.4 129.9,771.7 131.3,772.5 132.6,766.4 134.0,766.9 135.3,772.3 136.7,769.4 138.0,769.4 139.4,768.6 140.7,769.6 142.1,771.2 143.5,770.0 144.8,770.2 146.2,771.4 147.5,775.9 148.9,778.5 150.2,774.1 151.6,774.6 153.0,770.3 154.3,768.8 155.7,769.6 157.0,770.7 158.4,769.5 159.7,767.2 161.1,770.4 162.5,767.2 163.8,767.1 165.2,767.5 166.5,765.4 167.9,769.2 169.2,766.6 170.6,770.0 172.0,770.1 173.3,770.1 174.7,767.2 176.0,769.4 177.4,767.8 178.7,769.4 180.1,764.7 181.5,762.8 182.8,765.6 184.2,763.1 185.5,764.6 186.9,761.7 188.2,765.9 189.6,769.1 190.9,763.2 192.3,765.9 193.7,768.0 195.0,767.6 196.4,769.0 197.7,766.1 199.1,766.9 200.4,761.6 201.8,763.2 203.2,768.3 204.5,768.2 205.9,766.4 207.2,768.5 208.6,764.8 209.9,764.4 211.3,765.7 212.7,764.9 214.0,762.1 215.4,759.6 216.7,759.5 218.1,762.4 219.4,761.4 220.8,764.3 222.2,762.6 223.5,764.8 224.9,761.9 226.2,765.6 227.6,765.4 228.9,763.0 230.3,762.0 231.7,765.8 233.0,764.1 234.4,762.5 235.7,762.3 237.1,764.3 238.4,762.6 239.8,762.7 241.2,759.3 242.5,761.1 243.9,765.4 245.2,767.3 246.6,762.0 247.9,759.3 249.3,760.9 250.6,760.0 252.0,762.9 253.4,764.3 254.7,760.0 256.1,760.6 257.4,760.1 258.8,763.9 260.1,761.3 261.5,762.1 262.9,759.5 264.2,762.0 265.6,762.4 266.9,761.8 268.3,757.8 269.6,760.3 271.0,762.4 272.4,763.1 273.7,762.4 275.1,757.7 276.4,763.8 277.8,762.2 279.1,758.4 280.5,757.3 281.9,759.9 283.2,758.1 284.6,757.8 285.9,757.6 287.3,759.1 288.6,756.2 290.0,758.5 291.4,756.6 292.7,761.3 294.1,758.2 295.4,762.4 296.8,762.9 298.1,759.2 299.5,761.2 300.8,759.2 302.2,761.4 303.6,756.3 304.9,759.5 306.3,762.1 307.6,759.5 309.0,758.2 310.3,761.3 311.7,758.6 313.1,755.3 314.4,757.6 315.8,759.9 317.1,761.3 318.5,759.5 319.8,764.1 321.2,767.4 322.6,763.0 323.9,762.6 325.3,757.0 326.6,760.0 328.0,762.9 329.3,763.2 330.7,760.0 332.1,762.4 333.4,762.2 334.8,761.1 336.1,760.8 337.5,760.9 338.8,760.4 340.2,757.9 341.6,757.6 342.9,763.5 344.3,756.0 345.6,759.9 347.0,758.6 348.3,762.3 349.7,760.4 351.0,760.3 352.4,760.3 353.8,758.8 355.1,759.5 356.5,762.7 357.8,760.8 359.2,758.7 360.5,758.9 361.9,761.2 363.3,761.4 364.6,761.3 366.0,763.4 367.3,763.3 368.7,757.7 370.0,761.0 371.4,760.6 372.8,761.8 374.1,757.3 375.5,756.4 376.8,760.3 378.2,759.6 379.5,761.4 380.9,756.5 382.3,758.1 383.6,761.6 385.0,757.8 386.3,759.1 387.7,759.3 389.0,759.6 390.4,761.8 391.8,761.6 393.1,759.2 394.5,760.5 395.8,761.7 397.2,755.9 398.5,760.0 399.9,761.3 401.3,761.1 402.6,758.0 404.0,757.0 405.3,758.3 406.7,757.6 408.0,762.2 409.4,760.3 410.7,759.9 412.1,758.6 413.5,758.1 414.8,761.9 416.2,752.3 417.5,759.2 418.9,757.3 420.2,755.8 421.6,755.7 423.0,757.9 424.3,764.3 425.7,760.5 427.0,756.4 428.4,759.5 429.7,760.5 431.1,762.3 432.5,754.9 433.8,755.6 435.2,758.5 436.5,757.0 437.9,756.9 439.2,758.7 440.6,757.0 442.0,755.3 443.3,754.2 444.7,752.8 446.0,755.3 447.4,756.2 448.7,754.6 450.1,756.6 451.5,757.4 452.8,752.6 454.2,755.0 455.5,754.0 456.9,753.2 458.2,756.2 459.6,752.8 460.9,752.8 462.3,753.7 463.7,753.0 465.0,755.7 466.4,758.5 467.7,754.9 469.1,755.2 470.4,751.6 471.8,752.5 473.2,754.1 474.5,752.5 475.9,749.5 477.2,749.7 478.6,751.2 479.9,751.4 481.3,752.9 482.7,752.3 484.0,750.8 485.4,751.9 486.7,751.5 488.1,754.4 489.4,755.9 490.8,755.5 492.2,752.2 493.5,748.0 494.9,748.3 496.2,753.1 497.6,754.2 498.9,749.1 500.3,749.6 501.7,752.9 503.0,748.1 504.4,748.9 505.7,746.8 507.1,748.4 508.4,747.5 509.8,748.7 511.2,751.5 512.5,750.4 513.9,750.6 515.2,747.9 516.6,751.6 517.9,752.7 519.3,747.9 520.6,746.2 522.0,745.4 523.4,746.7 524.7,752.1 526.1,750.9 527.4,750.1 528.8,749.3 530.1,753.2 531.5,748.9 532.9,748.0 534.2,750.2 535.6,747.8 536.9,745.4 538.3,747.3 539.6,745.2 541.0,745.3" fill="none" stroke="#ED7D31" stroke-width="2.4" stroke-linejoin="round"/>
<polyline points="51.2,770.7 52.6,771.8 53.9,768.3 55.3,769.7 56.6,769.5 58.0,774.4 59.3,771.3 60.7,773.6 62.1,770.8 63.4,771.0 64.8,773.5 66.1,770.8 67.5,768.4 68.8,769.6 70.2,769.9 71.6,772.9 72.9,772.8 74.3,773.3 75.6,770.4 77.0,767.9 78.3,769.3 79.7,770.7 81.0,772.8 82.4,769.9 83.8,771.5 85.1,775.2 86.5,774.9 87.8,772.0 89.2,771.9 90.5,767.0 91.9,770.1 93.3,772.7 94.6,771.1 96.0,767.0 97.3,771.5 98.7,768.5 100.0,768.4 101.4,766.4 102.8,768.2 104.1,770.1 105.5,768.3 106.8,768.9 108.2,767.3 109.5,768.5 110.9,764.7 112.3,768.5 113.6,768.2 115.0,770.1 116.3,768.7 117.7,768.5 119.0,767.9 120.4,766.5 121.8,769.3 123.1,769.9 124.5,766.0 125.8,768.8 127.2,769.6 128.5,766.2 129.9,767.7 131.3,774.8 132.6,770.7 134.0,767.9 135.3,768.0 136.7,770.5 138.0,767.0 139.4,771.7 140.7,771.2 142.1,770.4 143.5,770.6 144.8,769.2 146.2,769.1 147.5,771.0 148.9,768.9 150.2,772.7 151.6,771.5 153.0,767.3 154.3,770.0 155.7,768.5 157.0,771.2 158.4,770.9 159.7,770.2 161.1,769.6 162.5,770.1 163.8,769.1 165.2,767.2 166.5,765.9 167.9,767.6 169.2,766.6 170.6,766.2 172.0,770.5 173.3,771.0 174.7,764.2 176.0,764.3 177.4,766.9 178.7,766.8 180.1,769.5 181.5,770.3 182.8,767.2 184.2,769.8 185.5,765.4 186.9,767.8 188.2,765.5 189.6,761.6 190.9,761.6 192.3,765.9 193.7,763.9 195.0,767.9 196.4,767.2 197.7,764.7 199.1,762.7 200.4,766.3 201.8,764.5 203.2,765.4 204.5,768.1 205.9,765.7 207.2,762.2 208.6,764.9 209.9,763.9 211.3,763.3 212.7,766.0 214.0,761.9 215.4,760.6 216.7,760.2 218.1,761.2 219.4,765.0 220.8,765.8 222.2,766.1 223.5,766.2 224.9,765.4 226.2,761.3 227.6,760.3 228.9,764.1 230.3,762.0 231.7,765.7 233.0,764.2 234.4,765.4 235.7,766.5 237.1,762.9 238.4,762.4 239.8,763.4 241.2,763.7 242.5,764.3 243.9,762.6 245.2,763.1 246.6,761.4 247.9,763.8 249.3,760.9 250.6,759.7 252.0,758.2 253.4,758.5 254.7,760.6 256.1,763.1 257.4,765.2 258.8,761.2 260.1,757.6 261.5,757.7 262.9,766.3 264.2,763.3 265.6,762.1 266.9,763.1 268.3,760.8 269.6,760.8 271.0,761.7 272.4,761.1 273.7,764.1 275.1,763.2 276.4,762.4 277.8,759.1 279.1,763.5 280.5,761.0 281.9,758.7 283.2,759.9 284.6,758.7 285.9,761.0 287.3,759.0 288.6,757.3 290.0,754.5 291.4,757.3 292.7,756.5 294.1,759.3 295.4,759.0 296.8,756.1 298.1,757.7 299.5,756.3 300.8,757.2 302.2,754.3 303.6,754.4 304.9,760.7 306.3,756.0 307.6,758.5 309.0,759.0 310.3,760.1 311.7,758.9 313.1,762.7 314.4,762.4 315.8,762.2 317.1,759.9 318.5,758.3 319.8,758.8 321.2,760.0 322.6,762.5 323.9,764.8 325.3,760.5 326.6,760.4 328.0,759.7 329.3,757.9 330.7,761.1 332.1,762.1 333.4,766.1 334.8,760.6 336.1,761.4 337.5,762.9 338.8,761.1 340.2,763.9 341.6,762.5 342.9,757.3 344.3,759.2 345.6,759.1 347.0,759.4 348.3,759.7 349.7,760.1 351.0,756.2 352.4,760.3 353.8,759.4 355.1,761.2 356.5,762.3 357.8,766.7 359.2,765.2 360.5,757.5 361.9,757.1 363.3,761.2 364.6,760.6 366.0,759.4 367.3,762.0 368.7,757.2 370.0,762.4 371.4,762.9 372.8,766.1 374.1,757.8 375.5,759.3 376.8,757.1 378.2,761.9 379.5,760.0 380.9,760.1 382.3,759.5 383.6,755.3 385.0,754.6 386.3,757.0 387.7,760.8 389.0,758.4 390.4,757.3 391.8,758.8 393.1,759.0 394.5,759.5 395.8,762.2 397.2,759.6 398.5,756.9 399.9,761.9 401.3,759.8 402.6,758.5 404.0,762.7 405.3,760.9 406.7,763.6 408.0,761.8 409.4,763.0 410.7,761.8 412.1,760.6 413.5,759.8 414.8,760.0 416.2,763.4 417.5,755.7 418.9,758.7 420.2,760.7 421.6,759.6 423.0,757.7 424.3,760.0 425.7,759.1 427.0,758.8 428.4,756.8 429.7,758.9 431.1,756.5 432.5,756.4 433.8,757.0 435.2,754.4 436.5,756.9 437.9,759.1 439.2,756.1 440.6,756.0 442.0,756.2 443.3,754.9 444.7,750.7 446.0,754.6 447.4,754.8 448.7,755.8 450.1,752.9 451.5,755.6 452.8,757.6 454.2,758.0 455.5,754.1 456.9,753.5 458.2,758.1 459.6,756.4 460.9,752.8 462.3,752.0 463.7,756.5 465.0,754.7 466.4,752.0 467.7,754.4 469.1,754.5 470.4,754.6 471.8,755.8 473.2,752.9 474.5,752.2 475.9,755.4 477.2,752.1 478.6,749.7 479.9,750.9 481.3,749.8 482.7,752.2 484.0,749.0 485.4,752.1 486.7,747.3 488.1,751.7 489.4,752.8 490.8,753.0 492.2,751.9 493.5,751.8 494.9,752.1 496.2,751.1 497.6,748.9 498.9,748.5 500.3,750.5 501.7,747.9 503.0,752.1 504.4,752.6 505.7,752.4 507.1,749.1 508.4,753.1 509.8,752.4 511.2,746.3 512.5,744.6 513.9,746.0 515.2,751.7 516.6,748.9 517.9,746.8 519.3,748.7 520.6,752.2 522.0,750.3 523.4,752.7 524.7,751.0 526.1,743.8 527.4,746.7 528.8,751.7 530.1,751.6 531.5,747.6 532.9,748.8 534.2,746.8 535.6,748.9 536.9,748.2 538.3,747.5 539.6,750.2 541.0,751.9" fill="none" stroke="#A5A5A5" stroke-width="2.4" stroke-linejoin="round"/>
<polyline points="51.2,769.6 52.6,767.7 53.9,768.0 55.3,769.5 56.6,773.0 58.0,769.4 59.3,768.3 60.7,773.3 62.1,773.4 63.4,773.1 64.8,773.0 66.1,771.5 67.5,772.2 68.8,770.0 70.2,772.7 71.6,770.8 72.9,771.4 74.3,772.0 75.6,768.1 77.0,769.4 78.3,768.8 79.7,770.3 81.0,768.4 82.4,768.5 83.8,770.5 85.1,773.6 86.5,768.4 87.8,768.1 89.2,769.1 90.5,769.2 91.9,769.5 93.3,769.7 94.6,772.2 96.0,770.3 97.3,769.4 98.7,771.4 100.0,771.7 101.4,765.9 102.8,768.1 104.1,770.4 105.5,771.5 106.8,775.8 108.2,773.3 109.5,769.7 110.9,766.9 112.3,773.1 113.6,770.4 115.0,764.5 116.3,766.5 117.7,767.1 119.0,765.7 120.4,768.2 121.8,768.3 123.1,766.3 124.5,766.2 125.8,769.7 127.2,765.6 128.5,771.9 129.9,769.6 131.3,762.3 132.6,768.8 134.0,767.9 135.3,771.1 136.7,770.2 138.0,771.2 139.4,770.6 140.7,767.9 142.1,765.7 143.5,767.4 144.8,766.9 146.2,771.0 147.5,767.6 148.9,768.9 150.2,767.7 151.6,771.2 153.0,770.5 154.3,767.0 155.7,768.2 157.0,769.5 158.4,770.9 159.7,769.6 161.1,767.9 162.5,767.3 163.8,769.9 165.2,769.3 166.5,767.8 167.9,770.2 169.2,766.3 170.6,767.7 172.0,768.6 173.3,773.4 174.7,771.8 176.0,770.1 177.4,769.0 178.7,769.5 180.1,766.4 181.5,766.6 182.8,767.8 184.2,770.6 185.5,763.9 186.9,766.3 188.2,765.0 189.6,767.3 190.9,765.9 192.3,764.3 193.7,764.6 195.0,763.3 196.4,764.9 197.7,761.3 199.1,768.7 200.4,766.3 201.8,762.9 203.2,765.1 204.5,766.0 205.9,768.2 207.2,762.7 208.6,768.0 209.9,763.6 211.3,763.4 212.7,761.7 214.0,760.7 215.4,765.1 216.7,765.8 218.1,765.1 219.4,767.3 220.8,762.4 222.2,764.1 223.5,763.4 224.9,765.5 226.2,763.5 227.6,764.3 228.9,763.6 230.3,764.9 231.7,760.9 233.0,764.5 234.4,768.3 235.7,762.0 237.1,763.4 238.4,764.0 239.8,757.3 241.2,762.2 242.5,765.3 243.9,763.7 245.2,761.5 246.6,762.0 247.9,758.9 249.3,759.3 250.6,763.1 252.0,761.4 253.4,760.1 254.7,762.2 256.1,762.1 257.4,759.4 258.8,760.6 260.1,764.5 261.5,763.0 262.9,762.2 264.2,761.8 265.6,762.5 266.9,758.6 268.3,763.1 269.6,763.4 271.0,761.2 272.4,765.8 273.7,763.5 275.1,759.9 276.4,763.7 277.8,762.5 279.1,758.2 280.5,759.1 281.9,760.2 283.2,760.1 284.6,761.7 285.9,760.0 287.3,760.0 288.6,754.8 290.0,758.4 291.4,760.6 292.7,760.0 294.1,759.9 295.4,762.6 296.8,761.2 298.1,756.7 299.5,762.3 300.8,761.0 302.2,757.1 303.6,756.3 304.9,761.1 306.3,757.0 307.6,759.7 309.0,756.2 310.3,758.5 311.7,760.3 313.1,758.4 314.4,758.9 315.8,761.1 317.1,755.9 318.5,760.1 319.8,758.1 321.2,761.6 322.6,764.8 323.9,763.4 325.3,760.9 326.6,758.8 328.0,756.7 329.3,760.2 330.7,761.8 332.1,763.7 333.4,761.5 334.8,761.1 336.1,765.7 337.5,758.8 338.8,758.0 340.2,756.2 341.6,762.6 342.9,761.5 344.3,761.6 345.6,764.5 347.0,763.7 348.3,763.3 349.7,760.2 351.0,759.8 352.4,758.1 353.8,762.0 355.1,764.1 356.5,760.5 357.8,760.1 359.2,759.3 360.5,758.4 361.9,761.8 363.3,759.8 364.6,763.0 366.0,760.7 367.3,759.3 368.7,760.9 370.0,760.8 371.4,763.9 372.8,762.5 374.1,761.0 375.5,763.6 376.8,762.2 378.2,755.6 379.5,759.8 380.9,762.9 382.3,762.9 383.6,758.8 385.0,766.4 386.3,762.1 387.7,759.6 389.0,761.8 390.4,760.1 391.8,763.0 393.1,761.0 394.5,760.6 395.8,760.6 397.2,760.3 398.5,759.9 399.9,757.9 401.3,760.5 402.6,761.2 404.0,760.4 405.3,760.8 406.7,763.5 408.0,764.5 409.4,762.8 410.7,759.2 412.1,760.6 413.5,759.2 414.8,752.4 416.2,755.6 417.5,759.0 418.9,759.7 420.2,755.9 421.6,759.4 423.0,755.6 424.3,756.1 425.7,755.0 427.0,758.9 428.4,756.5 429.7,761.3 431.1,757.9 432.5,754.8 433.8,756.0 435.2,760.8 436.5,756.1 437.9,755.9 439.2,757.0 440.6,758.3 442.0,757.4 443.3,757.5 444.7,754.1 446.0,754.5 447.4,753.3 448.7,754.4 450.1,758.4 451.5,755.2 452.8,751.2 454.2,757.1 455.5,755.1 456.9,756.9 458.2,756.9 459.6,754.3 460.9,752.4 462.3,752.6 463.7,753.0 465.0,752.6 466.4,757.2 467.7,752.6 469.1,753.0 470.4,754.2 471.8,754.0 473.2,755.1 474.5,751.2 475.9,754.8 477.2,756.3 478.6,753.3 479.9,753.7 481.3,752.1 482.7,748.8 484.0,751.6 485.4,750.8 486.7,746.9 488.1,753.7 489.4,750.5 490.8,748.1 492.2,746.8 493.5,745.8 494.9,751.3 496.2,749.4 497.6,750.6 498.9,751.7 500.3,752.6 501.7,753.6 503.0,749.5 504.4,748.5 505.7,751.8 507.1,748.5 508.4,750.9 509.8,752.6 511.2,755.3 512.5,747.6 513.9,747.6 515.2,750.0 516.6,750.6 517.9,752.2 519.3,748.6 520.6,749.0 522.0,747.8 523.4,748.8 524.7,752.2 526.1,752.3 527.4,748.4 528.8,751.9 530.1,747.9 531.5,746.5 532.9,750.4 534.2,746.7 535.6,747.4 536.9,746.7 538.3,748.9 539.6,747.7 541.0,746.7" fill="none" stroke="#FFC000" stroke-width="2.4" stroke-linejoin="round"/>
<rect x="51.2" y="611.5" width="489.8" height="174.0" fill="none" stroke="#1a1a1a" stroke-width="1.7"/>
<text x="44.5" y="614.90" text-anchor="end" font-family="'Liberation Serif', 'Times New Roman', serif" font-size="10.2" fill="#222" stroke="#222" stroke-width="0.12" textLength="17.21" lengthAdjust="spacingAndGlyphs">−40.</text>
<text x="44.5" y="643.90" text-anchor="end" font-family="'Liberation Serif', 'Times New Roman', serif" font-size="10.2" fill="#222" stroke="#222" stroke-width="0.12" textLength="17.21" lengthAdjust="spacingAndGlyphs">−50.</text>
<text x="44.5" y="672.90" text-anchor="end" font-family="'Liberation Serif', 'Times New Roman', serif" font-size="10.2" fill="#222" stroke="#222" stroke-width="0.12" textLength="17.21" lengthAdjust="spacingAndGlyphs">−60.</text>
<text x="44.5" y="701.90" text-anchor="end" font-family="'Liberation Serif', 'Times New Roman', serif" font-size="10.2" fill="#222" stroke="#222" stroke-width="0.12" textLength="17.21" lengthAdjust="spacingAndGlyphs">−70.</text>
<text x="44.5" y="730.90" text-anchor="end" font-family="'Liberation Serif', 'Times New Roman', serif" font-size="10.2" fill="#222" stroke="#222" stroke-width="0.12" textLength="17.21" lengthAdjust="spacingAndGlyphs">−80.</text>
<text x="44.5" y="759.90" text-anchor="end" font-family="'Liberation Serif', 'Times New Roman', serif" font-size="10.2" fill="#222" stroke="#222" stroke-width="0.12" textLength="17.21" lengthAdjust="spacingAndGlyphs">−90.</text>
<text x="44.5" y="788.90" text-anchor="end" font-family="'Liberation Serif', 'Times New Roman', serif" font-size="10.2" fill="#222" stroke="#222" stroke-width="0.12" textLength="21.95" lengthAdjust="spacingAndGlyphs">−100.</text>
<text x="51.20" y="801.4" text-anchor="middle" font-family="'Liberation Serif', 'Times New Roman', serif" font-size="9.8" fill="#222" stroke="#222" stroke-width="0.12" textLength="4.70" lengthAdjust="spacingAndGlyphs">3</text>
<text x="100.18" y="801.4" text-anchor="middle" font-family="'Liberation Serif', 'Times New Roman', serif" font-size="9.8" fill="#222" stroke="#222" stroke-width="0.12" textLength="11.76" lengthAdjust="spacingAndGlyphs">3.5</text>
<text x="149.16" y="801.4" text-anchor="middle" font-family="'Liberation Serif', 'Times New Roman', serif" font-size="9.8" fill="#222" stroke="#222" stroke-width="0.12" textLength="4.70" lengthAdjust="spacingAndGlyphs">4</text>
<text x="198.14" y="801.4" text-anchor="middle" font-family="'Liberation Serif', 'Times New Roman', serif" font-size="9.8" fill="#222" stroke="#222" stroke-width="0.12" textLength="11.76" lengthAdjust="spacingAndGlyphs">4.5</text>
<text x="247.12" y="801.4" text-anchor="middle" font-family="'Liberation Serif', 'Times New Roman', serif" font-size="9.8" fill="#222" stroke="#222" stroke-width="0.12" textLength="4.70" lengthAdjust="spacingAndGlyphs">5</text>
<text x="296.10" y="801.4" text-anchor="middle" font-family="'Liberation Serif', 'Times New Roman', serif" font-size="9.8" fill="#222" stroke="#222" stroke-width="0.12" textLength="11.76" lengthAdjust="spacingAndGlyphs">5.5</text>
<text x="345.08" y="801.4" text-anchor="middle" font-family="'Liberation Serif', 'Times New Roman', serif" font-size="9.8" fill="#222" stroke="#222" stroke-width="0.12" textLength="4.70" lengthAdjust="spacingAndGlyphs">6</text>
<text x="394.06" y="801.4" text-anchor="middle" font-family="'Liberation Serif', 'Times New Roman', serif" font-size="9.8" fill="#222" stroke="#222" stroke-width="0.12" textLength="11.76" lengthAdjust="spacingAndGlyphs">6.5</text>
<text x="443.04" y="801.4" text-anchor="middle" font-family="'Liberation Serif', 'Times New Roman', serif" font-size="9.8" fill="#222" stroke="#222" stroke-width="0.12" textLength="4.70" lengthAdjust="spacingAndGlyphs">7</text>
<text x="492.02" y="801.4" text-anchor="middle" font-family="'Liberation Serif', 'Times New Roman', serif" font-size="9.8" fill="#222" stroke="#222" stroke-width="0.12" textLength="11.76" lengthAdjust="spacingAndGlyphs">7.5</text>
<text x="541.00" y="801.4" text-anchor="middle" font-family="'Liberation Serif', 'Times New Roman', serif" font-size="9.8" fill="#222" stroke="#222" stroke-width="0.12" textLength="4.70" lengthAdjust="spacingAndGlyphs">8</text>
<text x="274.3" y="597.6" text-anchor="middle" font-family="'Liberation Serif', 'Times New Roman', serif" font-size="12.2" fill="#111">Radio Frequency Survey</text>
<path d="M62.6 642.4H88.8" stroke="#5B9BD5" stroke-width="2"/>
<text x="91.7" y="646.4" font-family="'Liberation Sans', Arial, sans-serif" font-size="10.4" fill="#262626" stroke="#262626" stroke-width="0.15" textLength="78" lengthAdjust="spacingAndGlyphs">1st Measurement</text>
<path d="M174.2 642.4H200" stroke="#ED7D31" stroke-width="2"/>
<text x="203.2" y="646.4" font-family="'Liberation Sans', Arial, sans-serif" font-size="10.4" fill="#262626" stroke="#262626" stroke-width="0.15" textLength="83.4" lengthAdjust="spacingAndGlyphs">2nd Measurement</text>
<path d="M289.2 642.4H315" stroke="#A5A5A5" stroke-width="2"/>
<text x="317.6" y="646.4" font-family="'Liberation Sans', Arial, sans-serif" font-size="10.4" fill="#262626" stroke="#262626" stroke-width="0.15" textLength="80.4" lengthAdjust="spacingAndGlyphs">3rd Measurement</text>
<path d="M402.6 642.4H427.8" stroke="#FFC000" stroke-width="2"/>
<text x="430.6" y="646.4" font-family="'Liberation Sans', Arial, sans-serif" font-size="10.4" fill="#262626" stroke="#262626" stroke-width="0.15" textLength="79.7" lengthAdjust="spacingAndGlyphs">4th Measurement</text>
<text x="303.7" y="818" text-anchor="middle" font-family="'Liberation Serif', 'Times New Roman', serif" font-size="12.1" fill="#111">Frequency (GHz)</text>
<text transform="translate(15.9 698.8) rotate(-90)" text-anchor="middle" font-family="'Liberation Serif', 'Times New Roman', serif" font-size="12.5" fill="#111" textLength="156.5" lengthAdjust="spacingAndGlyphs">Power Spectral Intensity (dBm)</text>
<text x="275.4" y="843.6" text-anchor="middle" font-family="'Liberation Serif', 'Times New Roman', serif" font-size="14.5" fill="#111">(<tspan font-weight="bold">c</tspan>)</text>
</svg>
</body></html>
